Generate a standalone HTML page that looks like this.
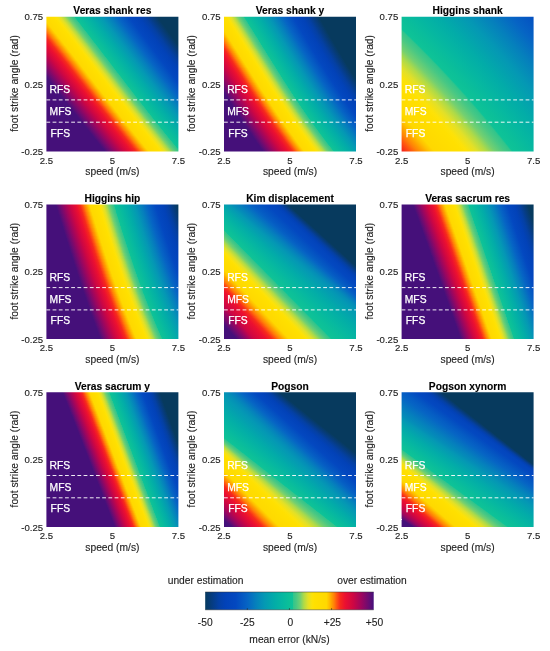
<!DOCTYPE html>
<html lang="en"><head><meta charset="utf-8"><title>Mean error heatmaps</title>
<style>html,body{margin:0;padding:0;background:#fff}body{width:550px;height:651px;overflow:hidden}svg{display:block}text{font-family:"Liberation Sans", sans-serif;fill:#222;stroke:#222;stroke-width:.12px;font-size:10.25px}.t{font-weight:bold;fill:#000;stroke:#000;text-anchor:middle}.k{font-size:9.6px}.l{text-anchor:middle}.w{font-size:10.3px;fill:#fff;stroke:#fff;stroke-width:.25px}.d{stroke:#fff;stroke-width:1;stroke-dasharray:3.8 2.4;fill:none;opacity:.92}</style></head><body>
<svg width="550" height="651" viewBox="0 0 550 651">
<rect width="550" height="651" fill="#fff"/>
<defs>
<linearGradient id="b0"><stop offset="0" stop-color="#ffa000"/><stop offset=".06" stop-color="#ffc000"/><stop offset=".12" stop-color="#ffd800"/><stop offset=".4" stop-color="#ffe000"/><stop offset=".46" stop-color="#fde208"/><stop offset=".56" stop-color="#e2e028"/><stop offset=".66" stop-color="#aeda48"/><stop offset=".74" stop-color="#74d070"/><stop offset=".84" stop-color="#48c884"/><stop offset=".908" stop-color="#32c58b"/><stop offset=".928" stop-color="#0ec397"/><stop offset="1" stop-color="#0cc098"/></linearGradient>
<linearGradient id="b1"><stop offset="0" stop-color="#0cc098"/><stop offset=".16" stop-color="#06b8a0"/><stop offset=".36" stop-color="#02aca8"/><stop offset=".6" stop-color="#0498b4"/><stop offset=".8" stop-color="#0580bc"/><stop offset="1" stop-color="#0664c4"/></linearGradient>
<linearGradient id="b2"><stop offset="0" stop-color="#0664c4"/><stop offset=".28" stop-color="#0348c0"/><stop offset=".52" stop-color="#0242b8"/><stop offset=".68" stop-color="#0440a4"/><stop offset=".84" stop-color="#063c80"/><stop offset="1" stop-color="#073a5e"/></linearGradient>
<linearGradient id="b3"><stop offset="0" stop-color="#45107a"/><stop offset=".12" stop-color="#6a0c72"/><stop offset=".28" stop-color="#9a0660"/><stop offset=".48" stop-color="#cc0644"/><stop offset=".68" stop-color="#ec1030"/><stop offset=".8" stop-color="#f62a1c"/><stop offset=".88" stop-color="#ff5610"/><stop offset=".94" stop-color="#ff8008"/><stop offset="1" stop-color="#ffa000"/></linearGradient>
<linearGradient id="b4"><stop offset="0" stop-color="#45107a"/><stop offset=".03" stop-color="#6a0c72"/><stop offset=".07" stop-color="#9a0660"/><stop offset=".12" stop-color="#cc0644"/><stop offset=".17" stop-color="#ec1030"/><stop offset=".2" stop-color="#f62a1c"/><stop offset=".22" stop-color="#ff5610"/><stop offset=".235" stop-color="#ff8008"/><stop offset=".25" stop-color="#ffa000"/><stop offset=".265" stop-color="#ffc000"/><stop offset=".28" stop-color="#ffd800"/><stop offset=".35" stop-color="#ffe000"/><stop offset=".365" stop-color="#fde208"/><stop offset=".39" stop-color="#e2e028"/><stop offset=".415" stop-color="#aeda48"/><stop offset=".435" stop-color="#74d070"/><stop offset=".46" stop-color="#48c884"/><stop offset=".477" stop-color="#32c58b"/><stop offset=".482" stop-color="#0ec397"/><stop offset=".5" stop-color="#0cc098"/><stop offset=".54" stop-color="#06b8a0"/><stop offset=".59" stop-color="#02aca8"/><stop offset=".65" stop-color="#0498b4"/><stop offset=".7" stop-color="#0580bc"/><stop offset=".75" stop-color="#0664c4"/><stop offset=".82" stop-color="#0348c0"/><stop offset=".88" stop-color="#0242b8"/><stop offset=".92" stop-color="#0440a4"/><stop offset=".96" stop-color="#063c80"/><stop offset="1" stop-color="#073a5e"/></linearGradient>
<linearGradient id="b5"><stop offset="0" stop-color="#35c58a"/><stop offset=".0103" stop-color="#32c58b"/><stop offset=".0359" stop-color="#0ec397"/><stop offset=".1282" stop-color="#0cc098"/><stop offset=".3333" stop-color="#06b8a0"/><stop offset=".5897" stop-color="#02aca8"/><stop offset=".8974" stop-color="#0498b4"/><stop offset="1" stop-color="#048eb7"/></linearGradient>
<linearGradient id="b6"><stop offset="0" stop-color="#048eb7"/><stop offset=".3" stop-color="#0580bc"/><stop offset=".8" stop-color="#0664c4"/><stop offset="1" stop-color="#055cc3"/></linearGradient>
<linearGradient id="b7"><stop offset="0" stop-color="#055cc3"/><stop offset=".7143" stop-color="#0348c0"/><stop offset="1" stop-color="#0346bd"/></linearGradient>
<linearGradient id="b8"><stop offset="0" stop-color="#0346bd"/><stop offset=".25" stop-color="#0242b8"/><stop offset=".5" stop-color="#0440a4"/><stop offset=".75" stop-color="#063c80"/><stop offset="1" stop-color="#073a5e"/></linearGradient>
<linearGradient id="b9"><stop offset="0" stop-color="#ffde00"/><stop offset=".1379" stop-color="#ffe000"/><stop offset=".2414" stop-color="#fde208"/><stop offset=".4138" stop-color="#e2e028"/><stop offset=".5862" stop-color="#aeda48"/><stop offset=".7241" stop-color="#74d070"/><stop offset=".8966" stop-color="#48c884"/><stop offset="1" stop-color="#35c58a"/></linearGradient>
<linearGradient id="b10"><stop offset="0" stop-color="#ff640d"/><stop offset=".0952" stop-color="#ff8008"/><stop offset=".2381" stop-color="#ffa000"/><stop offset=".381" stop-color="#ffc000"/><stop offset=".5238" stop-color="#ffd800"/><stop offset="1" stop-color="#ffde00"/></linearGradient>
<linearGradient id="b11"><stop offset="0" stop-color="#ec1030"/><stop offset=".5455" stop-color="#f62a1c"/><stop offset=".9091" stop-color="#ff5610"/><stop offset="1" stop-color="#ff640d"/></linearGradient>
<linearGradient id="b12"><stop offset="0" stop-color="#cc0644"/><stop offset="1" stop-color="#ec1030"/></linearGradient>
<linearGradient id="b13"><stop offset="0" stop-color="#9a0660"/><stop offset="1" stop-color="#cc0644"/></linearGradient>
<linearGradient id="b14"><stop offset="0" stop-color="#45107a"/><stop offset=".4286" stop-color="#6a0c72"/><stop offset="1" stop-color="#9a0660"/></linearGradient>
<linearGradient id="b15"><stop offset="0" stop-color="#ffd900"/><stop offset="1" stop-color="#ffde00"/></linearGradient>
<linearGradient id="b16"><stop offset="0" stop-color="#ff640d"/><stop offset=".1667" stop-color="#ff8008"/><stop offset=".4167" stop-color="#ffa000"/><stop offset=".6667" stop-color="#ffc000"/><stop offset=".9167" stop-color="#ffd800"/><stop offset="1" stop-color="#ffd900"/></linearGradient>
<linearGradient id="b17"><stop offset="0" stop-color="#9a0660"/><stop offset=".5" stop-color="#cc0644"/><stop offset="1" stop-color="#ec1030"/></linearGradient>
<linearGradient id="cb">
<stop offset="0" stop-color="#073a5e"/>
<stop offset=".04" stop-color="#063c80"/>
<stop offset=".08" stop-color="#0440a4"/>
<stop offset=".12" stop-color="#0242b8"/>
<stop offset=".18" stop-color="#0348c0"/>
<stop offset=".25" stop-color="#0664c4"/>
<stop offset=".3" stop-color="#0580bc"/>
<stop offset=".35" stop-color="#0498b4"/>
<stop offset=".41" stop-color="#02aca8"/>
<stop offset=".46" stop-color="#06b8a0"/>
<stop offset=".5" stop-color="#0cc098"/>
<stop offset=".518" stop-color="#0ec397"/>
<stop offset=".523" stop-color="#32c58b"/>
<stop offset=".54" stop-color="#48c884"/>
<stop offset=".565" stop-color="#74d070"/>
<stop offset=".585" stop-color="#aeda48"/>
<stop offset=".61" stop-color="#e2e028"/>
<stop offset=".635" stop-color="#fde208"/>
<stop offset=".65" stop-color="#ffe000"/>
<stop offset=".72" stop-color="#ffd800"/>
<stop offset=".735" stop-color="#ffc000"/>
<stop offset=".75" stop-color="#ffa000"/>
<stop offset=".765" stop-color="#ff8008"/>
<stop offset=".78" stop-color="#ff5610"/>
<stop offset=".8" stop-color="#f62a1c"/>
<stop offset=".83" stop-color="#ec1030"/>
<stop offset=".88" stop-color="#cc0644"/>
<stop offset=".93" stop-color="#9a0660"/>
<stop offset=".97" stop-color="#6a0c72"/>
<stop offset="1" stop-color="#45107a"/>
</linearGradient></defs>
<clipPath id="c0"><rect x="46.4" y="16.7" width="132" height="134.7"/></clipPath>
<g class="r" clip-path="url(#c0)" shape-rendering="crispEdges">
<g fill="url(#b0)">
<rect x="37.5" y="16" width="40" height="1"/>
<rect x="38.25" y="17" width="40" height="1"/>
<rect x="39" y="18" width="40" height="1"/>
<rect x="39.75" y="19" width="40" height="1"/>
<rect x="40.75" y="20" width="39.75" height="1"/>
<rect x="41.5" y="21" width="39.75" height="1"/>
<rect x="42.25" y="22" width="40" height="1"/>
<rect x="43" y="23" width="40" height="1"/>
<rect x="44" y="24" width="39.75" height="1"/>
<rect x="44.75" y="25" width="39.75" height="1"/>
<rect x="45.5" y="26" width="39.75" height="1"/>
<rect x="46.25" y="27" width="39.75" height="1"/>
<rect x="47.25" y="28" width="39.5" height="1"/>
<rect x="48" y="29" width="39.5" height="1"/>
<rect x="48.75" y="30" width="39.5" height="1"/>
<rect x="49.5" y="31" width="39.75" height="1"/>
<rect x="50.25" y="32" width="39.75" height="1"/>
<rect x="51" y="33" width="39.75" height="1"/>
<rect x="52" y="34" width="39.5" height="1"/>
<rect x="52.75" y="35" width="39.5" height="1"/>
<rect x="53.5" y="36" width="39.5" height="1"/>
<rect x="54.25" y="37" width="39.5" height="1"/>
<rect x="55" y="38" width="39.5" height="1"/>
<rect x="56" y="39" width="39.25" height="1"/>
<rect x="56.75" y="40" width="39.25" height="1"/>
<rect x="57.5" y="41" width="39.25" height="1"/>
<rect x="58.25" y="42" width="39.25" height="1"/>
<rect x="59" y="43" width="39.5" height="1"/>
<rect x="59.75" y="44" width="39.5" height="1"/>
<rect x="60.5" y="45" width="39.5" height="1"/>
<rect x="61.5" y="46" width="39.25" height="1"/>
<rect x="62.25" y="47" width="39.25" height="1"/>
<rect x="63" y="48" width="39.25" height="1"/>
<rect x="63.75" y="49" width="39.25" height="1"/>
<rect x="64.5" y="50" width="39.25" height="1"/>
<rect x="65.25" y="51" width="39.25" height="1"/>
<rect x="66" y="52" width="39.25" height="1"/>
<rect x="67" y="53" width="39" height="1"/>
<rect x="67.75" y="54" width="39" height="1"/>
<rect x="68.5" y="55" width="39" height="1"/>
<rect x="69.25" y="56" width="39" height="1"/>
<rect x="70" y="57" width="39.25" height="1"/>
<rect x="70.75" y="58" width="39.25" height="1"/>
<rect x="71.5" y="59" width="39.25" height="1"/>
<rect x="72.25" y="60" width="39.25" height="1"/>
<rect x="73.25" y="61" width="39" height="1"/>
<rect x="74" y="62" width="39" height="1"/>
<rect x="74.75" y="63" width="39" height="1"/>
<rect x="75.5" y="64" width="39" height="1"/>
<rect x="76.25" y="65" width="39" height="1"/>
<rect x="77" y="66" width="39" height="1"/>
<rect x="77.75" y="67" width="39" height="1"/>
<rect x="78.5" y="68" width="39" height="1"/>
<rect x="79.25" y="69" width="39" height="1"/>
<rect x="80.25" y="70" width="38.75" height="1"/>
<rect x="81" y="71" width="38.75" height="1"/>
<rect x="81.75" y="72" width="38.75" height="1"/>
<rect x="82.5" y="73" width="39" height="1"/>
<rect x="83.25" y="74" width="39" height="1"/>
<rect x="84" y="75" width="39" height="1"/>
<rect x="84.75" y="76" width="39" height="1"/>
<rect x="85.5" y="77" width="39" height="1"/>
<rect x="86.25" y="78" width="39" height="1"/>
<rect x="87.25" y="79" width="38.75" height="1"/>
<rect x="88" y="80" width="38.75" height="1"/>
<rect x="88.75" y="81" width="38.75" height="1"/>
<rect x="89.5" y="82" width="38.75" height="1"/>
<rect x="90.25" y="83" width="38.75" height="1"/>
<rect x="91" y="84" width="38.75" height="1"/>
<rect x="91.75" y="85" width="38.75" height="1"/>
<rect x="92.5" y="86" width="38.75" height="1"/>
<rect x="93.25" y="87" width="39" height="1"/>
<rect x="94" y="88" width="39" height="1"/>
<rect x="95" y="89" width="38.75" height="1"/>
<rect x="95.75" y="90" width="38.75" height="1"/>
<rect x="96.5" y="91" width="38.75" height="1"/>
<rect x="97.25" y="92" width="38.75" height="1"/>
<rect x="98" y="93" width="38.75" height="1"/>
<rect x="98.75" y="94" width="38.75" height="1"/>
<rect x="99.5" y="95" width="38.75" height="1"/>
<rect x="100.25" y="96" width="38.75" height="1"/>
<rect x="101" y="97" width="38.75" height="1"/>
<rect x="102" y="98" width="38.75" height="1"/>
<rect x="102.75" y="99" width="38.75" height="1"/>
<rect x="103.5" y="100" width="38.75" height="1"/>
<rect x="104.25" y="101" width="38.75" height="1"/>
<rect x="105" y="102" width="38.75" height="1"/>
<rect x="105.75" y="103" width="38.75" height="1"/>
<rect x="106.5" y="104" width="38.75" height="1"/>
<rect x="107.25" y="105" width="38.75" height="1"/>
<rect x="108.25" y="106" width="38.75" height="1"/>
<rect x="109" y="107" width="38.75" height="1"/>
<rect x="109.75" y="108" width="38.75" height="1"/>
<rect x="110.5" y="109" width="38.75" height="1"/>
<rect x="111.25" y="110" width="38.75" height="1"/>
<rect x="112" y="111" width="38.75" height="1"/>
<rect x="112.75" y="112" width="38.75" height="1"/>
<rect x="113.75" y="113" width="38.75" height="1"/>
<rect x="114.5" y="114" width="38.75" height="1"/>
<rect x="115.25" y="115" width="38.75" height="1"/>
<rect x="116" y="116" width="38.75" height="1"/>
<rect x="116.75" y="117" width="38.75" height="1"/>
<rect x="117.5" y="118" width="38.75" height="1"/>
<rect x="118.25" y="119" width="39" height="1"/>
<rect x="119.25" y="120" width="38.75" height="1"/>
<rect x="120" y="121" width="38.75" height="1"/>
<rect x="120.75" y="122" width="38.75" height="1"/>
<rect x="121.5" y="123" width="38.75" height="1"/>
<rect x="122.25" y="124" width="38.75" height="1"/>
<rect x="123" y="125" width="39" height="1"/>
<rect x="124" y="126" width="38.75" height="1"/>
<rect x="124.75" y="127" width="38.75" height="1"/>
<rect x="125.5" y="128" width="38.75" height="1"/>
<rect x="126.25" y="129" width="39" height="1"/>
<rect x="127" y="130" width="39" height="1"/>
<rect x="128" y="131" width="38.75" height="1"/>
<rect x="128.75" y="132" width="38.75" height="1"/>
<rect x="129.5" y="133" width="38.75" height="1"/>
<rect x="130.25" y="134" width="39" height="1"/>
<rect x="131" y="135" width="39" height="1"/>
<rect x="132" y="136" width="38.75" height="1"/>
<rect x="132.75" y="137" width="38.75" height="1"/>
<rect x="133.5" y="138" width="39" height="1"/>
<rect x="134.25" y="139" width="39" height="1"/>
<rect x="135.25" y="140" width="38.75" height="1"/>
<rect x="136" y="141" width="39" height="1"/>
<rect x="136.75" y="142" width="39" height="1"/>
<rect x="137.5" y="143" width="39" height="1"/>
<rect x="138.5" y="144" width="38.75" height="1"/>
<rect x="139.25" y="145" width="39" height="1"/>
<rect x="140" y="146" width="39" height="1"/>
<rect x="140.75" y="147" width="39" height="1"/>
<rect x="141.75" y="148" width="39" height="1"/>
<rect x="142.5" y="149" width="39" height="1"/>
<rect x="143.25" y="150" width="39" height="1"/>
<rect x="144" y="151" width="39" height="1"/>
</g>
<g fill="url(#b1)">
<rect x="77.5" y="16" width="40" height="1"/>
<rect x="78.25" y="17" width="40" height="1"/>
<rect x="79" y="18" width="40" height="1"/>
<rect x="79.75" y="19" width="40" height="1"/>
<rect x="80.5" y="20" width="40" height="1"/>
<rect x="81.25" y="21" width="40" height="1"/>
<rect x="82.25" y="22" width="39.75" height="1"/>
<rect x="83" y="23" width="39.75" height="1"/>
<rect x="83.75" y="24" width="39.75" height="1"/>
<rect x="84.5" y="25" width="39.75" height="1"/>
<rect x="85.25" y="26" width="39.75" height="1"/>
<rect x="86" y="27" width="39.75" height="1"/>
<rect x="86.75" y="28" width="39.75" height="1"/>
<rect x="87.5" y="29" width="39.75" height="1"/>
<rect x="88.25" y="30" width="39.75" height="1"/>
<rect x="89.25" y="31" width="39.5" height="1"/>
<rect x="90" y="32" width="39.5" height="1"/>
<rect x="90.75" y="33" width="39.5" height="1"/>
<rect x="91.5" y="34" width="39.5" height="1"/>
<rect x="92.25" y="35" width="39.5" height="1"/>
<rect x="93" y="36" width="39.5" height="1"/>
<rect x="93.75" y="37" width="39.5" height="1"/>
<rect x="94.5" y="38" width="39.5" height="1"/>
<rect x="95.25" y="39" width="39.5" height="1"/>
<rect x="96" y="40" width="39.5" height="1"/>
<rect x="96.75" y="41" width="39.5" height="1"/>
<rect x="97.5" y="42" width="39.5" height="1"/>
<rect x="98.5" y="43" width="39.25" height="1"/>
<rect x="99.25" y="44" width="39.25" height="1"/>
<rect x="100" y="45" width="39.25" height="1"/>
<rect x="100.75" y="46" width="39.25" height="1"/>
<rect x="101.5" y="47" width="39.25" height="1"/>
<rect x="102.25" y="48" width="39.25" height="1"/>
<rect x="103" y="49" width="39.25" height="1"/>
<rect x="103.75" y="50" width="39.25" height="1"/>
<rect x="104.5" y="51" width="39.25" height="1"/>
<rect x="105.25" y="52" width="39.25" height="1"/>
<rect x="106" y="53" width="39.25" height="1"/>
<rect x="106.75" y="54" width="39.25" height="1"/>
<rect x="107.5" y="55" width="39.25" height="1"/>
<rect x="108.25" y="56" width="39.25" height="1"/>
<rect x="109.25" y="57" width="39" height="1"/>
<rect x="110" y="58" width="39" height="1"/>
<rect x="110.75" y="59" width="39" height="1"/>
<rect x="111.5" y="60" width="39" height="1"/>
<rect x="112.25" y="61" width="39" height="1"/>
<rect x="113" y="62" width="39" height="1"/>
<rect x="113.75" y="63" width="39" height="1"/>
<rect x="114.5" y="64" width="39" height="1"/>
<rect x="115.25" y="65" width="39" height="1"/>
<rect x="116" y="66" width="39" height="1"/>
<rect x="116.75" y="67" width="39" height="1"/>
<rect x="117.5" y="68" width="39" height="1"/>
<rect x="118.25" y="69" width="39" height="1"/>
<rect x="119" y="70" width="39" height="1"/>
<rect x="119.75" y="71" width="39" height="1"/>
<rect x="120.5" y="72" width="39" height="1"/>
<rect x="121.5" y="73" width="38.75" height="1"/>
<rect x="122.25" y="74" width="38.75" height="1"/>
<rect x="123" y="75" width="38.75" height="1"/>
<rect x="123.75" y="76" width="38.75" height="1"/>
<rect x="124.5" y="77" width="38.75" height="1"/>
<rect x="125.25" y="78" width="38.75" height="1"/>
<rect x="126" y="79" width="38.75" height="1"/>
<rect x="126.75" y="80" width="38.75" height="1"/>
<rect x="127.5" y="81" width="38.75" height="1"/>
<rect x="128.25" y="82" width="38.75" height="1"/>
<rect x="129" y="83" width="39" height="1"/>
<rect x="129.75" y="84" width="39" height="1"/>
<rect x="130.5" y="85" width="39" height="1"/>
<rect x="131.25" y="86" width="39" height="1"/>
<rect x="132.25" y="87" width="38.75" height="1"/>
<rect x="133" y="88" width="38.75" height="1"/>
<rect x="133.75" y="89" width="38.75" height="1"/>
<rect x="134.5" y="90" width="38.75" height="1"/>
<rect x="135.25" y="91" width="38.75" height="1"/>
<rect x="136" y="92" width="38.75" height="1"/>
<rect x="136.75" y="93" width="38.75" height="1"/>
<rect x="137.5" y="94" width="38.75" height="1"/>
<rect x="138.25" y="95" width="38.75" height="1"/>
<rect x="139" y="96" width="38.75" height="1"/>
<rect x="139.75" y="97" width="39" height="1"/>
<rect x="140.75" y="98" width="38.75" height="1"/>
<rect x="141.5" y="99" width="38.75" height="1"/>
<rect x="142.25" y="100" width="38.75" height="1"/>
<rect x="143" y="101" width="38.75" height="1"/>
<rect x="143.75" y="102" width="38.75" height="1"/>
<rect x="144.5" y="103" width="38.75" height="1"/>
<rect x="145.25" y="104" width="38.75" height="1"/>
<rect x="146" y="105" width="38.75" height="1"/>
<rect x="147" y="106" width="38.75" height="1"/>
<rect x="147.75" y="107" width="38.75" height="1"/>
<rect x="148.5" y="108" width="38.75" height="1"/>
<rect x="149.25" y="109" width="38.75" height="1"/>
<rect x="150" y="110" width="38.75" height="1"/>
<rect x="150.75" y="111" width="38.75" height="1"/>
<rect x="151.5" y="112" width="38.75" height="1"/>
<rect x="152.5" y="113" width="38.75" height="1"/>
<rect x="153.25" y="114" width="38.75" height="1"/>
<rect x="154" y="115" width="38.75" height="1"/>
<rect x="154.75" y="116" width="38.75" height="1"/>
<rect x="155.5" y="117" width="38.75" height="1"/>
<rect x="156.25" y="118" width="38.75" height="1"/>
<rect x="157.25" y="119" width="38.75" height="1"/>
<rect x="158" y="120" width="38.75" height="1"/>
<rect x="158.75" y="121" width="38.75" height="1"/>
<rect x="159.5" y="122" width="38.75" height="1"/>
<rect x="160.25" y="123" width="38.75" height="1"/>
<rect x="161" y="124" width="39" height="1"/>
<rect x="162" y="125" width="38.75" height="1"/>
<rect x="162.75" y="126" width="38.75" height="1"/>
<rect x="163.5" y="127" width="38.75" height="1"/>
<rect x="164.25" y="128" width="39" height="1"/>
<rect x="165.25" y="129" width="38.75" height="1"/>
<rect x="166" y="130" width="38.75" height="1"/>
<rect x="166.75" y="131" width="38.75" height="1"/>
<rect x="167.5" y="132" width="39" height="1"/>
<rect x="168.25" y="133" width="39" height="1"/>
<rect x="169.25" y="134" width="38.75" height="1"/>
<rect x="170" y="135" width="38.75" height="1"/>
<rect x="170.75" y="136" width="39" height="1"/>
<rect x="171.5" y="137" width="39" height="1"/>
<rect x="172.5" y="138" width="38.75" height="1"/>
<rect x="173.25" y="139" width="39" height="1"/>
<rect x="174" y="140" width="39" height="1"/>
<rect x="175" y="141" width="38.75" height="1"/>
<rect x="175.75" y="142" width="39" height="1"/>
<rect x="176.5" y="143" width="39" height="1"/>
<rect x="177.25" y="144" width="39" height="1"/>
<rect x="178.25" y="145" width="39" height="1"/>
</g>
<g fill="url(#b2)">
<rect x="117.5" y="16" width="40" height="1"/>
<rect x="118.25" y="17" width="40" height="1"/>
<rect x="119" y="18" width="40" height="1"/>
<rect x="119.75" y="19" width="40" height="1"/>
<rect x="120.5" y="20" width="39.75" height="1"/>
<rect x="121.25" y="21" width="39.75" height="1"/>
<rect x="122" y="22" width="39.75" height="1"/>
<rect x="122.75" y="23" width="39.75" height="1"/>
<rect x="123.5" y="24" width="39.75" height="1"/>
<rect x="124.25" y="25" width="39.75" height="1"/>
<rect x="125" y="26" width="39.75" height="1"/>
<rect x="125.75" y="27" width="39.75" height="1"/>
<rect x="126.5" y="28" width="39.75" height="1"/>
<rect x="127.25" y="29" width="39.75" height="1"/>
<rect x="128" y="30" width="39.75" height="1"/>
<rect x="128.75" y="31" width="39.5" height="1"/>
<rect x="129.5" y="32" width="39.5" height="1"/>
<rect x="130.25" y="33" width="39.5" height="1"/>
<rect x="131" y="34" width="39.5" height="1"/>
<rect x="131.75" y="35" width="39.5" height="1"/>
<rect x="132.5" y="36" width="39.5" height="1"/>
<rect x="133.25" y="37" width="39.5" height="1"/>
<rect x="134" y="38" width="39.5" height="1"/>
<rect x="134.75" y="39" width="39.5" height="1"/>
<rect x="135.5" y="40" width="39.5" height="1"/>
<rect x="136.25" y="41" width="39.5" height="1"/>
<rect x="137" y="42" width="39.25" height="1"/>
<rect x="137.75" y="43" width="39.25" height="1"/>
<rect x="138.5" y="44" width="39.25" height="1"/>
<rect x="139.25" y="45" width="39.25" height="1"/>
<rect x="140" y="46" width="39.25" height="1"/>
<rect x="140.75" y="47" width="39.25" height="1"/>
<rect x="141.5" y="48" width="39.25" height="1"/>
<rect x="142.25" y="49" width="39.25" height="1"/>
<rect x="143" y="50" width="39.25" height="1"/>
<rect x="143.75" y="51" width="39.25" height="1"/>
<rect x="144.5" y="52" width="39.25" height="1"/>
<rect x="145.25" y="53" width="39.25" height="1"/>
<rect x="146" y="54" width="39.25" height="1"/>
<rect x="146.75" y="55" width="39.25" height="1"/>
<rect x="147.5" y="56" width="39" height="1"/>
<rect x="148.25" y="57" width="39" height="1"/>
<rect x="149" y="58" width="39" height="1"/>
<rect x="149.75" y="59" width="39" height="1"/>
<rect x="150.5" y="60" width="39" height="1"/>
<rect x="151.25" y="61" width="39" height="1"/>
<rect x="152" y="62" width="39" height="1"/>
<rect x="152.75" y="63" width="39" height="1"/>
<rect x="153.5" y="64" width="39" height="1"/>
<rect x="154.25" y="65" width="39" height="1"/>
<rect x="155" y="66" width="39" height="1"/>
<rect x="155.75" y="67" width="39" height="1"/>
<rect x="156.5" y="68" width="39" height="1"/>
<rect x="157.25" y="69" width="39" height="1"/>
<rect x="158" y="70" width="39" height="1"/>
<rect x="158.75" y="71" width="39" height="1"/>
<rect x="159.5" y="72" width="39" height="1"/>
<rect x="160.25" y="73" width="39" height="1"/>
<rect x="161" y="74" width="39" height="1"/>
<rect x="161.75" y="75" width="39" height="1"/>
<rect x="162.5" y="76" width="39" height="1"/>
<rect x="163.25" y="77" width="39" height="1"/>
<rect x="164" y="78" width="39" height="1"/>
<rect x="164.75" y="79" width="39" height="1"/>
<rect x="165.5" y="80" width="39" height="1"/>
<rect x="166.25" y="81" width="39" height="1"/>
<rect x="167" y="82" width="39" height="1"/>
<rect x="168" y="83" width="38.75" height="1"/>
<rect x="168.75" y="84" width="38.75" height="1"/>
<rect x="169.5" y="85" width="38.75" height="1"/>
<rect x="170.25" y="86" width="38.75" height="1"/>
<rect x="171" y="87" width="38.75" height="1"/>
<rect x="171.75" y="88" width="38.75" height="1"/>
<rect x="172.5" y="89" width="38.75" height="1"/>
<rect x="173.25" y="90" width="38.75" height="1"/>
<rect x="174" y="91" width="38.75" height="1"/>
<rect x="174.75" y="92" width="38.75" height="1"/>
<rect x="175.5" y="93" width="38.75" height="1"/>
<rect x="176.25" y="94" width="38.75" height="1"/>
<rect x="177" y="95" width="38.75" height="1"/>
<rect x="177.75" y="96" width="38.75" height="1"/>
</g>
<g fill="#073a5e">
<rect x="157.5" y="16" width="22.5" height="1"/>
<rect x="158.25" y="17" width="21.75" height="1"/>
<rect x="159" y="18" width="21" height="1"/>
<rect x="159.75" y="19" width="20.25" height="1"/>
<rect x="160.25" y="20" width="19.75" height="1"/>
<rect x="161" y="21" width="19" height="1"/>
<rect x="161.75" y="22" width="18.25" height="1"/>
<rect x="162.5" y="23" width="17.5" height="1"/>
<rect x="163.25" y="24" width="16.75" height="1"/>
<rect x="164" y="25" width="16" height="1"/>
<rect x="164.75" y="26" width="15.25" height="1"/>
<rect x="165.5" y="27" width="14.5" height="1"/>
<rect x="166.25" y="28" width="13.75" height="1"/>
<rect x="167" y="29" width="13" height="1"/>
<rect x="167.75" y="30" width="12.25" height="1"/>
<rect x="168.25" y="31" width="11.75" height="1"/>
<rect x="169" y="32" width="11" height="1"/>
<rect x="169.75" y="33" width="10.25" height="1"/>
<rect x="170.5" y="34" width="9.5" height="1"/>
<rect x="171.25" y="35" width="8.75" height="1"/>
<rect x="172" y="36" width="8" height="1"/>
<rect x="172.75" y="37" width="7.25" height="1"/>
<rect x="173.5" y="38" width="6.5" height="1"/>
<rect x="174.25" y="39" width="5.75" height="1"/>
<rect x="175" y="40" width="5" height="1"/>
<rect x="175.75" y="41" width="4.25" height="1"/>
<rect x="176.25" y="42" width="3.75" height="1"/>
<rect x="177" y="43" width="3" height="1"/>
<rect x="177.75" y="44" width="2.25" height="1"/>
</g>
<g fill="url(#b3)">
<rect x="7.5" y="28" width="39.75" height="1"/>
<rect x="8.25" y="29" width="39.75" height="1"/>
<rect x="9" y="30" width="39.75" height="1"/>
<rect x="10" y="31" width="39.5" height="1"/>
<rect x="10.75" y="32" width="39.5" height="1"/>
<rect x="11.5" y="33" width="39.5" height="1"/>
<rect x="12.25" y="34" width="39.75" height="1"/>
<rect x="13.25" y="35" width="39.5" height="1"/>
<rect x="14" y="36" width="39.5" height="1"/>
<rect x="14.75" y="37" width="39.5" height="1"/>
<rect x="15.75" y="38" width="39.25" height="1"/>
<rect x="16.5" y="39" width="39.5" height="1"/>
<rect x="17.25" y="40" width="39.5" height="1"/>
<rect x="18" y="41" width="39.5" height="1"/>
<rect x="19" y="42" width="39.25" height="1"/>
<rect x="19.75" y="43" width="39.25" height="1"/>
<rect x="20.5" y="44" width="39.25" height="1"/>
<rect x="21.25" y="45" width="39.25" height="1"/>
<rect x="22" y="46" width="39.5" height="1"/>
<rect x="23" y="47" width="39.25" height="1"/>
<rect x="23.75" y="48" width="39.25" height="1"/>
<rect x="24.5" y="49" width="39.25" height="1"/>
<rect x="25.25" y="50" width="39.25" height="1"/>
<rect x="26" y="51" width="39.25" height="1"/>
<rect x="27" y="52" width="39" height="1"/>
<rect x="27.75" y="53" width="39.25" height="1"/>
<rect x="28.5" y="54" width="39.25" height="1"/>
<rect x="29.25" y="55" width="39.25" height="1"/>
<rect x="30" y="56" width="39.25" height="1"/>
<rect x="31" y="57" width="39" height="1"/>
<rect x="31.75" y="58" width="39" height="1"/>
<rect x="32.5" y="59" width="39" height="1"/>
<rect x="33.25" y="60" width="39" height="1"/>
<rect x="34" y="61" width="39.25" height="1"/>
<rect x="35" y="62" width="39" height="1"/>
<rect x="35.75" y="63" width="39" height="1"/>
<rect x="36.5" y="64" width="39" height="1"/>
<rect x="37.25" y="65" width="39" height="1"/>
<rect x="38" y="66" width="39" height="1"/>
<rect x="38.75" y="67" width="39" height="1"/>
<rect x="39.5" y="68" width="39" height="1"/>
<rect x="40.5" y="69" width="38.75" height="1"/>
<rect x="41.25" y="70" width="39" height="1"/>
<rect x="42" y="71" width="39" height="1"/>
<rect x="42.75" y="72" width="39" height="1"/>
<rect x="43.5" y="73" width="39" height="1"/>
<rect x="44.25" y="74" width="39" height="1"/>
<rect x="45.25" y="75" width="38.75" height="1"/>
<rect x="46" y="76" width="38.75" height="1"/>
<rect x="46.75" y="77" width="38.75" height="1"/>
<rect x="47.5" y="78" width="38.75" height="1"/>
<rect x="48.25" y="79" width="39" height="1"/>
<rect x="49" y="80" width="39" height="1"/>
<rect x="49.75" y="81" width="39" height="1"/>
<rect x="50.5" y="82" width="39" height="1"/>
<rect x="51.5" y="83" width="38.75" height="1"/>
<rect x="52.25" y="84" width="38.75" height="1"/>
<rect x="53" y="85" width="38.75" height="1"/>
<rect x="53.75" y="86" width="38.75" height="1"/>
<rect x="54.5" y="87" width="38.75" height="1"/>
<rect x="55.25" y="88" width="38.75" height="1"/>
<rect x="56" y="89" width="39" height="1"/>
<rect x="57" y="90" width="38.75" height="1"/>
<rect x="57.75" y="91" width="38.75" height="1"/>
<rect x="58.5" y="92" width="38.75" height="1"/>
<rect x="59.25" y="93" width="38.75" height="1"/>
<rect x="60" y="94" width="38.75" height="1"/>
<rect x="60.75" y="95" width="38.75" height="1"/>
<rect x="61.5" y="96" width="38.75" height="1"/>
<rect x="62.25" y="97" width="38.75" height="1"/>
<rect x="63.25" y="98" width="38.75" height="1"/>
<rect x="64" y="99" width="38.75" height="1"/>
<rect x="64.75" y="100" width="38.75" height="1"/>
<rect x="65.5" y="101" width="38.75" height="1"/>
<rect x="66.25" y="102" width="38.75" height="1"/>
<rect x="67" y="103" width="38.75" height="1"/>
<rect x="67.75" y="104" width="38.75" height="1"/>
<rect x="68.5" y="105" width="38.75" height="1"/>
<rect x="69.5" y="106" width="38.75" height="1"/>
<rect x="70.25" y="107" width="38.75" height="1"/>
<rect x="71" y="108" width="38.75" height="1"/>
<rect x="71.75" y="109" width="38.75" height="1"/>
<rect x="72.5" y="110" width="38.75" height="1"/>
<rect x="73.25" y="111" width="38.75" height="1"/>
<rect x="74" y="112" width="38.75" height="1"/>
<rect x="74.75" y="113" width="39" height="1"/>
<rect x="75.75" y="114" width="38.75" height="1"/>
<rect x="76.5" y="115" width="38.75" height="1"/>
<rect x="77.25" y="116" width="38.75" height="1"/>
<rect x="78" y="117" width="38.75" height="1"/>
<rect x="78.75" y="118" width="38.75" height="1"/>
<rect x="79.5" y="119" width="38.75" height="1"/>
<rect x="80.25" y="120" width="39" height="1"/>
<rect x="81.25" y="121" width="38.75" height="1"/>
<rect x="82" y="122" width="38.75" height="1"/>
<rect x="82.75" y="123" width="38.75" height="1"/>
<rect x="83.5" y="124" width="38.75" height="1"/>
<rect x="84.25" y="125" width="38.75" height="1"/>
<rect x="85" y="126" width="39" height="1"/>
<rect x="86" y="127" width="38.75" height="1"/>
<rect x="86.75" y="128" width="38.75" height="1"/>
<rect x="87.5" y="129" width="38.75" height="1"/>
<rect x="88.25" y="130" width="38.75" height="1"/>
<rect x="89" y="131" width="39" height="1"/>
<rect x="89.75" y="132" width="39" height="1"/>
<rect x="90.75" y="133" width="38.75" height="1"/>
<rect x="91.5" y="134" width="38.75" height="1"/>
<rect x="92.25" y="135" width="38.75" height="1"/>
<rect x="93" y="136" width="39" height="1"/>
<rect x="93.75" y="137" width="39" height="1"/>
<rect x="94.5" y="138" width="39" height="1"/>
<rect x="95.5" y="139" width="38.75" height="1"/>
<rect x="96.25" y="140" width="39" height="1"/>
<rect x="97" y="141" width="39" height="1"/>
<rect x="97.75" y="142" width="39" height="1"/>
<rect x="98.5" y="143" width="39" height="1"/>
<rect x="99.5" y="144" width="39" height="1"/>
<rect x="100.25" y="145" width="39" height="1"/>
<rect x="101" y="146" width="39" height="1"/>
<rect x="101.75" y="147" width="39" height="1"/>
<rect x="102.75" y="148" width="39" height="1"/>
<rect x="103.5" y="149" width="39" height="1"/>
<rect x="104.25" y="150" width="39" height="1"/>
<rect x="105" y="151" width="39" height="1"/>
</g>
<g fill="#45107a">
<rect x="45" y="77" width="1.75" height="1"/>
<rect x="45" y="78" width="2.5" height="1"/>
<rect x="45" y="79" width="3.25" height="1"/>
<rect x="45" y="80" width="4" height="1"/>
<rect x="45" y="81" width="4.75" height="1"/>
<rect x="45" y="82" width="5.5" height="1"/>
<rect x="45" y="83" width="6.5" height="1"/>
<rect x="45" y="84" width="7.25" height="1"/>
<rect x="45" y="85" width="8" height="1"/>
<rect x="45" y="86" width="8.75" height="1"/>
<rect x="45" y="87" width="9.5" height="1"/>
<rect x="45" y="88" width="10.25" height="1"/>
<rect x="45" y="89" width="11" height="1"/>
<rect x="45" y="90" width="12" height="1"/>
<rect x="45" y="91" width="12.75" height="1"/>
<rect x="45" y="92" width="13.5" height="1"/>
<rect x="45" y="93" width="14.25" height="1"/>
<rect x="45" y="94" width="15" height="1"/>
<rect x="45" y="95" width="15.75" height="1"/>
<rect x="45" y="96" width="16.5" height="1"/>
<rect x="45" y="97" width="17.25" height="1"/>
<rect x="45" y="98" width="18.25" height="1"/>
<rect x="45" y="99" width="19" height="1"/>
<rect x="45" y="100" width="19.75" height="1"/>
<rect x="45" y="101" width="20.5" height="1"/>
<rect x="45" y="102" width="21.25" height="1"/>
<rect x="45" y="103" width="22" height="1"/>
<rect x="45" y="104" width="22.75" height="1"/>
<rect x="45" y="105" width="23.5" height="1"/>
<rect x="45" y="106" width="24.5" height="1"/>
<rect x="45" y="107" width="25.25" height="1"/>
<rect x="45" y="108" width="26" height="1"/>
<rect x="45" y="109" width="26.75" height="1"/>
<rect x="45" y="110" width="27.5" height="1"/>
<rect x="45" y="111" width="28.25" height="1"/>
<rect x="45" y="112" width="29" height="1"/>
<rect x="45" y="113" width="29.75" height="1"/>
<rect x="45" y="114" width="30.75" height="1"/>
<rect x="45" y="115" width="31.5" height="1"/>
<rect x="45" y="116" width="32.25" height="1"/>
<rect x="45" y="117" width="33" height="1"/>
<rect x="45" y="118" width="33.75" height="1"/>
<rect x="45" y="119" width="34.5" height="1"/>
<rect x="45" y="120" width="35.25" height="1"/>
<rect x="45" y="121" width="36.25" height="1"/>
<rect x="45" y="122" width="37" height="1"/>
<rect x="45" y="123" width="37.75" height="1"/>
<rect x="45" y="124" width="38.5" height="1"/>
<rect x="45" y="125" width="39.25" height="1"/>
<rect x="45" y="126" width="40" height="1"/>
<rect x="45" y="127" width="41" height="1"/>
<rect x="45" y="128" width="41.75" height="1"/>
<rect x="45" y="129" width="42.5" height="1"/>
<rect x="45" y="130" width="43.25" height="1"/>
<rect x="45" y="131" width="44" height="1"/>
<rect x="45" y="132" width="44.75" height="1"/>
<rect x="45" y="133" width="45.75" height="1"/>
<rect x="45" y="134" width="46.5" height="1"/>
<rect x="45" y="135" width="47.25" height="1"/>
<rect x="45" y="136" width="48" height="1"/>
<rect x="45" y="137" width="48.75" height="1"/>
<rect x="45" y="138" width="49.5" height="1"/>
<rect x="45" y="139" width="50.5" height="1"/>
<rect x="45" y="140" width="51.25" height="1"/>
<rect x="45" y="141" width="52" height="1"/>
<rect x="45" y="142" width="52.75" height="1"/>
<rect x="45" y="143" width="53.5" height="1"/>
<rect x="45" y="144" width="54.5" height="1"/>
<rect x="45" y="145" width="55.25" height="1"/>
<rect x="45" y="146" width="56" height="1"/>
<rect x="45" y="147" width="56.75" height="1"/>
<rect x="45" y="148" width="57.75" height="1"/>
<rect x="45" y="149" width="58.5" height="1"/>
<rect x="45" y="150" width="59.25" height="1"/>
<rect x="45" y="151" width="60" height="1"/>
</g>
</g>
<path class="d" d="M46.4 99.9H178.4 M46.4 122.2H178.4"/>
<text class="w" x="49.6" y="93.4">RFS</text>
<text class="w" x="49.6" y="115.1">MFS</text>
<text class="w" x="50.6" y="136.6">FFS</text>
<text class="t" x="112.4" y="14.4">Veras shank res</text>
<text class="k" text-anchor="end" x="43.1" y="20.4">0.75</text>
<text class="k" text-anchor="end" x="43.1" y="87.75">0.25</text>
<text class="k" text-anchor="end" x="43.1" y="155.1">-0.25</text>
<text class="k" text-anchor="middle" x="46.4" y="163.5">2.5</text>
<text class="k" text-anchor="middle" x="112.4" y="163.5">5</text>
<text class="k" text-anchor="middle" x="178.4" y="163.5">7.5</text>
<text class="l" x="112.4" y="175.2">speed (m/s)</text>
<text class="l" transform="translate(17.8 83.45) rotate(-90)">foot strike angle (rad)</text>
<clipPath id="c1"><rect x="224" y="16.7" width="132" height="134.7"/></clipPath>
<g class="r" clip-path="url(#c1)" shape-rendering="crispEdges">
<g fill="url(#b0)">
<rect x="210.75" y="16" width="36" height="1"/>
<rect x="211.25" y="17" width="36" height="1"/>
<rect x="212" y="18" width="36" height="1"/>
<rect x="212.5" y="19" width="36" height="1"/>
<rect x="213.25" y="20" width="36" height="1"/>
<rect x="213.75" y="21" width="36" height="1"/>
<rect x="214.5" y="22" width="36" height="1"/>
<rect x="215.25" y="23" width="35.75" height="1"/>
<rect x="215.75" y="24" width="36" height="1"/>
<rect x="216.5" y="25" width="35.75" height="1"/>
<rect x="217.25" y="26" width="35.75" height="1"/>
<rect x="217.75" y="27" width="35.75" height="1"/>
<rect x="218.5" y="28" width="35.75" height="1"/>
<rect x="219" y="29" width="35.75" height="1"/>
<rect x="219.75" y="30" width="35.75" height="1"/>
<rect x="220.5" y="31" width="35.5" height="1"/>
<rect x="221" y="32" width="35.75" height="1"/>
<rect x="221.75" y="33" width="35.5" height="1"/>
<rect x="222.25" y="34" width="35.75" height="1"/>
<rect x="223" y="35" width="35.5" height="1"/>
<rect x="223.5" y="36" width="35.75" height="1"/>
<rect x="224.25" y="37" width="35.5" height="1"/>
<rect x="225" y="38" width="35.5" height="1"/>
<rect x="225.5" y="39" width="35.5" height="1"/>
<rect x="226.25" y="40" width="35.5" height="1"/>
<rect x="226.75" y="41" width="35.5" height="1"/>
<rect x="227.5" y="42" width="35.5" height="1"/>
<rect x="228" y="43" width="35.5" height="1"/>
<rect x="228.75" y="44" width="35.25" height="1"/>
<rect x="229.25" y="45" width="35.5" height="1"/>
<rect x="230" y="46" width="35.25" height="1"/>
<rect x="230.5" y="47" width="35.5" height="1"/>
<rect x="231.25" y="48" width="35.25" height="1"/>
<rect x="232" y="49" width="35.25" height="1"/>
<rect x="232.5" y="50" width="35.25" height="1"/>
<rect x="233.25" y="51" width="35.25" height="1"/>
<rect x="233.75" y="52" width="35.25" height="1"/>
<rect x="234.5" y="53" width="35.25" height="1"/>
<rect x="235" y="54" width="35.25" height="1"/>
<rect x="235.75" y="55" width="35.25" height="1"/>
<rect x="236.25" y="56" width="35.25" height="1"/>
<rect x="237" y="57" width="35.25" height="1"/>
<rect x="237.5" y="58" width="35.25" height="1"/>
<rect x="238.25" y="59" width="35.25" height="1"/>
<rect x="238.75" y="60" width="35.25" height="1"/>
<rect x="239.5" y="61" width="35.25" height="1"/>
<rect x="240" y="62" width="35.25" height="1"/>
<rect x="240.75" y="63" width="35.25" height="1"/>
<rect x="241.25" y="64" width="35.25" height="1"/>
<rect x="242" y="65" width="35.25" height="1"/>
<rect x="242.5" y="66" width="35.25" height="1"/>
<rect x="243.25" y="67" width="35.25" height="1"/>
<rect x="244" y="68" width="35" height="1"/>
<rect x="244.5" y="69" width="35.25" height="1"/>
<rect x="245.25" y="70" width="35" height="1"/>
<rect x="245.75" y="71" width="35.25" height="1"/>
<rect x="246.5" y="72" width="35" height="1"/>
<rect x="247" y="73" width="35.25" height="1"/>
<rect x="247.75" y="74" width="35" height="1"/>
<rect x="248.25" y="75" width="35.25" height="1"/>
<rect x="249" y="76" width="35" height="1"/>
<rect x="249.5" y="77" width="35.25" height="1"/>
<rect x="250.25" y="78" width="35" height="1"/>
<rect x="250.75" y="79" width="35.25" height="1"/>
<rect x="251.5" y="80" width="35" height="1"/>
<rect x="252" y="81" width="35.25" height="1"/>
<rect x="252.75" y="82" width="35.25" height="1"/>
<rect x="253.5" y="83" width="35" height="1"/>
<rect x="254" y="84" width="35.25" height="1"/>
<rect x="254.75" y="85" width="35" height="1"/>
<rect x="255.25" y="86" width="35.25" height="1"/>
<rect x="256" y="87" width="35" height="1"/>
<rect x="256.5" y="88" width="35.25" height="1"/>
<rect x="257.25" y="89" width="35.25" height="1"/>
<rect x="257.75" y="90" width="35.25" height="1"/>
<rect x="258.5" y="91" width="35.25" height="1"/>
<rect x="259.25" y="92" width="35" height="1"/>
<rect x="259.75" y="93" width="35.25" height="1"/>
<rect x="260.5" y="94" width="35.25" height="1"/>
<rect x="261" y="95" width="35.25" height="1"/>
<rect x="261.75" y="96" width="35.25" height="1"/>
<rect x="262.5" y="97" width="35.25" height="1"/>
<rect x="263" y="98" width="35.25" height="1"/>
<rect x="263.75" y="99" width="35.25" height="1"/>
<rect x="264.25" y="100" width="35.5" height="1"/>
<rect x="265" y="101" width="35.25" height="1"/>
<rect x="265.75" y="102" width="35.25" height="1"/>
<rect x="266.25" y="103" width="35.5" height="1"/>
<rect x="267" y="104" width="35.25" height="1"/>
<rect x="267.5" y="105" width="35.5" height="1"/>
<rect x="268.25" y="106" width="35.5" height="1"/>
<rect x="269" y="107" width="35.25" height="1"/>
<rect x="269.5" y="108" width="35.5" height="1"/>
<rect x="270.25" y="109" width="35.5" height="1"/>
<rect x="271" y="110" width="35.5" height="1"/>
<rect x="271.5" y="111" width="35.5" height="1"/>
<rect x="272.25" y="112" width="35.5" height="1"/>
<rect x="273" y="113" width="35.5" height="1"/>
<rect x="273.5" y="114" width="35.75" height="1"/>
<rect x="274.25" y="115" width="35.75" height="1"/>
<rect x="275" y="116" width="35.5" height="1"/>
<rect x="275.75" y="117" width="35.5" height="1"/>
<rect x="276.25" y="118" width="35.75" height="1"/>
<rect x="277" y="119" width="35.75" height="1"/>
<rect x="277.75" y="120" width="35.75" height="1"/>
<rect x="278.25" y="121" width="35.75" height="1"/>
<rect x="279" y="122" width="35.75" height="1"/>
<rect x="279.75" y="123" width="35.75" height="1"/>
<rect x="280.5" y="124" width="35.75" height="1"/>
<rect x="281.25" y="125" width="35.75" height="1"/>
<rect x="281.75" y="126" width="36" height="1"/>
<rect x="282.5" y="127" width="36" height="1"/>
<rect x="283.25" y="128" width="36" height="1"/>
<rect x="284" y="129" width="36" height="1"/>
<rect x="284.75" y="130" width="36" height="1"/>
<rect x="285.25" y="131" width="36.25" height="1"/>
<rect x="286" y="132" width="36.25" height="1"/>
<rect x="286.75" y="133" width="36.25" height="1"/>
<rect x="287.5" y="134" width="36.25" height="1"/>
<rect x="288.25" y="135" width="36.25" height="1"/>
<rect x="289" y="136" width="36.25" height="1"/>
<rect x="289.75" y="137" width="36.25" height="1"/>
<rect x="290.25" y="138" width="36.5" height="1"/>
<rect x="291" y="139" width="36.5" height="1"/>
<rect x="291.75" y="140" width="36.5" height="1"/>
<rect x="292.5" y="141" width="36.5" height="1"/>
<rect x="293.25" y="142" width="36.5" height="1"/>
<rect x="294" y="143" width="36.5" height="1"/>
<rect x="294.75" y="144" width="36.5" height="1"/>
<rect x="295.5" y="145" width="36.5" height="1"/>
<rect x="296.25" y="146" width="36.75" height="1"/>
<rect x="297" y="147" width="36.75" height="1"/>
<rect x="297.75" y="148" width="36.75" height="1"/>
<rect x="298.5" y="149" width="36.75" height="1"/>
<rect x="299.25" y="150" width="36.75" height="1"/>
<rect x="300" y="151" width="36.75" height="1"/>
</g>
<g fill="url(#b1)">
<rect x="246.75" y="16" width="36.25" height="1"/>
<rect x="247.25" y="17" width="36.25" height="1"/>
<rect x="248" y="18" width="36" height="1"/>
<rect x="248.5" y="19" width="36.25" height="1"/>
<rect x="249.25" y="20" width="36" height="1"/>
<rect x="249.75" y="21" width="36" height="1"/>
<rect x="250.5" y="22" width="36" height="1"/>
<rect x="251" y="23" width="36" height="1"/>
<rect x="251.75" y="24" width="35.75" height="1"/>
<rect x="252.25" y="25" width="36" height="1"/>
<rect x="253" y="26" width="35.75" height="1"/>
<rect x="253.5" y="27" width="36" height="1"/>
<rect x="254.25" y="28" width="35.75" height="1"/>
<rect x="254.75" y="29" width="35.75" height="1"/>
<rect x="255.5" y="30" width="35.75" height="1"/>
<rect x="256" y="31" width="35.75" height="1"/>
<rect x="256.75" y="32" width="35.5" height="1"/>
<rect x="257.25" y="33" width="35.75" height="1"/>
<rect x="258" y="34" width="35.5" height="1"/>
<rect x="258.5" y="35" width="35.75" height="1"/>
<rect x="259.25" y="36" width="35.5" height="1"/>
<rect x="259.75" y="37" width="35.5" height="1"/>
<rect x="260.5" y="38" width="35.5" height="1"/>
<rect x="261" y="39" width="35.5" height="1"/>
<rect x="261.75" y="40" width="35.25" height="1"/>
<rect x="262.25" y="41" width="35.5" height="1"/>
<rect x="263" y="42" width="35.25" height="1"/>
<rect x="263.5" y="43" width="35.5" height="1"/>
<rect x="264" y="44" width="35.5" height="1"/>
<rect x="264.75" y="45" width="35.25" height="1"/>
<rect x="265.25" y="46" width="35.5" height="1"/>
<rect x="266" y="47" width="35.25" height="1"/>
<rect x="266.5" y="48" width="35.5" height="1"/>
<rect x="267.25" y="49" width="35.25" height="1"/>
<rect x="267.75" y="50" width="35.25" height="1"/>
<rect x="268.5" y="51" width="35.25" height="1"/>
<rect x="269" y="52" width="35.25" height="1"/>
<rect x="269.75" y="53" width="35.25" height="1"/>
<rect x="270.25" y="54" width="35.25" height="1"/>
<rect x="271" y="55" width="35.25" height="1"/>
<rect x="271.5" y="56" width="35.25" height="1"/>
<rect x="272.25" y="57" width="35" height="1"/>
<rect x="272.75" y="58" width="35.25" height="1"/>
<rect x="273.5" y="59" width="35" height="1"/>
<rect x="274" y="60" width="35.25" height="1"/>
<rect x="274.75" y="61" width="35" height="1"/>
<rect x="275.25" y="62" width="35.25" height="1"/>
<rect x="276" y="63" width="35" height="1"/>
<rect x="276.5" y="64" width="35.25" height="1"/>
<rect x="277.25" y="65" width="35" height="1"/>
<rect x="277.75" y="66" width="35.25" height="1"/>
<rect x="278.5" y="67" width="35" height="1"/>
<rect x="279" y="68" width="35.25" height="1"/>
<rect x="279.75" y="69" width="35" height="1"/>
<rect x="280.25" y="70" width="35.25" height="1"/>
<rect x="281" y="71" width="35" height="1"/>
<rect x="281.5" y="72" width="35.25" height="1"/>
<rect x="282.25" y="73" width="35" height="1"/>
<rect x="282.75" y="74" width="35.25" height="1"/>
<rect x="283.5" y="75" width="35" height="1"/>
<rect x="284" y="76" width="35.25" height="1"/>
<rect x="284.75" y="77" width="35" height="1"/>
<rect x="285.25" y="78" width="35.25" height="1"/>
<rect x="286" y="79" width="35" height="1"/>
<rect x="286.5" y="80" width="35.25" height="1"/>
<rect x="287.25" y="81" width="35" height="1"/>
<rect x="288" y="82" width="35" height="1"/>
<rect x="288.5" y="83" width="35.25" height="1"/>
<rect x="289.25" y="84" width="35" height="1"/>
<rect x="289.75" y="85" width="35.25" height="1"/>
<rect x="290.5" y="86" width="35" height="1"/>
<rect x="291" y="87" width="35.25" height="1"/>
<rect x="291.75" y="88" width="35.25" height="1"/>
<rect x="292.5" y="89" width="35" height="1"/>
<rect x="293" y="90" width="35.25" height="1"/>
<rect x="293.75" y="91" width="35.25" height="1"/>
<rect x="294.25" y="92" width="35.25" height="1"/>
<rect x="295" y="93" width="35.25" height="1"/>
<rect x="295.75" y="94" width="35.25" height="1"/>
<rect x="296.25" y="95" width="35.25" height="1"/>
<rect x="297" y="96" width="35.25" height="1"/>
<rect x="297.75" y="97" width="35.25" height="1"/>
<rect x="298.25" y="98" width="35.25" height="1"/>
<rect x="299" y="99" width="35.25" height="1"/>
<rect x="299.75" y="100" width="35.25" height="1"/>
<rect x="300.25" y="101" width="35.5" height="1"/>
<rect x="301" y="102" width="35.25" height="1"/>
<rect x="301.75" y="103" width="35.25" height="1"/>
<rect x="302.25" y="104" width="35.5" height="1"/>
<rect x="303" y="105" width="35.5" height="1"/>
<rect x="303.75" y="106" width="35.25" height="1"/>
<rect x="304.25" y="107" width="35.5" height="1"/>
<rect x="305" y="108" width="35.5" height="1"/>
<rect x="305.75" y="109" width="35.5" height="1"/>
<rect x="306.5" y="110" width="35.5" height="1"/>
<rect x="307" y="111" width="35.5" height="1"/>
<rect x="307.75" y="112" width="35.5" height="1"/>
<rect x="308.5" y="113" width="35.5" height="1"/>
<rect x="309.25" y="114" width="35.5" height="1"/>
<rect x="310" y="115" width="35.5" height="1"/>
<rect x="310.5" y="116" width="35.75" height="1"/>
<rect x="311.25" y="117" width="35.75" height="1"/>
<rect x="312" y="118" width="35.75" height="1"/>
<rect x="312.75" y="119" width="35.75" height="1"/>
<rect x="313.5" y="120" width="35.5" height="1"/>
<rect x="314" y="121" width="35.75" height="1"/>
<rect x="314.75" y="122" width="35.75" height="1"/>
<rect x="315.5" y="123" width="35.75" height="1"/>
<rect x="316.25" y="124" width="35.75" height="1"/>
<rect x="317" y="125" width="35.75" height="1"/>
<rect x="317.75" y="126" width="35.75" height="1"/>
<rect x="318.5" y="127" width="35.75" height="1"/>
<rect x="319.25" y="128" width="36" height="1"/>
<rect x="320" y="129" width="36" height="1"/>
<rect x="320.75" y="130" width="36" height="1"/>
<rect x="321.5" y="131" width="36" height="1"/>
<rect x="322.25" y="132" width="36" height="1"/>
<rect x="323" y="133" width="36" height="1"/>
<rect x="323.75" y="134" width="36" height="1"/>
<rect x="324.5" y="135" width="36" height="1"/>
<rect x="325.25" y="136" width="36.25" height="1"/>
<rect x="326" y="137" width="36.25" height="1"/>
<rect x="326.75" y="138" width="36.25" height="1"/>
<rect x="327.5" y="139" width="36.25" height="1"/>
<rect x="328.25" y="140" width="36.25" height="1"/>
<rect x="329" y="141" width="36.5" height="1"/>
<rect x="329.75" y="142" width="36.5" height="1"/>
<rect x="330.5" y="143" width="36.5" height="1"/>
<rect x="331.25" y="144" width="36.5" height="1"/>
<rect x="332" y="145" width="36.75" height="1"/>
<rect x="333" y="146" width="36.5" height="1"/>
<rect x="333.75" y="147" width="36.75" height="1"/>
<rect x="334.5" y="148" width="36.75" height="1"/>
<rect x="335.25" y="149" width="36.75" height="1"/>
<rect x="336" y="150" width="37" height="1"/>
<rect x="336.75" y="151" width="37" height="1"/>
</g>
<g fill="url(#b2)">
<rect x="283" y="16" width="36.25" height="1"/>
<rect x="283.5" y="17" width="36" height="1"/>
<rect x="284" y="18" width="36.25" height="1"/>
<rect x="284.75" y="19" width="36" height="1"/>
<rect x="285.25" y="20" width="36" height="1"/>
<rect x="285.75" y="21" width="36" height="1"/>
<rect x="286.5" y="22" width="35.75" height="1"/>
<rect x="287" y="23" width="36" height="1"/>
<rect x="287.5" y="24" width="36" height="1"/>
<rect x="288.25" y="25" width="35.75" height="1"/>
<rect x="288.75" y="26" width="35.75" height="1"/>
<rect x="289.5" y="27" width="35.75" height="1"/>
<rect x="290" y="28" width="35.75" height="1"/>
<rect x="290.5" y="29" width="35.75" height="1"/>
<rect x="291.25" y="30" width="35.75" height="1"/>
<rect x="291.75" y="31" width="35.75" height="1"/>
<rect x="292.25" y="32" width="35.75" height="1"/>
<rect x="293" y="33" width="35.5" height="1"/>
<rect x="293.5" y="34" width="35.75" height="1"/>
<rect x="294.25" y="35" width="35.5" height="1"/>
<rect x="294.75" y="36" width="35.5" height="1"/>
<rect x="295.25" y="37" width="35.5" height="1"/>
<rect x="296" y="38" width="35.5" height="1"/>
<rect x="296.5" y="39" width="35.5" height="1"/>
<rect x="297" y="40" width="35.5" height="1"/>
<rect x="297.75" y="41" width="35.5" height="1"/>
<rect x="298.25" y="42" width="35.5" height="1"/>
<rect x="299" y="43" width="35.25" height="1"/>
<rect x="299.5" y="44" width="35.5" height="1"/>
<rect x="300" y="45" width="35.5" height="1"/>
<rect x="300.75" y="46" width="35.25" height="1"/>
<rect x="301.25" y="47" width="35.5" height="1"/>
<rect x="302" y="48" width="35.25" height="1"/>
<rect x="302.5" y="49" width="35.25" height="1"/>
<rect x="303" y="50" width="35.5" height="1"/>
<rect x="303.75" y="51" width="35.25" height="1"/>
<rect x="304.25" y="52" width="35.25" height="1"/>
<rect x="305" y="53" width="35.25" height="1"/>
<rect x="305.5" y="54" width="35.25" height="1"/>
<rect x="306.25" y="55" width="35.25" height="1"/>
<rect x="306.75" y="56" width="35.25" height="1"/>
<rect x="307.25" y="57" width="35.25" height="1"/>
<rect x="308" y="58" width="35.25" height="1"/>
<rect x="308.5" y="59" width="35.25" height="1"/>
<rect x="309.25" y="60" width="35.25" height="1"/>
<rect x="309.75" y="61" width="35.25" height="1"/>
<rect x="310.5" y="62" width="35" height="1"/>
<rect x="311" y="63" width="35.25" height="1"/>
<rect x="311.75" y="64" width="35" height="1"/>
<rect x="312.25" y="65" width="35.25" height="1"/>
<rect x="313" y="66" width="35" height="1"/>
<rect x="313.5" y="67" width="35.25" height="1"/>
<rect x="314.25" y="68" width="35" height="1"/>
<rect x="314.75" y="69" width="35.25" height="1"/>
<rect x="315.5" y="70" width="35" height="1"/>
<rect x="316" y="71" width="35.25" height="1"/>
<rect x="316.75" y="72" width="35" height="1"/>
<rect x="317.25" y="73" width="35.25" height="1"/>
<rect x="318" y="74" width="35" height="1"/>
<rect x="318.5" y="75" width="35.25" height="1"/>
<rect x="319.25" y="76" width="35" height="1"/>
<rect x="319.75" y="77" width="35.25" height="1"/>
<rect x="320.5" y="78" width="35" height="1"/>
<rect x="321" y="79" width="35.25" height="1"/>
<rect x="321.75" y="80" width="35" height="1"/>
<rect x="322.25" y="81" width="35.25" height="1"/>
<rect x="323" y="82" width="35.25" height="1"/>
<rect x="323.75" y="83" width="35" height="1"/>
<rect x="324.25" y="84" width="35.25" height="1"/>
<rect x="325" y="85" width="35" height="1"/>
<rect x="325.5" y="86" width="35.25" height="1"/>
<rect x="326.25" y="87" width="35.25" height="1"/>
<rect x="327" y="88" width="35" height="1"/>
<rect x="327.5" y="89" width="35.25" height="1"/>
<rect x="328.25" y="90" width="35.25" height="1"/>
<rect x="329" y="91" width="35" height="1"/>
<rect x="329.5" y="92" width="35.25" height="1"/>
<rect x="330.25" y="93" width="35.25" height="1"/>
<rect x="331" y="94" width="35" height="1"/>
<rect x="331.5" y="95" width="35.25" height="1"/>
<rect x="332.25" y="96" width="35.25" height="1"/>
<rect x="333" y="97" width="35.25" height="1"/>
<rect x="333.5" y="98" width="35.25" height="1"/>
<rect x="334.25" y="99" width="35.25" height="1"/>
<rect x="335" y="100" width="35.25" height="1"/>
<rect x="335.75" y="101" width="35.25" height="1"/>
<rect x="336.25" y="102" width="35.5" height="1"/>
<rect x="337" y="103" width="35.25" height="1"/>
<rect x="337.75" y="104" width="35.25" height="1"/>
<rect x="338.5" y="105" width="35.25" height="1"/>
<rect x="339" y="106" width="35.5" height="1"/>
<rect x="339.75" y="107" width="35.5" height="1"/>
<rect x="340.5" y="108" width="35.5" height="1"/>
<rect x="341.25" y="109" width="35.5" height="1"/>
<rect x="342" y="110" width="35.5" height="1"/>
<rect x="342.5" y="111" width="35.5" height="1"/>
<rect x="343.25" y="112" width="35.5" height="1"/>
<rect x="344" y="113" width="35.5" height="1"/>
<rect x="344.75" y="114" width="35.5" height="1"/>
<rect x="345.5" y="115" width="35.5" height="1"/>
<rect x="346.25" y="116" width="35.5" height="1"/>
<rect x="347" y="117" width="35.5" height="1"/>
<rect x="347.75" y="118" width="35.5" height="1"/>
<rect x="348.5" y="119" width="35.5" height="1"/>
<rect x="349" y="120" width="35.75" height="1"/>
<rect x="349.75" y="121" width="35.75" height="1"/>
<rect x="350.5" y="122" width="36" height="1"/>
<rect x="351.25" y="123" width="36" height="1"/>
<rect x="352" y="124" width="36" height="1"/>
<rect x="352.75" y="125" width="36" height="1"/>
<rect x="353.5" y="126" width="36" height="1"/>
<rect x="354.25" y="127" width="36" height="1"/>
<rect x="355.25" y="128" width="35.75" height="1"/>
<rect x="356" y="129" width="36" height="1"/>
</g>
<g fill="#073a5e">
<rect x="319.25" y="16" width="37.75" height="1"/>
<rect x="319.5" y="17" width="37.5" height="1"/>
<rect x="320.25" y="18" width="36.75" height="1"/>
<rect x="320.75" y="19" width="36.25" height="1"/>
<rect x="321.25" y="20" width="35.75" height="1"/>
<rect x="321.75" y="21" width="35.25" height="1"/>
<rect x="322.25" y="22" width="34.75" height="1"/>
<rect x="323" y="23" width="34" height="1"/>
<rect x="323.5" y="24" width="33.5" height="1"/>
<rect x="324" y="25" width="33" height="1"/>
<rect x="324.5" y="26" width="32.5" height="1"/>
<rect x="325.25" y="27" width="31.75" height="1"/>
<rect x="325.75" y="28" width="31.25" height="1"/>
<rect x="326.25" y="29" width="30.75" height="1"/>
<rect x="327" y="30" width="30" height="1"/>
<rect x="327.5" y="31" width="29.5" height="1"/>
<rect x="328" y="32" width="29" height="1"/>
<rect x="328.5" y="33" width="28.5" height="1"/>
<rect x="329.25" y="34" width="27.75" height="1"/>
<rect x="329.75" y="35" width="27.25" height="1"/>
<rect x="330.25" y="36" width="26.75" height="1"/>
<rect x="330.75" y="37" width="26.25" height="1"/>
<rect x="331.5" y="38" width="25.5" height="1"/>
<rect x="332" y="39" width="25" height="1"/>
<rect x="332.5" y="40" width="24.5" height="1"/>
<rect x="333.25" y="41" width="23.75" height="1"/>
<rect x="333.75" y="42" width="23.25" height="1"/>
<rect x="334.25" y="43" width="22.75" height="1"/>
<rect x="335" y="44" width="22" height="1"/>
<rect x="335.5" y="45" width="21.5" height="1"/>
<rect x="336" y="46" width="21" height="1"/>
<rect x="336.75" y="47" width="20.25" height="1"/>
<rect x="337.25" y="48" width="19.75" height="1"/>
<rect x="337.75" y="49" width="19.25" height="1"/>
<rect x="338.5" y="50" width="18.5" height="1"/>
<rect x="339" y="51" width="18" height="1"/>
<rect x="339.5" y="52" width="17.5" height="1"/>
<rect x="340.25" y="53" width="16.75" height="1"/>
<rect x="340.75" y="54" width="16.25" height="1"/>
<rect x="341.5" y="55" width="15.5" height="1"/>
<rect x="342" y="56" width="15" height="1"/>
<rect x="342.5" y="57" width="14.5" height="1"/>
<rect x="343.25" y="58" width="13.75" height="1"/>
<rect x="343.75" y="59" width="13.25" height="1"/>
<rect x="344.5" y="60" width="12.5" height="1"/>
<rect x="345" y="61" width="12" height="1"/>
<rect x="345.5" y="62" width="11.5" height="1"/>
<rect x="346.25" y="63" width="10.75" height="1"/>
<rect x="346.75" y="64" width="10.25" height="1"/>
<rect x="347.5" y="65" width="9.5" height="1"/>
<rect x="348" y="66" width="9" height="1"/>
<rect x="348.75" y="67" width="8.25" height="1"/>
<rect x="349.25" y="68" width="7.75" height="1"/>
<rect x="350" y="69" width="7" height="1"/>
<rect x="350.5" y="70" width="6.5" height="1"/>
<rect x="351.25" y="71" width="5.75" height="1"/>
<rect x="351.75" y="72" width="5.25" height="1"/>
<rect x="352.5" y="73" width="4.5" height="1"/>
<rect x="353" y="74" width="4" height="1"/>
<rect x="353.75" y="75" width="3.25" height="1"/>
<rect x="354.25" y="76" width="2.75" height="1"/>
<rect x="355" y="77" width="2" height="1"/>
<rect x="355.5" y="78" width="1.5" height="1"/>
</g>
<g fill="url(#b3)">
<rect x="188.75" y="37" width="35.5" height="1"/>
<rect x="189.25" y="38" width="35.75" height="1"/>
<rect x="190" y="39" width="35.5" height="1"/>
<rect x="190.75" y="40" width="35.5" height="1"/>
<rect x="191.25" y="41" width="35.5" height="1"/>
<rect x="192" y="42" width="35.5" height="1"/>
<rect x="192.75" y="43" width="35.25" height="1"/>
<rect x="193.25" y="44" width="35.5" height="1"/>
<rect x="194" y="45" width="35.25" height="1"/>
<rect x="194.5" y="46" width="35.5" height="1"/>
<rect x="195.25" y="47" width="35.25" height="1"/>
<rect x="196" y="48" width="35.25" height="1"/>
<rect x="196.5" y="49" width="35.5" height="1"/>
<rect x="197.25" y="50" width="35.25" height="1"/>
<rect x="197.75" y="51" width="35.5" height="1"/>
<rect x="198.5" y="52" width="35.25" height="1"/>
<rect x="199.25" y="53" width="35.25" height="1"/>
<rect x="199.75" y="54" width="35.25" height="1"/>
<rect x="200.5" y="55" width="35.25" height="1"/>
<rect x="201" y="56" width="35.25" height="1"/>
<rect x="201.75" y="57" width="35.25" height="1"/>
<rect x="202.25" y="58" width="35.25" height="1"/>
<rect x="203" y="59" width="35.25" height="1"/>
<rect x="203.75" y="60" width="35" height="1"/>
<rect x="204.25" y="61" width="35.25" height="1"/>
<rect x="205" y="62" width="35" height="1"/>
<rect x="205.5" y="63" width="35.25" height="1"/>
<rect x="206.25" y="64" width="35" height="1"/>
<rect x="206.75" y="65" width="35.25" height="1"/>
<rect x="207.5" y="66" width="35" height="1"/>
<rect x="208" y="67" width="35.25" height="1"/>
<rect x="208.75" y="68" width="35.25" height="1"/>
<rect x="209.5" y="69" width="35" height="1"/>
<rect x="210" y="70" width="35.25" height="1"/>
<rect x="210.75" y="71" width="35" height="1"/>
<rect x="211.25" y="72" width="35.25" height="1"/>
<rect x="212" y="73" width="35" height="1"/>
<rect x="212.5" y="74" width="35.25" height="1"/>
<rect x="213.25" y="75" width="35" height="1"/>
<rect x="213.75" y="76" width="35.25" height="1"/>
<rect x="214.5" y="77" width="35" height="1"/>
<rect x="215" y="78" width="35.25" height="1"/>
<rect x="215.75" y="79" width="35" height="1"/>
<rect x="216.25" y="80" width="35.25" height="1"/>
<rect x="217" y="81" width="35" height="1"/>
<rect x="217.5" y="82" width="35.25" height="1"/>
<rect x="218.25" y="83" width="35.25" height="1"/>
<rect x="218.75" y="84" width="35.25" height="1"/>
<rect x="219.5" y="85" width="35.25" height="1"/>
<rect x="220.25" y="86" width="35" height="1"/>
<rect x="220.75" y="87" width="35.25" height="1"/>
<rect x="221.5" y="88" width="35" height="1"/>
<rect x="222" y="89" width="35.25" height="1"/>
<rect x="222.75" y="90" width="35" height="1"/>
<rect x="223.25" y="91" width="35.25" height="1"/>
<rect x="224" y="92" width="35.25" height="1"/>
<rect x="224.5" y="93" width="35.25" height="1"/>
<rect x="225.25" y="94" width="35.25" height="1"/>
<rect x="225.75" y="95" width="35.25" height="1"/>
<rect x="226.5" y="96" width="35.25" height="1"/>
<rect x="227" y="97" width="35.5" height="1"/>
<rect x="227.75" y="98" width="35.25" height="1"/>
<rect x="228.5" y="99" width="35.25" height="1"/>
<rect x="229" y="100" width="35.25" height="1"/>
<rect x="229.75" y="101" width="35.25" height="1"/>
<rect x="230.25" y="102" width="35.5" height="1"/>
<rect x="231" y="103" width="35.25" height="1"/>
<rect x="231.5" y="104" width="35.5" height="1"/>
<rect x="232.25" y="105" width="35.25" height="1"/>
<rect x="232.75" y="106" width="35.5" height="1"/>
<rect x="233.5" y="107" width="35.5" height="1"/>
<rect x="234.25" y="108" width="35.25" height="1"/>
<rect x="234.75" y="109" width="35.5" height="1"/>
<rect x="235.5" y="110" width="35.5" height="1"/>
<rect x="236" y="111" width="35.5" height="1"/>
<rect x="236.75" y="112" width="35.5" height="1"/>
<rect x="237.5" y="113" width="35.5" height="1"/>
<rect x="238" y="114" width="35.5" height="1"/>
<rect x="238.75" y="115" width="35.5" height="1"/>
<rect x="239.25" y="116" width="35.75" height="1"/>
<rect x="240" y="117" width="35.75" height="1"/>
<rect x="240.75" y="118" width="35.5" height="1"/>
<rect x="241.25" y="119" width="35.75" height="1"/>
<rect x="242" y="120" width="35.75" height="1"/>
<rect x="242.75" y="121" width="35.5" height="1"/>
<rect x="243.25" y="122" width="35.75" height="1"/>
<rect x="244" y="123" width="35.75" height="1"/>
<rect x="244.5" y="124" width="36" height="1"/>
<rect x="245.25" y="125" width="36" height="1"/>
<rect x="246" y="126" width="35.75" height="1"/>
<rect x="246.5" y="127" width="36" height="1"/>
<rect x="247.25" y="128" width="36" height="1"/>
<rect x="248" y="129" width="36" height="1"/>
<rect x="248.5" y="130" width="36.25" height="1"/>
<rect x="249.25" y="131" width="36" height="1"/>
<rect x="250" y="132" width="36" height="1"/>
<rect x="250.75" y="133" width="36" height="1"/>
<rect x="251.25" y="134" width="36.25" height="1"/>
<rect x="252" y="135" width="36.25" height="1"/>
<rect x="252.75" y="136" width="36.25" height="1"/>
<rect x="253.25" y="137" width="36.5" height="1"/>
<rect x="254" y="138" width="36.25" height="1"/>
<rect x="254.75" y="139" width="36.25" height="1"/>
<rect x="255.5" y="140" width="36.25" height="1"/>
<rect x="256" y="141" width="36.5" height="1"/>
<rect x="256.75" y="142" width="36.5" height="1"/>
<rect x="257.5" y="143" width="36.5" height="1"/>
<rect x="258.25" y="144" width="36.5" height="1"/>
<rect x="259" y="145" width="36.5" height="1"/>
<rect x="259.5" y="146" width="36.75" height="1"/>
<rect x="260.25" y="147" width="36.75" height="1"/>
<rect x="261" y="148" width="36.75" height="1"/>
<rect x="261.75" y="149" width="36.75" height="1"/>
<rect x="262.5" y="150" width="36.75" height="1"/>
<rect x="263" y="151" width="37" height="1"/>
</g>
<g fill="#45107a">
<rect x="223" y="93" width="1.5" height="1"/>
<rect x="223" y="94" width="2.25" height="1"/>
<rect x="223" y="95" width="2.75" height="1"/>
<rect x="223" y="96" width="3.5" height="1"/>
<rect x="223" y="97" width="4" height="1"/>
<rect x="223" y="98" width="4.75" height="1"/>
<rect x="223" y="99" width="5.5" height="1"/>
<rect x="223" y="100" width="6" height="1"/>
<rect x="223" y="101" width="6.75" height="1"/>
<rect x="223" y="102" width="7.25" height="1"/>
<rect x="223" y="103" width="8" height="1"/>
<rect x="223" y="104" width="8.5" height="1"/>
<rect x="223" y="105" width="9.25" height="1"/>
<rect x="223" y="106" width="9.75" height="1"/>
<rect x="223" y="107" width="10.5" height="1"/>
<rect x="223" y="108" width="11.25" height="1"/>
<rect x="223" y="109" width="11.75" height="1"/>
<rect x="223" y="110" width="12.5" height="1"/>
<rect x="223" y="111" width="13" height="1"/>
<rect x="223" y="112" width="13.75" height="1"/>
<rect x="223" y="113" width="14.5" height="1"/>
<rect x="223" y="114" width="15" height="1"/>
<rect x="223" y="115" width="15.75" height="1"/>
<rect x="223" y="116" width="16.25" height="1"/>
<rect x="223" y="117" width="17" height="1"/>
<rect x="223" y="118" width="17.75" height="1"/>
<rect x="223" y="119" width="18.25" height="1"/>
<rect x="223" y="120" width="19" height="1"/>
<rect x="223" y="121" width="19.75" height="1"/>
<rect x="223" y="122" width="20.25" height="1"/>
<rect x="223" y="123" width="21" height="1"/>
<rect x="223" y="124" width="21.5" height="1"/>
<rect x="223" y="125" width="22.25" height="1"/>
<rect x="223" y="126" width="23" height="1"/>
<rect x="223" y="127" width="23.5" height="1"/>
<rect x="223" y="128" width="24.25" height="1"/>
<rect x="223" y="129" width="25" height="1"/>
<rect x="223" y="130" width="25.5" height="1"/>
<rect x="223" y="131" width="26.25" height="1"/>
<rect x="223" y="132" width="27" height="1"/>
<rect x="223" y="133" width="27.75" height="1"/>
<rect x="223" y="134" width="28.25" height="1"/>
<rect x="223" y="135" width="29" height="1"/>
<rect x="223" y="136" width="29.75" height="1"/>
<rect x="223" y="137" width="30.25" height="1"/>
<rect x="223" y="138" width="31" height="1"/>
<rect x="223" y="139" width="31.75" height="1"/>
<rect x="223" y="140" width="32.5" height="1"/>
<rect x="223" y="141" width="33" height="1"/>
<rect x="223" y="142" width="33.75" height="1"/>
<rect x="223" y="143" width="34.5" height="1"/>
<rect x="223" y="144" width="35.25" height="1"/>
<rect x="223" y="145" width="36" height="1"/>
<rect x="223" y="146" width="36.5" height="1"/>
<rect x="223" y="147" width="37.25" height="1"/>
<rect x="223" y="148" width="38" height="1"/>
<rect x="223" y="149" width="38.75" height="1"/>
<rect x="223" y="150" width="39.5" height="1"/>
<rect x="223" y="151" width="40" height="1"/>
</g>
</g>
<path class="d" d="M224 99.9H356 M224 122.2H356"/>
<text class="w" x="227.2" y="93.4">RFS</text>
<text class="w" x="227.2" y="115.1">MFS</text>
<text class="w" x="228.2" y="136.6">FFS</text>
<text class="t" x="290" y="14.4">Veras shank y</text>
<text class="k" text-anchor="end" x="220.7" y="20.4">0.75</text>
<text class="k" text-anchor="end" x="220.7" y="87.75">0.25</text>
<text class="k" text-anchor="end" x="220.7" y="155.1">-0.25</text>
<text class="k" text-anchor="middle" x="224" y="163.5">2.5</text>
<text class="k" text-anchor="middle" x="290" y="163.5">5</text>
<text class="k" text-anchor="middle" x="356" y="163.5">7.5</text>
<text class="l" x="290" y="175.2">speed (m/s)</text>
<text class="l" transform="translate(195.4 83.45) rotate(-90)">foot strike angle (rad)</text>
<clipPath id="c2"><rect x="401.6" y="16.7" width="132" height="134.7"/></clipPath>
<g class="r" clip-path="url(#c2)" shape-rendering="crispEdges">
<g fill="url(#b4)">
<rect x="169.5" y="16" width="455.25" height="1"/>
<rect x="170.5" y="17" width="454.75" height="1"/>
<rect x="172" y="18" width="454" height="1"/>
<rect x="173.25" y="19" width="453.5" height="1"/>
<rect x="174.75" y="20" width="452.75" height="1"/>
<rect x="176" y="21" width="452.25" height="1"/>
<rect x="177.25" y="22" width="451.75" height="1"/>
<rect x="178.75" y="23" width="451" height="1"/>
<rect x="180" y="24" width="450.5" height="1"/>
<rect x="181.25" y="25" width="450" height="1"/>
<rect x="182.75" y="26" width="449.25" height="1"/>
<rect x="184" y="27" width="448.75" height="1"/>
<rect x="185.25" y="28" width="448.25" height="1"/>
<rect x="186.75" y="29" width="447.5" height="1"/>
<rect x="188" y="30" width="447" height="1"/>
<rect x="189.25" y="31" width="446.5" height="1"/>
<rect x="190.75" y="32" width="445.75" height="1"/>
<rect x="192" y="33" width="445.25" height="1"/>
<rect x="193.25" y="34" width="444.75" height="1"/>
<rect x="194.5" y="35" width="444.25" height="1"/>
<rect x="195.75" y="36" width="443.75" height="1"/>
<rect x="197.25" y="37" width="443" height="1"/>
<rect x="198.5" y="38" width="442.5" height="1"/>
<rect x="199.75" y="39" width="442" height="1"/>
<rect x="201" y="40" width="441.5" height="1"/>
<rect x="202.25" y="41" width="441" height="1"/>
<rect x="203.5" y="42" width="440.5" height="1"/>
<rect x="204.75" y="43" width="440" height="1"/>
<rect x="206.25" y="44" width="439.25" height="1"/>
<rect x="207.5" y="45" width="438.5" height="1"/>
<rect x="208.75" y="46" width="438" height="1"/>
<rect x="210" y="47" width="437.5" height="1"/>
<rect x="211.25" y="48" width="437" height="1"/>
<rect x="212.5" y="49" width="436.5" height="1"/>
<rect x="213.75" y="50" width="436" height="1"/>
<rect x="215" y="51" width="435.25" height="1"/>
<rect x="216.25" y="52" width="434.75" height="1"/>
<rect x="217.5" y="53" width="434.25" height="1"/>
<rect x="218.75" y="54" width="433.75" height="1"/>
<rect x="220" y="55" width="433.25" height="1"/>
<rect x="221.25" y="56" width="432.75" height="1"/>
<rect x="222.5" y="57" width="432" height="1"/>
<rect x="223.75" y="58" width="431.5" height="1"/>
<rect x="225" y="59" width="431" height="1"/>
<rect x="226" y="60" width="430.75" height="1"/>
<rect x="227.25" y="61" width="430" height="1"/>
<rect x="228.5" y="62" width="429.5" height="1"/>
<rect x="229.75" y="63" width="429" height="1"/>
<rect x="231" y="64" width="428.5" height="1"/>
<rect x="232.25" y="65" width="427.75" height="1"/>
<rect x="233.5" y="66" width="427.25" height="1"/>
<rect x="234.5" y="67" width="427" height="1"/>
<rect x="235.75" y="68" width="426.5" height="1"/>
<rect x="237" y="69" width="425.75" height="1"/>
<rect x="238.25" y="70" width="425.25" height="1"/>
<rect x="239.5" y="71" width="424.75" height="1"/>
<rect x="240.5" y="72" width="424.25" height="1"/>
<rect x="241.75" y="73" width="423.75" height="1"/>
<rect x="243" y="74" width="423.25" height="1"/>
<rect x="244.25" y="75" width="422.5" height="1"/>
<rect x="245.25" y="76" width="422.25" height="1"/>
<rect x="246.5" y="77" width="421.75" height="1"/>
<rect x="247.75" y="78" width="421" height="1"/>
<rect x="248.75" y="79" width="420.75" height="1"/>
<rect x="250" y="80" width="420.25" height="1"/>
<rect x="251.25" y="81" width="419.5" height="1"/>
<rect x="252.25" y="82" width="419.25" height="1"/>
<rect x="253.5" y="83" width="418.75" height="1"/>
<rect x="254.75" y="84" width="418" height="1"/>
<rect x="255.75" y="85" width="417.75" height="1"/>
<rect x="257" y="86" width="417" height="1"/>
<rect x="258" y="87" width="416.75" height="1"/>
<rect x="259.25" y="88" width="416.25" height="1"/>
<rect x="260.5" y="89" width="415.5" height="1"/>
<rect x="261.5" y="90" width="415.25" height="1"/>
<rect x="262.75" y="91" width="414.5" height="1"/>
<rect x="263.75" y="92" width="414.25" height="1"/>
<rect x="265" y="93" width="413.5" height="1"/>
<rect x="266" y="94" width="413.25" height="1"/>
<rect x="267.25" y="95" width="412.75" height="1"/>
<rect x="268.25" y="96" width="412.25" height="1"/>
<rect x="269.5" y="97" width="411.75" height="1"/>
<rect x="270.5" y="98" width="411.25" height="1"/>
<rect x="271.75" y="99" width="410.75" height="1"/>
<rect x="272.75" y="100" width="410.25" height="1"/>
<rect x="273.75" y="101" width="410" height="1"/>
<rect x="275" y="102" width="409.25" height="1"/>
<rect x="276" y="103" width="409" height="1"/>
<rect x="277.25" y="104" width="408.25" height="1"/>
<rect x="278.25" y="105" width="408" height="1"/>
<rect x="279.5" y="106" width="407.25" height="1"/>
<rect x="280.5" y="107" width="407" height="1"/>
<rect x="281.5" y="108" width="406.5" height="1"/>
<rect x="282.75" y="109" width="406" height="1"/>
<rect x="283.75" y="110" width="405.5" height="1"/>
<rect x="284.75" y="111" width="405" height="1"/>
<rect x="286" y="112" width="404.5" height="1"/>
<rect x="287" y="113" width="404" height="1"/>
<rect x="288" y="114" width="403.75" height="1"/>
<rect x="289.25" y="115" width="403" height="1"/>
<rect x="290.25" y="116" width="402.75" height="1"/>
<rect x="291.25" y="117" width="402.25" height="1"/>
<rect x="292.25" y="118" width="401.75" height="1"/>
<rect x="293.5" y="119" width="401.25" height="1"/>
<rect x="294.5" y="120" width="400.75" height="1"/>
<rect x="295.5" y="121" width="400.5" height="1"/>
<rect x="296.5" y="122" width="400" height="1"/>
<rect x="297.75" y="123" width="399.25" height="1"/>
<rect x="298.75" y="124" width="399" height="1"/>
<rect x="299.75" y="125" width="398.5" height="1"/>
<rect x="300.75" y="126" width="398.25" height="1"/>
<rect x="301.75" y="127" width="397.75" height="1"/>
<rect x="303" y="128" width="397" height="1"/>
<rect x="304" y="129" width="396.75" height="1"/>
<rect x="305" y="130" width="396.25" height="1"/>
<rect x="306" y="131" width="395.75" height="1"/>
<rect x="307" y="132" width="395.5" height="1"/>
<rect x="308" y="133" width="395" height="1"/>
<rect x="309" y="134" width="394.5" height="1"/>
<rect x="310" y="135" width="394.25" height="1"/>
<rect x="311.25" y="136" width="393.5" height="1"/>
<rect x="312.25" y="137" width="393" height="1"/>
<rect x="313.25" y="138" width="392.75" height="1"/>
<rect x="314.25" y="139" width="392.25" height="1"/>
<rect x="315.25" y="140" width="391.75" height="1"/>
<rect x="316.25" y="141" width="391.25" height="1"/>
<rect x="317.25" y="142" width="391" height="1"/>
<rect x="318.25" y="143" width="390.5" height="1"/>
<rect x="319.25" y="144" width="390" height="1"/>
<rect x="320.25" y="145" width="389.75" height="1"/>
<rect x="321.25" y="146" width="389.25" height="1"/>
<rect x="322.25" y="147" width="388.75" height="1"/>
<rect x="323.25" y="148" width="388.25" height="1"/>
<rect x="324.25" y="149" width="388" height="1"/>
<rect x="325.25" y="150" width="387.5" height="1"/>
<rect x="326" y="151" width="387.25" height="1"/>
</g>
</g>
<path class="d" d="M401.6 99.9H533.6 M401.6 122.2H533.6"/>
<text class="w" x="404.8" y="93.4">RFS</text>
<text class="w" x="404.8" y="115.1">MFS</text>
<text class="w" x="405.8" y="136.6">FFS</text>
<text class="t" x="467.6" y="14.4">Higgins shank</text>
<text class="k" text-anchor="end" x="398.3" y="20.4">0.75</text>
<text class="k" text-anchor="end" x="398.3" y="87.75">0.25</text>
<text class="k" text-anchor="end" x="398.3" y="155.1">-0.25</text>
<text class="k" text-anchor="middle" x="401.6" y="163.5">2.5</text>
<text class="k" text-anchor="middle" x="467.6" y="163.5">5</text>
<text class="k" text-anchor="middle" x="533.6" y="163.5">7.5</text>
<text class="l" x="467.6" y="175.2">speed (m/s)</text>
<text class="l" transform="translate(373 83.45) rotate(-90)">foot strike angle (rad)</text>
<clipPath id="c3"><rect x="46.4" y="204.4" width="132" height="134.7"/></clipPath>
<g class="r" clip-path="url(#c3)" shape-rendering="crispEdges">
<g fill="#45107a">
<rect x="45" y="204" width="10.5" height="1"/>
<rect x="45" y="205" width="10.75" height="1"/>
<rect x="45" y="206" width="11.25" height="1"/>
<rect x="45" y="207" width="11.5" height="1"/>
<rect x="45" y="208" width="11.75" height="1"/>
<rect x="45" y="209" width="12" height="1"/>
<rect x="45" y="210" width="12.5" height="1"/>
<rect x="45" y="211" width="12.75" height="1"/>
<rect x="45" y="212" width="13" height="1"/>
<rect x="45" y="213" width="13.25" height="1"/>
<rect x="45" y="214" width="13.75" height="1"/>
<rect x="45" y="215" width="14" height="1"/>
<rect x="45" y="216" width="14.25" height="1"/>
<rect x="45" y="217" width="14.5" height="1"/>
<rect x="45" y="218" width="15" height="1"/>
<rect x="45" y="219" width="15.25" height="1"/>
<rect x="45" y="220" width="15.5" height="1"/>
<rect x="45" y="221" width="15.75" height="1"/>
<rect x="45" y="222" width="16.25" height="1"/>
<rect x="45" y="223" width="16.5" height="1"/>
<rect x="45" y="224" width="16.75" height="1"/>
<rect x="45" y="225" width="17" height="1"/>
<rect x="45" y="226" width="17.5" height="1"/>
<rect x="45" y="227" width="17.75" height="1"/>
<rect x="45" y="228" width="18" height="1"/>
<rect x="45" y="229" width="18.25" height="1"/>
<rect x="45" y="230" width="18.75" height="1"/>
<rect x="45" y="231" width="19" height="1"/>
<rect x="45" y="232" width="19.25" height="1"/>
<rect x="45" y="233" width="19.5" height="1"/>
<rect x="45" y="234" width="20" height="1"/>
<rect x="45" y="235" width="20.25" height="1"/>
<rect x="45" y="236" width="20.5" height="1"/>
<rect x="45" y="237" width="20.75" height="1"/>
<rect x="45" y="238" width="21.25" height="1"/>
<rect x="45" y="239" width="21.5" height="1"/>
<rect x="45" y="240" width="21.75" height="1"/>
<rect x="45" y="241" width="22" height="1"/>
<rect x="45" y="242" width="22.5" height="1"/>
<rect x="45" y="243" width="22.75" height="1"/>
<rect x="45" y="244" width="23" height="1"/>
<rect x="45" y="245" width="23.25" height="1"/>
<rect x="45" y="246" width="23.75" height="1"/>
<rect x="45" y="247" width="24" height="1"/>
<rect x="45" y="248" width="24.25" height="1"/>
<rect x="45" y="249" width="24.75" height="1"/>
<rect x="45" y="250" width="25" height="1"/>
<rect x="45" y="251" width="25.25" height="1"/>
<rect x="45" y="252" width="25.5" height="1"/>
<rect x="45" y="253" width="26" height="1"/>
<rect x="45" y="254" width="26.25" height="1"/>
<rect x="45" y="255" width="26.5" height="1"/>
<rect x="45" y="256" width="26.75" height="1"/>
<rect x="45" y="257" width="27.25" height="1"/>
<rect x="45" y="258" width="27.5" height="1"/>
<rect x="45" y="259" width="27.75" height="1"/>
<rect x="45" y="260" width="28.25" height="1"/>
<rect x="45" y="261" width="28.5" height="1"/>
<rect x="45" y="262" width="28.75" height="1"/>
<rect x="45" y="263" width="29" height="1"/>
<rect x="45" y="264" width="29.5" height="1"/>
<rect x="45" y="265" width="29.75" height="1"/>
<rect x="45" y="266" width="30" height="1"/>
<rect x="45" y="267" width="30.5" height="1"/>
<rect x="45" y="268" width="30.75" height="1"/>
<rect x="45" y="269" width="31" height="1"/>
<rect x="45" y="270" width="31.5" height="1"/>
<rect x="45" y="271" width="31.75" height="1"/>
<rect x="45" y="272" width="32" height="1"/>
<rect x="45" y="273" width="32.25" height="1"/>
<rect x="45" y="274" width="32.75" height="1"/>
<rect x="45" y="275" width="33" height="1"/>
<rect x="45" y="276" width="33.25" height="1"/>
<rect x="45" y="277" width="33.75" height="1"/>
<rect x="45" y="278" width="34" height="1"/>
<rect x="45" y="279" width="34.25" height="1"/>
<rect x="45" y="280" width="34.75" height="1"/>
<rect x="45" y="281" width="35" height="1"/>
<rect x="45" y="282" width="35.25" height="1"/>
<rect x="45" y="283" width="35.75" height="1"/>
<rect x="45" y="284" width="36" height="1"/>
<rect x="45" y="285" width="36.25" height="1"/>
<rect x="45" y="286" width="36.75" height="1"/>
<rect x="45" y="287" width="37" height="1"/>
<rect x="45" y="288" width="37.25" height="1"/>
<rect x="45" y="289" width="37.75" height="1"/>
<rect x="45" y="290" width="38" height="1"/>
<rect x="45" y="291" width="38.25" height="1"/>
<rect x="45" y="292" width="38.75" height="1"/>
<rect x="45" y="293" width="39" height="1"/>
<rect x="45" y="294" width="39.5" height="1"/>
<rect x="45" y="295" width="39.75" height="1"/>
<rect x="45" y="296" width="40" height="1"/>
<rect x="45" y="297" width="40.5" height="1"/>
<rect x="45" y="298" width="40.75" height="1"/>
<rect x="45" y="299" width="41" height="1"/>
<rect x="45" y="300" width="41.5" height="1"/>
<rect x="45" y="301" width="41.75" height="1"/>
<rect x="45" y="302" width="42.25" height="1"/>
<rect x="45" y="303" width="42.5" height="1"/>
<rect x="45" y="304" width="42.75" height="1"/>
<rect x="45" y="305" width="43.25" height="1"/>
<rect x="45" y="306" width="43.5" height="1"/>
<rect x="45" y="307" width="44" height="1"/>
<rect x="45" y="308" width="44.25" height="1"/>
<rect x="45" y="309" width="44.5" height="1"/>
<rect x="45" y="310" width="45" height="1"/>
<rect x="45" y="311" width="45.25" height="1"/>
<rect x="45" y="312" width="45.75" height="1"/>
<rect x="45" y="313" width="46" height="1"/>
<rect x="45" y="314" width="46.25" height="1"/>
<rect x="45" y="315" width="46.75" height="1"/>
<rect x="45" y="316" width="47" height="1"/>
<rect x="45" y="317" width="47.5" height="1"/>
<rect x="45" y="318" width="47.75" height="1"/>
<rect x="45" y="319" width="48.25" height="1"/>
<rect x="45" y="320" width="48.5" height="1"/>
<rect x="45" y="321" width="49" height="1"/>
<rect x="45" y="322" width="49.25" height="1"/>
<rect x="45" y="323" width="49.75" height="1"/>
<rect x="45" y="324" width="50" height="1"/>
<rect x="45" y="325" width="50.25" height="1"/>
<rect x="45" y="326" width="50.75" height="1"/>
<rect x="45" y="327" width="51" height="1"/>
<rect x="45" y="328" width="51.5" height="1"/>
<rect x="45" y="329" width="51.75" height="1"/>
<rect x="45" y="330" width="52.25" height="1"/>
<rect x="45" y="331" width="52.5" height="1"/>
<rect x="45" y="332" width="53" height="1"/>
<rect x="45" y="333" width="53.25" height="1"/>
<rect x="45" y="334" width="53.75" height="1"/>
<rect x="45" y="335" width="54" height="1"/>
<rect x="45" y="336" width="54.5" height="1"/>
<rect x="45" y="337" width="54.75" height="1"/>
<rect x="45" y="338" width="55.25" height="1"/>
<rect x="45" y="339" width="55.5" height="1"/>
</g>
<g fill="url(#b3)">
<rect x="55.5" y="204" width="30.5" height="1"/>
<rect x="55.75" y="205" width="30.5" height="1"/>
<rect x="56.25" y="206" width="30.25" height="1"/>
<rect x="56.5" y="207" width="30.5" height="1"/>
<rect x="56.75" y="208" width="30.5" height="1"/>
<rect x="57" y="209" width="30.5" height="1"/>
<rect x="57.5" y="210" width="30.25" height="1"/>
<rect x="57.75" y="211" width="30.25" height="1"/>
<rect x="58" y="212" width="30.5" height="1"/>
<rect x="58.25" y="213" width="30.5" height="1"/>
<rect x="58.75" y="214" width="30.25" height="1"/>
<rect x="59" y="215" width="30.25" height="1"/>
<rect x="59.25" y="216" width="30.5" height="1"/>
<rect x="59.5" y="217" width="30.5" height="1"/>
<rect x="60" y="218" width="30.25" height="1"/>
<rect x="60.25" y="219" width="30.25" height="1"/>
<rect x="60.5" y="220" width="30.5" height="1"/>
<rect x="60.75" y="221" width="30.5" height="1"/>
<rect x="61.25" y="222" width="30.25" height="1"/>
<rect x="61.5" y="223" width="30.25" height="1"/>
<rect x="61.75" y="224" width="30.5" height="1"/>
<rect x="62" y="225" width="30.5" height="1"/>
<rect x="62.5" y="226" width="30.25" height="1"/>
<rect x="62.75" y="227" width="30.25" height="1"/>
<rect x="63" y="228" width="30.5" height="1"/>
<rect x="63.25" y="229" width="30.5" height="1"/>
<rect x="63.75" y="230" width="30.25" height="1"/>
<rect x="64" y="231" width="30.25" height="1"/>
<rect x="64.25" y="232" width="30.5" height="1"/>
<rect x="64.5" y="233" width="30.5" height="1"/>
<rect x="65" y="234" width="30.25" height="1"/>
<rect x="65.25" y="235" width="30.25" height="1"/>
<rect x="65.5" y="236" width="30.5" height="1"/>
<rect x="65.75" y="237" width="30.5" height="1"/>
<rect x="66.25" y="238" width="30.25" height="1"/>
<rect x="66.5" y="239" width="30.5" height="1"/>
<rect x="66.75" y="240" width="30.5" height="1"/>
<rect x="67" y="241" width="30.5" height="1"/>
<rect x="67.5" y="242" width="30.25" height="1"/>
<rect x="67.75" y="243" width="30.5" height="1"/>
<rect x="68" y="244" width="30.5" height="1"/>
<rect x="68.25" y="245" width="30.5" height="1"/>
<rect x="68.75" y="246" width="30.5" height="1"/>
<rect x="69" y="247" width="30.5" height="1"/>
<rect x="69.25" y="248" width="30.5" height="1"/>
<rect x="69.75" y="249" width="30.25" height="1"/>
<rect x="70" y="250" width="30.5" height="1"/>
<rect x="70.25" y="251" width="30.5" height="1"/>
<rect x="70.5" y="252" width="30.5" height="1"/>
<rect x="71" y="253" width="30.5" height="1"/>
<rect x="71.25" y="254" width="30.5" height="1"/>
<rect x="71.5" y="255" width="30.5" height="1"/>
<rect x="71.75" y="256" width="30.75" height="1"/>
<rect x="72.25" y="257" width="30.5" height="1"/>
<rect x="72.5" y="258" width="30.5" height="1"/>
<rect x="72.75" y="259" width="30.75" height="1"/>
<rect x="73.25" y="260" width="30.5" height="1"/>
<rect x="73.5" y="261" width="30.5" height="1"/>
<rect x="73.75" y="262" width="30.75" height="1"/>
<rect x="74" y="263" width="30.75" height="1"/>
<rect x="74.5" y="264" width="30.5" height="1"/>
<rect x="74.75" y="265" width="30.75" height="1"/>
<rect x="75" y="266" width="30.75" height="1"/>
<rect x="75.5" y="267" width="30.5" height="1"/>
<rect x="75.75" y="268" width="30.75" height="1"/>
<rect x="76" y="269" width="30.75" height="1"/>
<rect x="76.5" y="270" width="30.5" height="1"/>
<rect x="76.75" y="271" width="30.75" height="1"/>
<rect x="77" y="272" width="30.75" height="1"/>
<rect x="77.25" y="273" width="30.75" height="1"/>
<rect x="77.75" y="274" width="30.75" height="1"/>
<rect x="78" y="275" width="30.75" height="1"/>
<rect x="78.25" y="276" width="30.75" height="1"/>
<rect x="78.75" y="277" width="30.75" height="1"/>
<rect x="79" y="278" width="30.75" height="1"/>
<rect x="79.25" y="279" width="31" height="1"/>
<rect x="79.75" y="280" width="30.75" height="1"/>
<rect x="80" y="281" width="30.75" height="1"/>
<rect x="80.25" y="282" width="31" height="1"/>
<rect x="80.75" y="283" width="30.75" height="1"/>
<rect x="81" y="284" width="31" height="1"/>
<rect x="81.25" y="285" width="31" height="1"/>
<rect x="81.75" y="286" width="30.75" height="1"/>
<rect x="82" y="287" width="31" height="1"/>
<rect x="82.25" y="288" width="31" height="1"/>
<rect x="82.75" y="289" width="31" height="1"/>
<rect x="83" y="290" width="31" height="1"/>
<rect x="83.25" y="291" width="31" height="1"/>
<rect x="83.75" y="292" width="31" height="1"/>
<rect x="84" y="293" width="31" height="1"/>
<rect x="84.5" y="294" width="31" height="1"/>
<rect x="84.75" y="295" width="31" height="1"/>
<rect x="85" y="296" width="31.25" height="1"/>
<rect x="85.5" y="297" width="31" height="1"/>
<rect x="85.75" y="298" width="31.25" height="1"/>
<rect x="86" y="299" width="31.25" height="1"/>
<rect x="86.5" y="300" width="31" height="1"/>
<rect x="86.75" y="301" width="31.25" height="1"/>
<rect x="87.25" y="302" width="31" height="1"/>
<rect x="87.5" y="303" width="31.25" height="1"/>
<rect x="87.75" y="304" width="31.25" height="1"/>
<rect x="88.25" y="305" width="31.25" height="1"/>
<rect x="88.5" y="306" width="31.25" height="1"/>
<rect x="89" y="307" width="31.25" height="1"/>
<rect x="89.25" y="308" width="31.25" height="1"/>
<rect x="89.5" y="309" width="31.5" height="1"/>
<rect x="90" y="310" width="31.25" height="1"/>
<rect x="90.25" y="311" width="31.5" height="1"/>
<rect x="90.75" y="312" width="31.25" height="1"/>
<rect x="91" y="313" width="31.5" height="1"/>
<rect x="91.25" y="314" width="31.5" height="1"/>
<rect x="91.75" y="315" width="31.5" height="1"/>
<rect x="92" y="316" width="31.75" height="1"/>
<rect x="92.5" y="317" width="31.5" height="1"/>
<rect x="92.75" y="318" width="31.75" height="1"/>
<rect x="93.25" y="319" width="31.5" height="1"/>
<rect x="93.5" y="320" width="31.75" height="1"/>
<rect x="94" y="321" width="31.5" height="1"/>
<rect x="94.25" y="322" width="31.75" height="1"/>
<rect x="94.75" y="323" width="31.5" height="1"/>
<rect x="95" y="324" width="31.75" height="1"/>
<rect x="95.25" y="325" width="32" height="1"/>
<rect x="95.75" y="326" width="31.75" height="1"/>
<rect x="96" y="327" width="32" height="1"/>
<rect x="96.5" y="328" width="31.75" height="1"/>
<rect x="96.75" y="329" width="32" height="1"/>
<rect x="97.25" y="330" width="32" height="1"/>
<rect x="97.5" y="331" width="32" height="1"/>
<rect x="98" y="332" width="32" height="1"/>
<rect x="98.25" y="333" width="32" height="1"/>
<rect x="98.75" y="334" width="32" height="1"/>
<rect x="99" y="335" width="32.25" height="1"/>
<rect x="99.5" y="336" width="32" height="1"/>
<rect x="99.75" y="337" width="32.25" height="1"/>
<rect x="100.25" y="338" width="32.25" height="1"/>
<rect x="100.5" y="339" width="32.25" height="1"/>
</g>
<g fill="url(#b0)">
<rect x="86" y="204" width="30.5" height="1"/>
<rect x="86.25" y="205" width="30.5" height="1"/>
<rect x="86.5" y="206" width="30.5" height="1"/>
<rect x="87" y="207" width="30.25" height="1"/>
<rect x="87.25" y="208" width="30.25" height="1"/>
<rect x="87.5" y="209" width="30.5" height="1"/>
<rect x="87.75" y="210" width="30.5" height="1"/>
<rect x="88" y="211" width="30.5" height="1"/>
<rect x="88.5" y="212" width="30.25" height="1"/>
<rect x="88.75" y="213" width="30.25" height="1"/>
<rect x="89" y="214" width="30.5" height="1"/>
<rect x="89.25" y="215" width="30.5" height="1"/>
<rect x="89.75" y="216" width="30.25" height="1"/>
<rect x="90" y="217" width="30.25" height="1"/>
<rect x="90.25" y="218" width="30.5" height="1"/>
<rect x="90.5" y="219" width="30.5" height="1"/>
<rect x="91" y="220" width="30.25" height="1"/>
<rect x="91.25" y="221" width="30.25" height="1"/>
<rect x="91.5" y="222" width="30.5" height="1"/>
<rect x="91.75" y="223" width="30.5" height="1"/>
<rect x="92.25" y="224" width="30.25" height="1"/>
<rect x="92.5" y="225" width="30.25" height="1"/>
<rect x="92.75" y="226" width="30.5" height="1"/>
<rect x="93" y="227" width="30.5" height="1"/>
<rect x="93.5" y="228" width="30.25" height="1"/>
<rect x="93.75" y="229" width="30.25" height="1"/>
<rect x="94" y="230" width="30.5" height="1"/>
<rect x="94.25" y="231" width="30.5" height="1"/>
<rect x="94.75" y="232" width="30.25" height="1"/>
<rect x="95" y="233" width="30.5" height="1"/>
<rect x="95.25" y="234" width="30.5" height="1"/>
<rect x="95.5" y="235" width="30.5" height="1"/>
<rect x="96" y="236" width="30.25" height="1"/>
<rect x="96.25" y="237" width="30.5" height="1"/>
<rect x="96.5" y="238" width="30.5" height="1"/>
<rect x="97" y="239" width="30.25" height="1"/>
<rect x="97.25" y="240" width="30.5" height="1"/>
<rect x="97.5" y="241" width="30.5" height="1"/>
<rect x="97.75" y="242" width="30.5" height="1"/>
<rect x="98.25" y="243" width="30.25" height="1"/>
<rect x="98.5" y="244" width="30.5" height="1"/>
<rect x="98.75" y="245" width="30.5" height="1"/>
<rect x="99.25" y="246" width="30.25" height="1"/>
<rect x="99.5" y="247" width="30.5" height="1"/>
<rect x="99.75" y="248" width="30.5" height="1"/>
<rect x="100" y="249" width="30.5" height="1"/>
<rect x="100.5" y="250" width="30.5" height="1"/>
<rect x="100.75" y="251" width="30.5" height="1"/>
<rect x="101" y="252" width="30.5" height="1"/>
<rect x="101.5" y="253" width="30.5" height="1"/>
<rect x="101.75" y="254" width="30.5" height="1"/>
<rect x="102" y="255" width="30.5" height="1"/>
<rect x="102.5" y="256" width="30.5" height="1"/>
<rect x="102.75" y="257" width="30.5" height="1"/>
<rect x="103" y="258" width="30.5" height="1"/>
<rect x="103.5" y="259" width="30.5" height="1"/>
<rect x="103.75" y="260" width="30.5" height="1"/>
<rect x="104" y="261" width="30.75" height="1"/>
<rect x="104.5" y="262" width="30.5" height="1"/>
<rect x="104.75" y="263" width="30.5" height="1"/>
<rect x="105" y="264" width="30.75" height="1"/>
<rect x="105.5" y="265" width="30.5" height="1"/>
<rect x="105.75" y="266" width="30.5" height="1"/>
<rect x="106" y="267" width="30.75" height="1"/>
<rect x="106.5" y="268" width="30.5" height="1"/>
<rect x="106.75" y="269" width="30.75" height="1"/>
<rect x="107" y="270" width="30.75" height="1"/>
<rect x="107.5" y="271" width="30.5" height="1"/>
<rect x="107.75" y="272" width="30.75" height="1"/>
<rect x="108" y="273" width="30.75" height="1"/>
<rect x="108.5" y="274" width="30.75" height="1"/>
<rect x="108.75" y="275" width="30.75" height="1"/>
<rect x="109" y="276" width="30.75" height="1"/>
<rect x="109.5" y="277" width="30.75" height="1"/>
<rect x="109.75" y="278" width="30.75" height="1"/>
<rect x="110.25" y="279" width="30.75" height="1"/>
<rect x="110.5" y="280" width="30.75" height="1"/>
<rect x="110.75" y="281" width="31" height="1"/>
<rect x="111.25" y="282" width="30.75" height="1"/>
<rect x="111.5" y="283" width="31" height="1"/>
<rect x="112" y="284" width="30.75" height="1"/>
<rect x="112.25" y="285" width="31" height="1"/>
<rect x="112.5" y="286" width="31" height="1"/>
<rect x="113" y="287" width="30.75" height="1"/>
<rect x="113.25" y="288" width="31" height="1"/>
<rect x="113.75" y="289" width="30.75" height="1"/>
<rect x="114" y="290" width="31" height="1"/>
<rect x="114.25" y="291" width="31" height="1"/>
<rect x="114.75" y="292" width="31" height="1"/>
<rect x="115" y="293" width="31" height="1"/>
<rect x="115.5" y="294" width="31" height="1"/>
<rect x="115.75" y="295" width="31.25" height="1"/>
<rect x="116.25" y="296" width="31" height="1"/>
<rect x="116.5" y="297" width="31.25" height="1"/>
<rect x="117" y="298" width="31" height="1"/>
<rect x="117.25" y="299" width="31.25" height="1"/>
<rect x="117.5" y="300" width="31.25" height="1"/>
<rect x="118" y="301" width="31.25" height="1"/>
<rect x="118.25" y="302" width="31.25" height="1"/>
<rect x="118.75" y="303" width="31.25" height="1"/>
<rect x="119" y="304" width="31.25" height="1"/>
<rect x="119.5" y="305" width="31.25" height="1"/>
<rect x="119.75" y="306" width="31.5" height="1"/>
<rect x="120.25" y="307" width="31.25" height="1"/>
<rect x="120.5" y="308" width="31.5" height="1"/>
<rect x="121" y="309" width="31.25" height="1"/>
<rect x="121.25" y="310" width="31.5" height="1"/>
<rect x="121.75" y="311" width="31.5" height="1"/>
<rect x="122" y="312" width="31.5" height="1"/>
<rect x="122.5" y="313" width="31.5" height="1"/>
<rect x="122.75" y="314" width="31.5" height="1"/>
<rect x="123.25" y="315" width="31.5" height="1"/>
<rect x="123.75" y="316" width="31.5" height="1"/>
<rect x="124" y="317" width="31.5" height="1"/>
<rect x="124.5" y="318" width="31.5" height="1"/>
<rect x="124.75" y="319" width="31.75" height="1"/>
<rect x="125.25" y="320" width="31.5" height="1"/>
<rect x="125.5" y="321" width="31.75" height="1"/>
<rect x="126" y="322" width="31.75" height="1"/>
<rect x="126.25" y="323" width="31.75" height="1"/>
<rect x="126.75" y="324" width="31.75" height="1"/>
<rect x="127.25" y="325" width="31.75" height="1"/>
<rect x="127.5" y="326" width="31.75" height="1"/>
<rect x="128" y="327" width="31.75" height="1"/>
<rect x="128.25" y="328" width="32" height="1"/>
<rect x="128.75" y="329" width="32" height="1"/>
<rect x="129.25" y="330" width="31.75" height="1"/>
<rect x="129.5" y="331" width="32" height="1"/>
<rect x="130" y="332" width="32" height="1"/>
<rect x="130.25" y="333" width="32.25" height="1"/>
<rect x="130.75" y="334" width="32" height="1"/>
<rect x="131.25" y="335" width="32" height="1"/>
<rect x="131.5" y="336" width="32.25" height="1"/>
<rect x="132" y="337" width="32.25" height="1"/>
<rect x="132.5" y="338" width="32" height="1"/>
<rect x="132.75" y="339" width="32.25" height="1"/>
</g>
<g fill="url(#b1)">
<rect x="116.5" y="204" width="30.25" height="1"/>
<rect x="116.75" y="205" width="30.25" height="1"/>
<rect x="117" y="206" width="30.5" height="1"/>
<rect x="117.25" y="207" width="30.5" height="1"/>
<rect x="117.5" y="208" width="30.5" height="1"/>
<rect x="118" y="209" width="30.25" height="1"/>
<rect x="118.25" y="210" width="30.25" height="1"/>
<rect x="118.5" y="211" width="30.5" height="1"/>
<rect x="118.75" y="212" width="30.5" height="1"/>
<rect x="119" y="213" width="30.5" height="1"/>
<rect x="119.5" y="214" width="30.25" height="1"/>
<rect x="119.75" y="215" width="30.25" height="1"/>
<rect x="120" y="216" width="30.5" height="1"/>
<rect x="120.25" y="217" width="30.5" height="1"/>
<rect x="120.75" y="218" width="30.25" height="1"/>
<rect x="121" y="219" width="30.25" height="1"/>
<rect x="121.25" y="220" width="30.5" height="1"/>
<rect x="121.5" y="221" width="30.5" height="1"/>
<rect x="122" y="222" width="30.25" height="1"/>
<rect x="122.25" y="223" width="30.25" height="1"/>
<rect x="122.5" y="224" width="30.5" height="1"/>
<rect x="122.75" y="225" width="30.5" height="1"/>
<rect x="123.25" y="226" width="30.25" height="1"/>
<rect x="123.5" y="227" width="30.25" height="1"/>
<rect x="123.75" y="228" width="30.5" height="1"/>
<rect x="124" y="229" width="30.5" height="1"/>
<rect x="124.5" y="230" width="30.25" height="1"/>
<rect x="124.75" y="231" width="30.5" height="1"/>
<rect x="125" y="232" width="30.5" height="1"/>
<rect x="125.5" y="233" width="30.25" height="1"/>
<rect x="125.75" y="234" width="30.25" height="1"/>
<rect x="126" y="235" width="30.5" height="1"/>
<rect x="126.25" y="236" width="30.5" height="1"/>
<rect x="126.75" y="237" width="30.25" height="1"/>
<rect x="127" y="238" width="30.5" height="1"/>
<rect x="127.25" y="239" width="30.5" height="1"/>
<rect x="127.75" y="240" width="30.25" height="1"/>
<rect x="128" y="241" width="30.5" height="1"/>
<rect x="128.25" y="242" width="30.5" height="1"/>
<rect x="128.5" y="243" width="30.5" height="1"/>
<rect x="129" y="244" width="30.5" height="1"/>
<rect x="129.25" y="245" width="30.5" height="1"/>
<rect x="129.5" y="246" width="30.5" height="1"/>
<rect x="130" y="247" width="30.5" height="1"/>
<rect x="130.25" y="248" width="30.5" height="1"/>
<rect x="130.5" y="249" width="30.5" height="1"/>
<rect x="131" y="250" width="30.5" height="1"/>
<rect x="131.25" y="251" width="30.5" height="1"/>
<rect x="131.5" y="252" width="30.5" height="1"/>
<rect x="132" y="253" width="30.5" height="1"/>
<rect x="132.25" y="254" width="30.5" height="1"/>
<rect x="132.5" y="255" width="30.5" height="1"/>
<rect x="133" y="256" width="30.5" height="1"/>
<rect x="133.25" y="257" width="30.5" height="1"/>
<rect x="133.5" y="258" width="30.75" height="1"/>
<rect x="134" y="259" width="30.5" height="1"/>
<rect x="134.25" y="260" width="30.5" height="1"/>
<rect x="134.75" y="261" width="30.5" height="1"/>
<rect x="135" y="262" width="30.5" height="1"/>
<rect x="135.25" y="263" width="30.75" height="1"/>
<rect x="135.75" y="264" width="30.5" height="1"/>
<rect x="136" y="265" width="30.75" height="1"/>
<rect x="136.25" y="266" width="30.75" height="1"/>
<rect x="136.75" y="267" width="30.5" height="1"/>
<rect x="137" y="268" width="30.75" height="1"/>
<rect x="137.5" y="269" width="30.5" height="1"/>
<rect x="137.75" y="270" width="30.75" height="1"/>
<rect x="138" y="271" width="30.75" height="1"/>
<rect x="138.5" y="272" width="30.75" height="1"/>
<rect x="138.75" y="273" width="30.75" height="1"/>
<rect x="139.25" y="274" width="30.75" height="1"/>
<rect x="139.5" y="275" width="30.75" height="1"/>
<rect x="139.75" y="276" width="31" height="1"/>
<rect x="140.25" y="277" width="30.75" height="1"/>
<rect x="140.5" y="278" width="31" height="1"/>
<rect x="141" y="279" width="30.75" height="1"/>
<rect x="141.25" y="280" width="31" height="1"/>
<rect x="141.75" y="281" width="30.75" height="1"/>
<rect x="142" y="282" width="31" height="1"/>
<rect x="142.5" y="283" width="30.75" height="1"/>
<rect x="142.75" y="284" width="31" height="1"/>
<rect x="143.25" y="285" width="30.75" height="1"/>
<rect x="143.5" y="286" width="31" height="1"/>
<rect x="143.75" y="287" width="31" height="1"/>
<rect x="144.25" y="288" width="31" height="1"/>
<rect x="144.5" y="289" width="31" height="1"/>
<rect x="145" y="290" width="31" height="1"/>
<rect x="145.25" y="291" width="31" height="1"/>
<rect x="145.75" y="292" width="31" height="1"/>
<rect x="146" y="293" width="31.25" height="1"/>
<rect x="146.5" y="294" width="31" height="1"/>
<rect x="147" y="295" width="31" height="1"/>
<rect x="147.25" y="296" width="31" height="1"/>
<rect x="147.75" y="297" width="31" height="1"/>
<rect x="148" y="298" width="31.25" height="1"/>
<rect x="148.5" y="299" width="31" height="1"/>
<rect x="148.75" y="300" width="31.25" height="1"/>
<rect x="149.25" y="301" width="31.25" height="1"/>
<rect x="149.5" y="302" width="31.25" height="1"/>
<rect x="150" y="303" width="31.25" height="1"/>
<rect x="150.25" y="304" width="31.25" height="1"/>
<rect x="150.75" y="305" width="31.25" height="1"/>
<rect x="151.25" y="306" width="31.25" height="1"/>
<rect x="151.5" y="307" width="31.25" height="1"/>
<rect x="152" y="308" width="31.25" height="1"/>
<rect x="152.25" y="309" width="31.5" height="1"/>
<rect x="152.75" y="310" width="31.5" height="1"/>
<rect x="153.25" y="311" width="31.25" height="1"/>
<rect x="153.5" y="312" width="31.5" height="1"/>
<rect x="154" y="313" width="31.5" height="1"/>
<rect x="154.25" y="314" width="31.5" height="1"/>
<rect x="154.75" y="315" width="31.5" height="1"/>
<rect x="155.25" y="316" width="31.5" height="1"/>
<rect x="155.5" y="317" width="31.75" height="1"/>
<rect x="156" y="318" width="31.5" height="1"/>
<rect x="156.5" y="319" width="31.5" height="1"/>
<rect x="156.75" y="320" width="31.75" height="1"/>
<rect x="157.25" y="321" width="31.75" height="1"/>
<rect x="157.75" y="322" width="31.5" height="1"/>
<rect x="158" y="323" width="31.75" height="1"/>
<rect x="158.5" y="324" width="31.75" height="1"/>
<rect x="159" y="325" width="31.75" height="1"/>
<rect x="159.25" y="326" width="32" height="1"/>
<rect x="159.75" y="327" width="31.75" height="1"/>
<rect x="160.25" y="328" width="31.75" height="1"/>
<rect x="160.75" y="329" width="31.75" height="1"/>
<rect x="161" y="330" width="32" height="1"/>
<rect x="161.5" y="331" width="32" height="1"/>
<rect x="162" y="332" width="32" height="1"/>
<rect x="162.5" y="333" width="32" height="1"/>
<rect x="162.75" y="334" width="32.25" height="1"/>
<rect x="163.25" y="335" width="32" height="1"/>
<rect x="163.75" y="336" width="32" height="1"/>
<rect x="164.25" y="337" width="32" height="1"/>
<rect x="164.5" y="338" width="32.25" height="1"/>
<rect x="165" y="339" width="32" height="1"/>
</g>
<g fill="url(#b2)">
<rect x="146.75" y="204" width="30.5" height="1"/>
<rect x="147" y="205" width="30.5" height="1"/>
<rect x="147.5" y="206" width="30.25" height="1"/>
<rect x="147.75" y="207" width="30.25" height="1"/>
<rect x="148" y="208" width="30.5" height="1"/>
<rect x="148.25" y="209" width="30.5" height="1"/>
<rect x="148.5" y="210" width="30.5" height="1"/>
<rect x="149" y="211" width="30.25" height="1"/>
<rect x="149.25" y="212" width="30.25" height="1"/>
<rect x="149.5" y="213" width="30.5" height="1"/>
<rect x="149.75" y="214" width="30.5" height="1"/>
<rect x="150" y="215" width="30.5" height="1"/>
<rect x="150.5" y="216" width="30.25" height="1"/>
<rect x="150.75" y="217" width="30.25" height="1"/>
<rect x="151" y="218" width="30.5" height="1"/>
<rect x="151.25" y="219" width="30.5" height="1"/>
<rect x="151.75" y="220" width="30.25" height="1"/>
<rect x="152" y="221" width="30.25" height="1"/>
<rect x="152.25" y="222" width="30.5" height="1"/>
<rect x="152.5" y="223" width="30.5" height="1"/>
<rect x="153" y="224" width="30.25" height="1"/>
<rect x="153.25" y="225" width="30.25" height="1"/>
<rect x="153.5" y="226" width="30.5" height="1"/>
<rect x="153.75" y="227" width="30.5" height="1"/>
<rect x="154.25" y="228" width="30.25" height="1"/>
<rect x="154.5" y="229" width="30.5" height="1"/>
<rect x="154.75" y="230" width="30.5" height="1"/>
<rect x="155.25" y="231" width="30.25" height="1"/>
<rect x="155.5" y="232" width="30.25" height="1"/>
<rect x="155.75" y="233" width="30.5" height="1"/>
<rect x="156" y="234" width="30.5" height="1"/>
<rect x="156.5" y="235" width="30.25" height="1"/>
<rect x="156.75" y="236" width="30.5" height="1"/>
<rect x="157" y="237" width="30.5" height="1"/>
<rect x="157.5" y="238" width="30.25" height="1"/>
<rect x="157.75" y="239" width="30.5" height="1"/>
<rect x="158" y="240" width="30.5" height="1"/>
<rect x="158.5" y="241" width="30.25" height="1"/>
<rect x="158.75" y="242" width="30.5" height="1"/>
<rect x="159" y="243" width="30.5" height="1"/>
<rect x="159.5" y="244" width="30.25" height="1"/>
<rect x="159.75" y="245" width="30.5" height="1"/>
<rect x="160" y="246" width="30.5" height="1"/>
<rect x="160.5" y="247" width="30.25" height="1"/>
<rect x="160.75" y="248" width="30.5" height="1"/>
<rect x="161" y="249" width="30.5" height="1"/>
<rect x="161.5" y="250" width="30.5" height="1"/>
<rect x="161.75" y="251" width="30.5" height="1"/>
<rect x="162" y="252" width="30.5" height="1"/>
<rect x="162.5" y="253" width="30.5" height="1"/>
<rect x="162.75" y="254" width="30.5" height="1"/>
<rect x="163" y="255" width="30.75" height="1"/>
<rect x="163.5" y="256" width="30.5" height="1"/>
<rect x="163.75" y="257" width="30.5" height="1"/>
<rect x="164.25" y="258" width="30.5" height="1"/>
<rect x="164.5" y="259" width="30.5" height="1"/>
<rect x="164.75" y="260" width="30.75" height="1"/>
<rect x="165.25" y="261" width="30.5" height="1"/>
<rect x="165.5" y="262" width="30.75" height="1"/>
<rect x="166" y="263" width="30.5" height="1"/>
<rect x="166.25" y="264" width="30.75" height="1"/>
<rect x="166.75" y="265" width="30.5" height="1"/>
<rect x="167" y="266" width="30.5" height="1"/>
<rect x="167.25" y="267" width="30.75" height="1"/>
<rect x="167.75" y="268" width="30.5" height="1"/>
<rect x="168" y="269" width="30.75" height="1"/>
<rect x="168.5" y="270" width="30.5" height="1"/>
<rect x="168.75" y="271" width="30.75" height="1"/>
<rect x="169.25" y="272" width="30.5" height="1"/>
<rect x="169.5" y="273" width="30.75" height="1"/>
<rect x="170" y="274" width="30.75" height="1"/>
<rect x="170.25" y="275" width="30.75" height="1"/>
<rect x="170.75" y="276" width="30.75" height="1"/>
<rect x="171" y="277" width="30.75" height="1"/>
<rect x="171.5" y="278" width="30.75" height="1"/>
<rect x="171.75" y="279" width="30.75" height="1"/>
<rect x="172.25" y="280" width="30.75" height="1"/>
<rect x="172.5" y="281" width="30.75" height="1"/>
<rect x="173" y="282" width="30.75" height="1"/>
<rect x="173.25" y="283" width="31" height="1"/>
<rect x="173.75" y="284" width="30.75" height="1"/>
<rect x="174" y="285" width="31" height="1"/>
<rect x="174.5" y="286" width="30.75" height="1"/>
<rect x="174.75" y="287" width="31" height="1"/>
<rect x="175.25" y="288" width="31" height="1"/>
<rect x="175.5" y="289" width="31" height="1"/>
<rect x="176" y="290" width="31" height="1"/>
<rect x="176.25" y="291" width="31" height="1"/>
<rect x="176.75" y="292" width="31" height="1"/>
<rect x="177.25" y="293" width="31" height="1"/>
<rect x="177.5" y="294" width="31" height="1"/>
<rect x="178" y="295" width="31" height="1"/>
<rect x="178.25" y="296" width="31.25" height="1"/>
</g>
<g fill="#073a5e">
<rect x="177.25" y="204" width="2.75" height="1"/>
<rect x="177.5" y="205" width="2.5" height="1"/>
<rect x="177.75" y="206" width="2.25" height="1"/>
<rect x="178" y="207" width="2" height="1"/>
</g>
</g>
<path class="d" d="M46.4 287.6H178.4 M46.4 309.9H178.4"/>
<text class="w" x="49.6" y="281.1">RFS</text>
<text class="w" x="49.6" y="302.8">MFS</text>
<text class="w" x="50.6" y="324.3">FFS</text>
<text class="t" x="112.4" y="202.1">Higgins hip</text>
<text class="k" text-anchor="end" x="43.1" y="208.1">0.75</text>
<text class="k" text-anchor="end" x="43.1" y="275.45">0.25</text>
<text class="k" text-anchor="end" x="43.1" y="342.8">-0.25</text>
<text class="k" text-anchor="middle" x="46.4" y="351.2">2.5</text>
<text class="k" text-anchor="middle" x="112.4" y="351.2">5</text>
<text class="k" text-anchor="middle" x="178.4" y="351.2">7.5</text>
<text class="l" x="112.4" y="362.9">speed (m/s)</text>
<text class="l" transform="translate(17.8 271.15) rotate(-90)">foot strike angle (rad)</text>
<clipPath id="c4"><rect x="224" y="204.4" width="132" height="134.7"/></clipPath>
<g class="r" clip-path="url(#c4)" shape-rendering="crispEdges">
<g fill="url(#b5)">
<rect x="197.75" y="204" width="34.25" height="1"/>
<rect x="198.75" y="205" width="34.5" height="1"/>
<rect x="199.75" y="206" width="34.75" height="1"/>
<rect x="200.75" y="207" width="35" height="1"/>
<rect x="201.5" y="208" width="35.5" height="1"/>
<rect x="202.5" y="209" width="35.5" height="1"/>
<rect x="203.5" y="210" width="35.75" height="1"/>
<rect x="204.5" y="211" width="36" height="1"/>
<rect x="205.5" y="212" width="36.25" height="1"/>
<rect x="206.5" y="213" width="36.5" height="1"/>
<rect x="207.5" y="214" width="36.75" height="1"/>
<rect x="208.5" y="215" width="37" height="1"/>
<rect x="209.5" y="216" width="37" height="1"/>
<rect x="210.5" y="217" width="37.25" height="1"/>
<rect x="211.5" y="218" width="37.5" height="1"/>
<rect x="212.5" y="219" width="37.75" height="1"/>
<rect x="213.5" y="220" width="38" height="1"/>
<rect x="214.25" y="221" width="38.5" height="1"/>
<rect x="215.25" y="222" width="38.75" height="1"/>
<rect x="216.25" y="223" width="39" height="1"/>
<rect x="217.25" y="224" width="39" height="1"/>
<rect x="218.25" y="225" width="39.25" height="1"/>
<rect x="219.25" y="226" width="39.5" height="1"/>
<rect x="220.25" y="227" width="39.75" height="1"/>
<rect x="221.25" y="228" width="40" height="1"/>
<rect x="222.25" y="229" width="40.25" height="1"/>
<rect x="223.25" y="230" width="40.5" height="1"/>
<rect x="224.25" y="231" width="40.5" height="1"/>
<rect x="225.25" y="232" width="40.75" height="1"/>
<rect x="226" y="233" width="41.25" height="1"/>
<rect x="227" y="234" width="41.5" height="1"/>
<rect x="228" y="235" width="41.75" height="1"/>
<rect x="229" y="236" width="42" height="1"/>
<rect x="230" y="237" width="42.25" height="1"/>
<rect x="231" y="238" width="42.25" height="1"/>
<rect x="232" y="239" width="42.5" height="1"/>
<rect x="233" y="240" width="42.75" height="1"/>
<rect x="234" y="241" width="43" height="1"/>
<rect x="235" y="242" width="43.25" height="1"/>
<rect x="236" y="243" width="43.5" height="1"/>
<rect x="237" y="244" width="43.75" height="1"/>
<rect x="238" y="245" width="43.75" height="1"/>
<rect x="238.75" y="246" width="44.25" height="1"/>
<rect x="239.75" y="247" width="44.5" height="1"/>
<rect x="240.75" y="248" width="44.75" height="1"/>
<rect x="241.75" y="249" width="45" height="1"/>
<rect x="242.75" y="250" width="45.25" height="1"/>
<rect x="243.75" y="251" width="45.5" height="1"/>
<rect x="244.75" y="252" width="45.5" height="1"/>
<rect x="245.75" y="253" width="45.75" height="1"/>
<rect x="246.75" y="254" width="46" height="1"/>
<rect x="247.75" y="255" width="46.25" height="1"/>
<rect x="248.75" y="256" width="46.5" height="1"/>
<rect x="249.75" y="257" width="46.75" height="1"/>
<rect x="250.5" y="258" width="47.25" height="1"/>
<rect x="251.5" y="259" width="47.25" height="1"/>
<rect x="252.5" y="260" width="47.5" height="1"/>
<rect x="253.5" y="261" width="47.75" height="1"/>
<rect x="254.5" y="262" width="48" height="1"/>
<rect x="255.5" y="263" width="48.25" height="1"/>
<rect x="256.5" y="264" width="48.5" height="1"/>
<rect x="257.5" y="265" width="48.75" height="1"/>
<rect x="258.5" y="266" width="49" height="1"/>
<rect x="259.5" y="267" width="49" height="1"/>
<rect x="260.5" y="268" width="49.25" height="1"/>
<rect x="261.5" y="269" width="49.5" height="1"/>
<rect x="262.5" y="270" width="49.75" height="1"/>
<rect x="263.25" y="271" width="50.25" height="1"/>
<rect x="264.25" y="272" width="50.5" height="1"/>
<rect x="265.25" y="273" width="50.75" height="1"/>
<rect x="266.25" y="274" width="50.75" height="1"/>
<rect x="267.25" y="275" width="51" height="1"/>
<rect x="268.25" y="276" width="51.25" height="1"/>
<rect x="269.25" y="277" width="51.5" height="1"/>
<rect x="270.25" y="278" width="51.75" height="1"/>
<rect x="271.25" y="279" width="52" height="1"/>
<rect x="272.25" y="280" width="52.25" height="1"/>
<rect x="273.25" y="281" width="52.25" height="1"/>
<rect x="274.25" y="282" width="52.5" height="1"/>
<rect x="275" y="283" width="53" height="1"/>
<rect x="276" y="284" width="53.25" height="1"/>
<rect x="277" y="285" width="53.5" height="1"/>
<rect x="278" y="286" width="53.75" height="1"/>
<rect x="279" y="287" width="54" height="1"/>
<rect x="280" y="288" width="54" height="1"/>
<rect x="281" y="289" width="54.25" height="1"/>
<rect x="282" y="290" width="54.5" height="1"/>
<rect x="283" y="291" width="54.75" height="1"/>
<rect x="284" y="292" width="55" height="1"/>
<rect x="285" y="293" width="55.25" height="1"/>
<rect x="286" y="294" width="55.5" height="1"/>
<rect x="286.75" y="295" width="55.75" height="1"/>
<rect x="287.75" y="296" width="56" height="1"/>
<rect x="288.75" y="297" width="56.25" height="1"/>
<rect x="289.75" y="298" width="56.5" height="1"/>
<rect x="290.75" y="299" width="56.75" height="1"/>
<rect x="291.75" y="300" width="57" height="1"/>
<rect x="292.75" y="301" width="57.25" height="1"/>
<rect x="293.75" y="302" width="57.5" height="1"/>
<rect x="294.75" y="303" width="57.5" height="1"/>
<rect x="295.75" y="304" width="57.75" height="1"/>
<rect x="296.75" y="305" width="58" height="1"/>
<rect x="297.75" y="306" width="58.25" height="1"/>
<rect x="298.75" y="307" width="58.5" height="1"/>
<rect x="299.5" y="308" width="59" height="1"/>
<rect x="300.5" y="309" width="59.25" height="1"/>
<rect x="301.5" y="310" width="59.25" height="1"/>
<rect x="302.5" y="311" width="59.5" height="1"/>
<rect x="303.5" y="312" width="59.75" height="1"/>
<rect x="304.5" y="313" width="60" height="1"/>
<rect x="305.5" y="314" width="60.25" height="1"/>
<rect x="306.5" y="315" width="60.5" height="1"/>
<rect x="307.5" y="316" width="60.75" height="1"/>
<rect x="308.5" y="317" width="60.75" height="1"/>
<rect x="309.5" y="318" width="61" height="1"/>
<rect x="310.5" y="319" width="61.25" height="1"/>
<rect x="311.25" y="320" width="61.75" height="1"/>
<rect x="312.25" y="321" width="62" height="1"/>
<rect x="313.25" y="322" width="62.25" height="1"/>
<rect x="314.25" y="323" width="62.5" height="1"/>
<rect x="315.25" y="324" width="62.5" height="1"/>
<rect x="316.25" y="325" width="62.75" height="1"/>
<rect x="317.25" y="326" width="63" height="1"/>
<rect x="318.25" y="327" width="63.25" height="1"/>
<rect x="319.25" y="328" width="63.5" height="1"/>
<rect x="320.25" y="329" width="63.75" height="1"/>
<rect x="321.25" y="330" width="64" height="1"/>
<rect x="322.25" y="331" width="64" height="1"/>
<rect x="323.25" y="332" width="64.25" height="1"/>
<rect x="324" y="333" width="64.75" height="1"/>
<rect x="325" y="334" width="65" height="1"/>
<rect x="326" y="335" width="65.25" height="1"/>
<rect x="327" y="336" width="65.5" height="1"/>
<rect x="328" y="337" width="65.75" height="1"/>
<rect x="329" y="338" width="65.75" height="1"/>
<rect x="329.5" y="339" width="66" height="1"/>
</g>
<g fill="url(#b6)">
<rect x="232" y="204" width="21.25" height="1"/>
<rect x="233.25" y="205" width="21" height="1"/>
<rect x="234.5" y="206" width="21" height="1"/>
<rect x="235.75" y="207" width="20.75" height="1"/>
<rect x="237" y="208" width="20.75" height="1"/>
<rect x="238" y="209" width="20.75" height="1"/>
<rect x="239.25" y="210" width="20.75" height="1"/>
<rect x="240.5" y="211" width="20.5" height="1"/>
<rect x="241.75" y="212" width="20.5" height="1"/>
<rect x="243" y="213" width="20.5" height="1"/>
<rect x="244.25" y="214" width="20.25" height="1"/>
<rect x="245.5" y="215" width="20.25" height="1"/>
<rect x="246.5" y="216" width="20.25" height="1"/>
<rect x="247.75" y="217" width="20.25" height="1"/>
<rect x="249" y="218" width="20" height="1"/>
<rect x="250.25" y="219" width="20" height="1"/>
<rect x="251.5" y="220" width="19.75" height="1"/>
<rect x="252.75" y="221" width="19.75" height="1"/>
<rect x="254" y="222" width="19.5" height="1"/>
<rect x="255.25" y="223" width="19.5" height="1"/>
<rect x="256.25" y="224" width="19.75" height="1"/>
<rect x="257.5" y="225" width="19.5" height="1"/>
<rect x="258.75" y="226" width="19.5" height="1"/>
<rect x="260" y="227" width="19.25" height="1"/>
<rect x="261.25" y="228" width="19.25" height="1"/>
<rect x="262.5" y="229" width="19" height="1"/>
<rect x="263.75" y="230" width="19" height="1"/>
<rect x="264.75" y="231" width="19" height="1"/>
<rect x="266" y="232" width="19" height="1"/>
<rect x="267.25" y="233" width="18.75" height="1"/>
<rect x="268.5" y="234" width="18.75" height="1"/>
<rect x="269.75" y="235" width="18.75" height="1"/>
<rect x="271" y="236" width="18.5" height="1"/>
<rect x="272.25" y="237" width="18.5" height="1"/>
<rect x="273.25" y="238" width="18.5" height="1"/>
<rect x="274.5" y="239" width="18.5" height="1"/>
<rect x="275.75" y="240" width="18.25" height="1"/>
<rect x="277" y="241" width="18.25" height="1"/>
<rect x="278.25" y="242" width="18" height="1"/>
<rect x="279.5" y="243" width="18" height="1"/>
<rect x="280.75" y="244" width="17.75" height="1"/>
<rect x="281.75" y="245" width="18" height="1"/>
<rect x="283" y="246" width="18" height="1"/>
<rect x="284.25" y="247" width="17.75" height="1"/>
<rect x="285.5" y="248" width="17.75" height="1"/>
<rect x="286.75" y="249" width="17.5" height="1"/>
<rect x="288" y="250" width="17.5" height="1"/>
<rect x="289.25" y="251" width="17.25" height="1"/>
<rect x="290.25" y="252" width="17.5" height="1"/>
<rect x="291.5" y="253" width="17.25" height="1"/>
<rect x="292.75" y="254" width="17.25" height="1"/>
<rect x="294" y="255" width="17.25" height="1"/>
<rect x="295.25" y="256" width="17" height="1"/>
<rect x="296.5" y="257" width="17" height="1"/>
<rect x="297.75" y="258" width="16.75" height="1"/>
<rect x="298.75" y="259" width="17" height="1"/>
<rect x="300" y="260" width="16.75" height="1"/>
<rect x="301.25" y="261" width="16.75" height="1"/>
<rect x="302.5" y="262" width="16.5" height="1"/>
<rect x="303.75" y="263" width="16.5" height="1"/>
<rect x="305" y="264" width="16.25" height="1"/>
<rect x="306.25" y="265" width="16.25" height="1"/>
<rect x="307.5" y="266" width="16.25" height="1"/>
<rect x="308.5" y="267" width="16.25" height="1"/>
<rect x="309.75" y="268" width="16.25" height="1"/>
<rect x="311" y="269" width="16" height="1"/>
<rect x="312.25" y="270" width="16" height="1"/>
<rect x="313.5" y="271" width="15.75" height="1"/>
<rect x="314.75" y="272" width="15.75" height="1"/>
<rect x="316" y="273" width="15.5" height="1"/>
<rect x="317" y="274" width="15.75" height="1"/>
<rect x="318.25" y="275" width="15.5" height="1"/>
<rect x="319.5" y="276" width="15.5" height="1"/>
<rect x="320.75" y="277" width="15.5" height="1"/>
<rect x="322" y="278" width="15.25" height="1"/>
<rect x="323.25" y="279" width="15.25" height="1"/>
<rect x="324.5" y="280" width="15" height="1"/>
<rect x="325.5" y="281" width="15.25" height="1"/>
<rect x="326.75" y="282" width="15" height="1"/>
<rect x="328" y="283" width="15" height="1"/>
<rect x="329.25" y="284" width="14.75" height="1"/>
<rect x="330.5" y="285" width="14.75" height="1"/>
<rect x="331.75" y="286" width="14.5" height="1"/>
<rect x="333" y="287" width="14.5" height="1"/>
<rect x="334" y="288" width="14.75" height="1"/>
<rect x="335.25" y="289" width="14.5" height="1"/>
<rect x="336.5" y="290" width="14.5" height="1"/>
<rect x="337.75" y="291" width="14.25" height="1"/>
<rect x="339" y="292" width="14.25" height="1"/>
<rect x="340.25" y="293" width="14" height="1"/>
<rect x="341.5" y="294" width="14" height="1"/>
<rect x="342.5" y="295" width="14" height="1"/>
<rect x="343.75" y="296" width="14" height="1"/>
<rect x="345" y="297" width="13.75" height="1"/>
<rect x="346.25" y="298" width="13.75" height="1"/>
<rect x="347.5" y="299" width="13.75" height="1"/>
<rect x="348.75" y="300" width="13.5" height="1"/>
<rect x="350" y="301" width="13.5" height="1"/>
<rect x="351.25" y="302" width="13.25" height="1"/>
<rect x="352.25" y="303" width="13.5" height="1"/>
<rect x="353.5" y="304" width="13.25" height="1"/>
<rect x="354.75" y="305" width="13.25" height="1"/>
<rect x="356" y="306" width="13" height="1"/>
</g>
<g fill="url(#b7)">
<rect x="253.25" y="204" width="19.75" height="1"/>
<rect x="254.25" y="205" width="19.75" height="1"/>
<rect x="255.5" y="206" width="19.5" height="1"/>
<rect x="256.5" y="207" width="19.75" height="1"/>
<rect x="257.75" y="208" width="19.5" height="1"/>
<rect x="258.75" y="209" width="19.5" height="1"/>
<rect x="260" y="210" width="19.25" height="1"/>
<rect x="261" y="211" width="19.5" height="1"/>
<rect x="262.25" y="212" width="19.25" height="1"/>
<rect x="263.5" y="213" width="19" height="1"/>
<rect x="264.5" y="214" width="19.25" height="1"/>
<rect x="265.75" y="215" width="19" height="1"/>
<rect x="266.75" y="216" width="19" height="1"/>
<rect x="268" y="217" width="18.75" height="1"/>
<rect x="269" y="218" width="19" height="1"/>
<rect x="270.25" y="219" width="18.75" height="1"/>
<rect x="271.25" y="220" width="18.75" height="1"/>
<rect x="272.5" y="221" width="18.5" height="1"/>
<rect x="273.5" y="222" width="18.75" height="1"/>
<rect x="274.75" y="223" width="18.5" height="1"/>
<rect x="276" y="224" width="18.25" height="1"/>
<rect x="277" y="225" width="18.5" height="1"/>
<rect x="278.25" y="226" width="18.25" height="1"/>
<rect x="279.25" y="227" width="18.25" height="1"/>
<rect x="280.5" y="228" width="18" height="1"/>
<rect x="281.5" y="229" width="18.25" height="1"/>
<rect x="282.75" y="230" width="18" height="1"/>
<rect x="283.75" y="231" width="18" height="1"/>
<rect x="285" y="232" width="17.75" height="1"/>
<rect x="286" y="233" width="18" height="1"/>
<rect x="287.25" y="234" width="17.75" height="1"/>
<rect x="288.5" y="235" width="17.5" height="1"/>
<rect x="289.5" y="236" width="17.75" height="1"/>
<rect x="290.75" y="237" width="17.5" height="1"/>
<rect x="291.75" y="238" width="17.5" height="1"/>
<rect x="293" y="239" width="17.25" height="1"/>
<rect x="294" y="240" width="17.5" height="1"/>
<rect x="295.25" y="241" width="17.25" height="1"/>
<rect x="296.25" y="242" width="17.25" height="1"/>
<rect x="297.5" y="243" width="17" height="1"/>
<rect x="298.5" y="244" width="17.25" height="1"/>
<rect x="299.75" y="245" width="17" height="1"/>
<rect x="301" y="246" width="16.75" height="1"/>
<rect x="302" y="247" width="17" height="1"/>
<rect x="303.25" y="248" width="16.75" height="1"/>
<rect x="304.25" y="249" width="16.75" height="1"/>
<rect x="305.5" y="250" width="16.5" height="1"/>
<rect x="306.5" y="251" width="16.75" height="1"/>
<rect x="307.75" y="252" width="16.5" height="1"/>
<rect x="308.75" y="253" width="16.5" height="1"/>
<rect x="310" y="254" width="16.25" height="1"/>
<rect x="311.25" y="255" width="16.25" height="1"/>
<rect x="312.25" y="256" width="16.25" height="1"/>
<rect x="313.5" y="257" width="16" height="1"/>
<rect x="314.5" y="258" width="16.25" height="1"/>
<rect x="315.75" y="259" width="16" height="1"/>
<rect x="316.75" y="260" width="16" height="1"/>
<rect x="318" y="261" width="15.75" height="1"/>
<rect x="319" y="262" width="16" height="1"/>
<rect x="320.25" y="263" width="15.75" height="1"/>
<rect x="321.25" y="264" width="15.75" height="1"/>
<rect x="322.5" y="265" width="15.5" height="1"/>
<rect x="323.75" y="266" width="15.5" height="1"/>
<rect x="324.75" y="267" width="15.5" height="1"/>
<rect x="326" y="268" width="15.25" height="1"/>
<rect x="327" y="269" width="15.5" height="1"/>
<rect x="328.25" y="270" width="15.25" height="1"/>
<rect x="329.25" y="271" width="15.25" height="1"/>
<rect x="330.5" y="272" width="15" height="1"/>
<rect x="331.5" y="273" width="15.25" height="1"/>
<rect x="332.75" y="274" width="15" height="1"/>
<rect x="333.75" y="275" width="15" height="1"/>
<rect x="335" y="276" width="14.75" height="1"/>
<rect x="336.25" y="277" width="14.75" height="1"/>
<rect x="337.25" y="278" width="14.75" height="1"/>
<rect x="338.5" y="279" width="14.5" height="1"/>
<rect x="339.5" y="280" width="14.75" height="1"/>
<rect x="340.75" y="281" width="14.5" height="1"/>
<rect x="341.75" y="282" width="14.5" height="1"/>
<rect x="343" y="283" width="14.25" height="1"/>
<rect x="344" y="284" width="14.5" height="1"/>
<rect x="345.25" y="285" width="14.25" height="1"/>
<rect x="346.25" y="286" width="14.25" height="1"/>
<rect x="347.5" y="287" width="14" height="1"/>
<rect x="348.75" y="288" width="14" height="1"/>
<rect x="349.75" y="289" width="14" height="1"/>
<rect x="351" y="290" width="13.75" height="1"/>
<rect x="352" y="291" width="14" height="1"/>
<rect x="353.25" y="292" width="13.75" height="1"/>
<rect x="354.25" y="293" width="13.75" height="1"/>
<rect x="355.5" y="294" width="13.5" height="1"/>
</g>
<g fill="url(#b8)">
<rect x="273" y="204" width="14.75" height="1"/>
<rect x="274" y="205" width="15" height="1"/>
<rect x="275" y="206" width="15" height="1"/>
<rect x="276.25" y="207" width="15" height="1"/>
<rect x="277.25" y="208" width="15" height="1"/>
<rect x="278.25" y="209" width="15.25" height="1"/>
<rect x="279.25" y="210" width="15.25" height="1"/>
<rect x="280.5" y="211" width="15" height="1"/>
<rect x="281.5" y="212" width="15.25" height="1"/>
<rect x="282.5" y="213" width="15.25" height="1"/>
<rect x="283.75" y="214" width="15.25" height="1"/>
<rect x="284.75" y="215" width="15.25" height="1"/>
<rect x="285.75" y="216" width="15.25" height="1"/>
<rect x="286.75" y="217" width="15.5" height="1"/>
<rect x="288" y="218" width="15.25" height="1"/>
<rect x="289" y="219" width="15.5" height="1"/>
<rect x="290" y="220" width="15.5" height="1"/>
<rect x="291" y="221" width="15.75" height="1"/>
<rect x="292.25" y="222" width="15.5" height="1"/>
<rect x="293.25" y="223" width="15.5" height="1"/>
<rect x="294.25" y="224" width="15.75" height="1"/>
<rect x="295.5" y="225" width="15.5" height="1"/>
<rect x="296.5" y="226" width="15.75" height="1"/>
<rect x="297.5" y="227" width="15.75" height="1"/>
<rect x="298.5" y="228" width="15.75" height="1"/>
<rect x="299.75" y="229" width="15.75" height="1"/>
<rect x="300.75" y="230" width="15.75" height="1"/>
<rect x="301.75" y="231" width="16" height="1"/>
<rect x="302.75" y="232" width="16" height="1"/>
<rect x="304" y="233" width="16" height="1"/>
<rect x="305" y="234" width="16" height="1"/>
<rect x="306" y="235" width="16" height="1"/>
<rect x="307.25" y="236" width="16" height="1"/>
<rect x="308.25" y="237" width="16" height="1"/>
<rect x="309.25" y="238" width="16.25" height="1"/>
<rect x="310.25" y="239" width="16.25" height="1"/>
<rect x="311.5" y="240" width="16.25" height="1"/>
<rect x="312.5" y="241" width="16.25" height="1"/>
<rect x="313.5" y="242" width="16.25" height="1"/>
<rect x="314.5" y="243" width="16.5" height="1"/>
<rect x="315.75" y="244" width="16.25" height="1"/>
<rect x="316.75" y="245" width="16.5" height="1"/>
<rect x="317.75" y="246" width="16.5" height="1"/>
<rect x="319" y="247" width="16.25" height="1"/>
<rect x="320" y="248" width="16.5" height="1"/>
<rect x="321" y="249" width="16.5" height="1"/>
<rect x="322" y="250" width="16.75" height="1"/>
<rect x="323.25" y="251" width="16.5" height="1"/>
<rect x="324.25" y="252" width="16.75" height="1"/>
<rect x="325.25" y="253" width="16.75" height="1"/>
<rect x="326.25" y="254" width="16.75" height="1"/>
<rect x="327.5" y="255" width="16.75" height="1"/>
<rect x="328.5" y="256" width="16.75" height="1"/>
<rect x="329.5" y="257" width="17" height="1"/>
<rect x="330.75" y="258" width="16.75" height="1"/>
<rect x="331.75" y="259" width="16.75" height="1"/>
<rect x="332.75" y="260" width="17" height="1"/>
<rect x="333.75" y="261" width="17" height="1"/>
<rect x="335" y="262" width="17" height="1"/>
<rect x="336" y="263" width="17" height="1"/>
<rect x="337" y="264" width="17.25" height="1"/>
<rect x="338" y="265" width="17.25" height="1"/>
<rect x="339.25" y="266" width="17" height="1"/>
<rect x="340.25" y="267" width="17.25" height="1"/>
<rect x="341.25" y="268" width="17.25" height="1"/>
<rect x="342.5" y="269" width="17.25" height="1"/>
<rect x="343.5" y="270" width="17.25" height="1"/>
<rect x="344.5" y="271" width="17.25" height="1"/>
<rect x="345.5" y="272" width="17.5" height="1"/>
<rect x="346.75" y="273" width="17.25" height="1"/>
<rect x="347.75" y="274" width="17.5" height="1"/>
<rect x="348.75" y="275" width="17.5" height="1"/>
<rect x="349.75" y="276" width="17.75" height="1"/>
<rect x="351" y="277" width="17.5" height="1"/>
<rect x="352" y="278" width="17.5" height="1"/>
<rect x="353" y="279" width="17.75" height="1"/>
<rect x="354.25" y="280" width="17.5" height="1"/>
<rect x="355.25" y="281" width="17.75" height="1"/>
<rect x="356.25" y="282" width="17.75" height="1"/>
</g>
<g fill="#073a5e">
<rect x="287.75" y="204" width="69.25" height="1"/>
<rect x="289" y="205" width="68" height="1"/>
<rect x="290" y="206" width="67" height="1"/>
<rect x="291.25" y="207" width="65.75" height="1"/>
<rect x="292.25" y="208" width="64.75" height="1"/>
<rect x="293.5" y="209" width="63.5" height="1"/>
<rect x="294.5" y="210" width="62.5" height="1"/>
<rect x="295.5" y="211" width="61.5" height="1"/>
<rect x="296.75" y="212" width="60.25" height="1"/>
<rect x="297.75" y="213" width="59.25" height="1"/>
<rect x="299" y="214" width="58" height="1"/>
<rect x="300" y="215" width="57" height="1"/>
<rect x="301" y="216" width="56" height="1"/>
<rect x="302.25" y="217" width="54.75" height="1"/>
<rect x="303.25" y="218" width="53.75" height="1"/>
<rect x="304.5" y="219" width="52.5" height="1"/>
<rect x="305.5" y="220" width="51.5" height="1"/>
<rect x="306.75" y="221" width="50.25" height="1"/>
<rect x="307.75" y="222" width="49.25" height="1"/>
<rect x="308.75" y="223" width="48.25" height="1"/>
<rect x="310" y="224" width="47" height="1"/>
<rect x="311" y="225" width="46" height="1"/>
<rect x="312.25" y="226" width="44.75" height="1"/>
<rect x="313.25" y="227" width="43.75" height="1"/>
<rect x="314.25" y="228" width="42.75" height="1"/>
<rect x="315.5" y="229" width="41.5" height="1"/>
<rect x="316.5" y="230" width="40.5" height="1"/>
<rect x="317.75" y="231" width="39.25" height="1"/>
<rect x="318.75" y="232" width="38.25" height="1"/>
<rect x="320" y="233" width="37" height="1"/>
<rect x="321" y="234" width="36" height="1"/>
<rect x="322" y="235" width="35" height="1"/>
<rect x="323.25" y="236" width="33.75" height="1"/>
<rect x="324.25" y="237" width="32.75" height="1"/>
<rect x="325.5" y="238" width="31.5" height="1"/>
<rect x="326.5" y="239" width="30.5" height="1"/>
<rect x="327.75" y="240" width="29.25" height="1"/>
<rect x="328.75" y="241" width="28.25" height="1"/>
<rect x="329.75" y="242" width="27.25" height="1"/>
<rect x="331" y="243" width="26" height="1"/>
<rect x="332" y="244" width="25" height="1"/>
<rect x="333.25" y="245" width="23.75" height="1"/>
<rect x="334.25" y="246" width="22.75" height="1"/>
<rect x="335.25" y="247" width="21.75" height="1"/>
<rect x="336.5" y="248" width="20.5" height="1"/>
<rect x="337.5" y="249" width="19.5" height="1"/>
<rect x="338.75" y="250" width="18.25" height="1"/>
<rect x="339.75" y="251" width="17.25" height="1"/>
<rect x="341" y="252" width="16" height="1"/>
<rect x="342" y="253" width="15" height="1"/>
<rect x="343" y="254" width="14" height="1"/>
<rect x="344.25" y="255" width="12.75" height="1"/>
<rect x="345.25" y="256" width="11.75" height="1"/>
<rect x="346.5" y="257" width="10.5" height="1"/>
<rect x="347.5" y="258" width="9.5" height="1"/>
<rect x="348.5" y="259" width="8.5" height="1"/>
<rect x="349.75" y="260" width="7.25" height="1"/>
<rect x="350.75" y="261" width="6.25" height="1"/>
<rect x="352" y="262" width="5" height="1"/>
<rect x="353" y="263" width="4" height="1"/>
<rect x="354.25" y="264" width="2.75" height="1"/>
<rect x="355.25" y="265" width="1.75" height="1"/>
</g>
<g fill="url(#b9)">
<rect x="198" y="231" width="26.25" height="1"/>
<rect x="199" y="232" width="26.25" height="1"/>
<rect x="200" y="233" width="26" height="1"/>
<rect x="201" y="234" width="26" height="1"/>
<rect x="202" y="235" width="26" height="1"/>
<rect x="202.75" y="236" width="26.25" height="1"/>
<rect x="203.75" y="237" width="26.25" height="1"/>
<rect x="204.75" y="238" width="26.25" height="1"/>
<rect x="205.75" y="239" width="26.25" height="1"/>
<rect x="206.75" y="240" width="26.25" height="1"/>
<rect x="207.5" y="241" width="26.5" height="1"/>
<rect x="208.5" y="242" width="26.5" height="1"/>
<rect x="209.5" y="243" width="26.5" height="1"/>
<rect x="210.5" y="244" width="26.5" height="1"/>
<rect x="211.5" y="245" width="26.5" height="1"/>
<rect x="212.25" y="246" width="26.5" height="1"/>
<rect x="213.25" y="247" width="26.5" height="1"/>
<rect x="214.25" y="248" width="26.5" height="1"/>
<rect x="215.25" y="249" width="26.5" height="1"/>
<rect x="216" y="250" width="26.75" height="1"/>
<rect x="217" y="251" width="26.75" height="1"/>
<rect x="218" y="252" width="26.75" height="1"/>
<rect x="219" y="253" width="26.75" height="1"/>
<rect x="220" y="254" width="26.75" height="1"/>
<rect x="220.75" y="255" width="27" height="1"/>
<rect x="221.75" y="256" width="27" height="1"/>
<rect x="222.75" y="257" width="27" height="1"/>
<rect x="223.75" y="258" width="26.75" height="1"/>
<rect x="224.75" y="259" width="26.75" height="1"/>
<rect x="225.5" y="260" width="27" height="1"/>
<rect x="226.5" y="261" width="27" height="1"/>
<rect x="227.5" y="262" width="27" height="1"/>
<rect x="228.5" y="263" width="27" height="1"/>
<rect x="229.5" y="264" width="27" height="1"/>
<rect x="230.25" y="265" width="27.25" height="1"/>
<rect x="231.25" y="266" width="27.25" height="1"/>
<rect x="232.25" y="267" width="27.25" height="1"/>
<rect x="233.25" y="268" width="27.25" height="1"/>
<rect x="234.25" y="269" width="27.25" height="1"/>
<rect x="235" y="270" width="27.5" height="1"/>
<rect x="236" y="271" width="27.25" height="1"/>
<rect x="237" y="272" width="27.25" height="1"/>
<rect x="238" y="273" width="27.25" height="1"/>
<rect x="239" y="274" width="27.25" height="1"/>
<rect x="239.75" y="275" width="27.5" height="1"/>
<rect x="240.75" y="276" width="27.5" height="1"/>
<rect x="241.75" y="277" width="27.5" height="1"/>
<rect x="242.75" y="278" width="27.5" height="1"/>
<rect x="243.75" y="279" width="27.5" height="1"/>
<rect x="244.5" y="280" width="27.75" height="1"/>
<rect x="245.5" y="281" width="27.75" height="1"/>
<rect x="246.5" y="282" width="27.75" height="1"/>
<rect x="247.5" y="283" width="27.5" height="1"/>
<rect x="248.25" y="284" width="27.75" height="1"/>
<rect x="249.25" y="285" width="27.75" height="1"/>
<rect x="250.25" y="286" width="27.75" height="1"/>
<rect x="251.25" y="287" width="27.75" height="1"/>
<rect x="252.25" y="288" width="27.75" height="1"/>
<rect x="253" y="289" width="28" height="1"/>
<rect x="254" y="290" width="28" height="1"/>
<rect x="255" y="291" width="28" height="1"/>
<rect x="256" y="292" width="28" height="1"/>
<rect x="257" y="293" width="28" height="1"/>
<rect x="257.75" y="294" width="28.25" height="1"/>
<rect x="258.75" y="295" width="28" height="1"/>
<rect x="259.75" y="296" width="28" height="1"/>
<rect x="260.75" y="297" width="28" height="1"/>
<rect x="261.75" y="298" width="28" height="1"/>
<rect x="262.5" y="299" width="28.25" height="1"/>
<rect x="263.5" y="300" width="28.25" height="1"/>
<rect x="264.5" y="301" width="28.25" height="1"/>
<rect x="265.5" y="302" width="28.25" height="1"/>
<rect x="266.5" y="303" width="28.25" height="1"/>
<rect x="267.25" y="304" width="28.5" height="1"/>
<rect x="268.25" y="305" width="28.5" height="1"/>
<rect x="269.25" y="306" width="28.5" height="1"/>
<rect x="270.25" y="307" width="28.5" height="1"/>
<rect x="271.25" y="308" width="28.25" height="1"/>
<rect x="272" y="309" width="28.5" height="1"/>
<rect x="273" y="310" width="28.5" height="1"/>
<rect x="274" y="311" width="28.5" height="1"/>
<rect x="275" y="312" width="28.5" height="1"/>
<rect x="276" y="313" width="28.5" height="1"/>
<rect x="276.75" y="314" width="28.75" height="1"/>
<rect x="277.75" y="315" width="28.75" height="1"/>
<rect x="278.75" y="316" width="28.75" height="1"/>
<rect x="279.75" y="317" width="28.75" height="1"/>
<rect x="280.5" y="318" width="29" height="1"/>
<rect x="281.5" y="319" width="29" height="1"/>
<rect x="282.5" y="320" width="28.75" height="1"/>
<rect x="283.5" y="321" width="28.75" height="1"/>
<rect x="284.5" y="322" width="28.75" height="1"/>
<rect x="285.25" y="323" width="29" height="1"/>
<rect x="286.25" y="324" width="29" height="1"/>
<rect x="287.25" y="325" width="29" height="1"/>
<rect x="288.25" y="326" width="29" height="1"/>
<rect x="289.25" y="327" width="29" height="1"/>
<rect x="290" y="328" width="29.25" height="1"/>
<rect x="291" y="329" width="29.25" height="1"/>
<rect x="292" y="330" width="29.25" height="1"/>
<rect x="293" y="331" width="29.25" height="1"/>
<rect x="294" y="332" width="29.25" height="1"/>
<rect x="294.75" y="333" width="29.25" height="1"/>
<rect x="295.75" y="334" width="29.25" height="1"/>
<rect x="296.75" y="335" width="29.25" height="1"/>
<rect x="297.75" y="336" width="29.25" height="1"/>
<rect x="298.75" y="337" width="29.25" height="1"/>
<rect x="299.5" y="338" width="29.5" height="1"/>
<rect x="300.25" y="339" width="29.25" height="1"/>
</g>
<g fill="url(#b10)">
<rect x="201.75" y="258" width="22" height="1"/>
<rect x="202.5" y="259" width="22.25" height="1"/>
<rect x="203.5" y="260" width="22" height="1"/>
<rect x="204.5" y="261" width="22" height="1"/>
<rect x="205.5" y="262" width="22" height="1"/>
<rect x="206.25" y="263" width="22.25" height="1"/>
<rect x="207.25" y="264" width="22.25" height="1"/>
<rect x="208.25" y="265" width="22" height="1"/>
<rect x="209" y="266" width="22.25" height="1"/>
<rect x="210" y="267" width="22.25" height="1"/>
<rect x="211" y="268" width="22.25" height="1"/>
<rect x="212" y="269" width="22.25" height="1"/>
<rect x="212.75" y="270" width="22.25" height="1"/>
<rect x="213.75" y="271" width="22.25" height="1"/>
<rect x="214.75" y="272" width="22.25" height="1"/>
<rect x="215.75" y="273" width="22.25" height="1"/>
<rect x="216.5" y="274" width="22.5" height="1"/>
<rect x="217.5" y="275" width="22.25" height="1"/>
<rect x="218.5" y="276" width="22.25" height="1"/>
<rect x="219.5" y="277" width="22.25" height="1"/>
<rect x="220.25" y="278" width="22.5" height="1"/>
<rect x="221.25" y="279" width="22.5" height="1"/>
<rect x="222.25" y="280" width="22.25" height="1"/>
<rect x="223.25" y="281" width="22.25" height="1"/>
<rect x="224" y="282" width="22.5" height="1"/>
<rect x="225" y="283" width="22.5" height="1"/>
<rect x="226" y="284" width="22.25" height="1"/>
<rect x="227" y="285" width="22.25" height="1"/>
<rect x="227.75" y="286" width="22.5" height="1"/>
<rect x="228.75" y="287" width="22.5" height="1"/>
<rect x="229.75" y="288" width="22.5" height="1"/>
<rect x="230.75" y="289" width="22.25" height="1"/>
<rect x="231.5" y="290" width="22.5" height="1"/>
<rect x="232.5" y="291" width="22.5" height="1"/>
<rect x="233.5" y="292" width="22.5" height="1"/>
<rect x="234.5" y="293" width="22.5" height="1"/>
<rect x="235.25" y="294" width="22.5" height="1"/>
<rect x="236.25" y="295" width="22.5" height="1"/>
<rect x="237.25" y="296" width="22.5" height="1"/>
<rect x="238.25" y="297" width="22.5" height="1"/>
<rect x="239" y="298" width="22.75" height="1"/>
<rect x="240" y="299" width="22.5" height="1"/>
<rect x="241" y="300" width="22.5" height="1"/>
<rect x="242" y="301" width="22.5" height="1"/>
<rect x="242.75" y="302" width="22.75" height="1"/>
<rect x="243.75" y="303" width="22.75" height="1"/>
<rect x="244.75" y="304" width="22.5" height="1"/>
<rect x="245.5" y="305" width="22.75" height="1"/>
<rect x="246.5" y="306" width="22.75" height="1"/>
<rect x="247.5" y="307" width="22.75" height="1"/>
<rect x="248.5" y="308" width="22.75" height="1"/>
<rect x="249.25" y="309" width="22.75" height="1"/>
<rect x="250.25" y="310" width="22.75" height="1"/>
<rect x="251.25" y="311" width="22.75" height="1"/>
<rect x="252.25" y="312" width="22.75" height="1"/>
<rect x="253" y="313" width="23" height="1"/>
<rect x="254" y="314" width="22.75" height="1"/>
<rect x="255" y="315" width="22.75" height="1"/>
<rect x="256" y="316" width="22.75" height="1"/>
<rect x="256.75" y="317" width="23" height="1"/>
<rect x="257.75" y="318" width="22.75" height="1"/>
<rect x="258.75" y="319" width="22.75" height="1"/>
<rect x="259.75" y="320" width="22.75" height="1"/>
<rect x="260.5" y="321" width="23" height="1"/>
<rect x="261.5" y="322" width="23" height="1"/>
<rect x="262.5" y="323" width="22.75" height="1"/>
<rect x="263.5" y="324" width="22.75" height="1"/>
<rect x="264.25" y="325" width="23" height="1"/>
<rect x="265.25" y="326" width="23" height="1"/>
<rect x="266.25" y="327" width="23" height="1"/>
<rect x="267.25" y="328" width="22.75" height="1"/>
<rect x="268" y="329" width="23" height="1"/>
<rect x="269" y="330" width="23" height="1"/>
<rect x="270" y="331" width="23" height="1"/>
<rect x="271" y="332" width="23" height="1"/>
<rect x="271.75" y="333" width="23" height="1"/>
<rect x="272.75" y="334" width="23" height="1"/>
<rect x="273.75" y="335" width="23" height="1"/>
<rect x="274.75" y="336" width="23" height="1"/>
<rect x="275.5" y="337" width="23.25" height="1"/>
<rect x="276.5" y="338" width="23" height="1"/>
<rect x="277" y="339" width="23.25" height="1"/>
</g>
<g fill="url(#b11)">
<rect x="215.75" y="282" width="8.25" height="1"/>
<rect x="216.5" y="283" width="8.5" height="1"/>
<rect x="217.5" y="284" width="8.5" height="1"/>
<rect x="218.25" y="285" width="8.75" height="1"/>
<rect x="219.25" y="286" width="8.5" height="1"/>
<rect x="220.25" y="287" width="8.5" height="1"/>
<rect x="221" y="288" width="8.75" height="1"/>
<rect x="222" y="289" width="8.75" height="1"/>
<rect x="222.75" y="290" width="8.75" height="1"/>
<rect x="223.75" y="291" width="8.75" height="1"/>
<rect x="224.5" y="292" width="9" height="1"/>
<rect x="225.5" y="293" width="9" height="1"/>
<rect x="226.5" y="294" width="8.75" height="1"/>
<rect x="227.25" y="295" width="9" height="1"/>
<rect x="228.25" y="296" width="9" height="1"/>
<rect x="229" y="297" width="9.25" height="1"/>
<rect x="230" y="298" width="9" height="1"/>
<rect x="230.75" y="299" width="9.25" height="1"/>
<rect x="231.75" y="300" width="9.25" height="1"/>
<rect x="232.5" y="301" width="9.5" height="1"/>
<rect x="233.5" y="302" width="9.25" height="1"/>
<rect x="234.5" y="303" width="9.25" height="1"/>
<rect x="235.25" y="304" width="9.5" height="1"/>
<rect x="236.25" y="305" width="9.25" height="1"/>
<rect x="237" y="306" width="9.5" height="1"/>
<rect x="238" y="307" width="9.5" height="1"/>
<rect x="238.75" y="308" width="9.75" height="1"/>
<rect x="239.75" y="309" width="9.5" height="1"/>
<rect x="240.75" y="310" width="9.5" height="1"/>
<rect x="241.5" y="311" width="9.75" height="1"/>
<rect x="242.5" y="312" width="9.75" height="1"/>
<rect x="243.25" y="313" width="9.75" height="1"/>
<rect x="244.25" y="314" width="9.75" height="1"/>
<rect x="245" y="315" width="10" height="1"/>
<rect x="246" y="316" width="10" height="1"/>
<rect x="246.75" y="317" width="10" height="1"/>
<rect x="247.75" y="318" width="10" height="1"/>
<rect x="248.75" y="319" width="10" height="1"/>
<rect x="249.5" y="320" width="10.25" height="1"/>
<rect x="250.5" y="321" width="10" height="1"/>
<rect x="251.25" y="322" width="10.25" height="1"/>
<rect x="252.25" y="323" width="10.25" height="1"/>
<rect x="253" y="324" width="10.5" height="1"/>
<rect x="254" y="325" width="10.25" height="1"/>
<rect x="255" y="326" width="10.25" height="1"/>
<rect x="255.75" y="327" width="10.5" height="1"/>
<rect x="256.75" y="328" width="10.5" height="1"/>
<rect x="257.5" y="329" width="10.5" height="1"/>
<rect x="258.5" y="330" width="10.5" height="1"/>
<rect x="259.25" y="331" width="10.75" height="1"/>
<rect x="260.25" y="332" width="10.75" height="1"/>
<rect x="261" y="333" width="10.75" height="1"/>
<rect x="262" y="334" width="10.75" height="1"/>
<rect x="263" y="335" width="10.75" height="1"/>
<rect x="263.75" y="336" width="11" height="1"/>
<rect x="264.75" y="337" width="10.75" height="1"/>
<rect x="265.5" y="338" width="11" height="1"/>
<rect x="266" y="339" width="11" height="1"/>
</g>
<g fill="url(#b12)">
<rect x="212.75" y="291" width="11" height="1"/>
<rect x="213.5" y="292" width="11" height="1"/>
<rect x="214.5" y="293" width="11" height="1"/>
<rect x="215.25" y="294" width="11.25" height="1"/>
<rect x="216.25" y="295" width="11" height="1"/>
<rect x="217" y="296" width="11.25" height="1"/>
<rect x="218" y="297" width="11" height="1"/>
<rect x="218.75" y="298" width="11.25" height="1"/>
<rect x="219.5" y="299" width="11.25" height="1"/>
<rect x="220.5" y="300" width="11.25" height="1"/>
<rect x="221.25" y="301" width="11.25" height="1"/>
<rect x="222.25" y="302" width="11.25" height="1"/>
<rect x="223" y="303" width="11.5" height="1"/>
<rect x="224" y="304" width="11.25" height="1"/>
<rect x="224.75" y="305" width="11.5" height="1"/>
<rect x="225.75" y="306" width="11.25" height="1"/>
<rect x="226.5" y="307" width="11.5" height="1"/>
<rect x="227.5" y="308" width="11.25" height="1"/>
<rect x="228.25" y="309" width="11.5" height="1"/>
<rect x="229" y="310" width="11.75" height="1"/>
<rect x="230" y="311" width="11.5" height="1"/>
<rect x="230.75" y="312" width="11.75" height="1"/>
<rect x="231.75" y="313" width="11.5" height="1"/>
<rect x="232.5" y="314" width="11.75" height="1"/>
<rect x="233.5" y="315" width="11.5" height="1"/>
<rect x="234.25" y="316" width="11.75" height="1"/>
<rect x="235.25" y="317" width="11.5" height="1"/>
<rect x="236" y="318" width="11.75" height="1"/>
<rect x="237" y="319" width="11.75" height="1"/>
<rect x="237.75" y="320" width="11.75" height="1"/>
<rect x="238.5" y="321" width="12" height="1"/>
<rect x="239.5" y="322" width="11.75" height="1"/>
<rect x="240.25" y="323" width="12" height="1"/>
<rect x="241.25" y="324" width="11.75" height="1"/>
<rect x="242" y="325" width="12" height="1"/>
<rect x="243" y="326" width="12" height="1"/>
<rect x="243.75" y="327" width="12" height="1"/>
<rect x="244.75" y="328" width="12" height="1"/>
<rect x="245.5" y="329" width="12" height="1"/>
<rect x="246.5" y="330" width="12" height="1"/>
<rect x="247.25" y="331" width="12" height="1"/>
<rect x="248.25" y="332" width="12" height="1"/>
<rect x="249" y="333" width="12" height="1"/>
<rect x="249.75" y="334" width="12.25" height="1"/>
<rect x="250.75" y="335" width="12.25" height="1"/>
<rect x="251.5" y="336" width="12.25" height="1"/>
<rect x="252.5" y="337" width="12.25" height="1"/>
<rect x="253.25" y="338" width="12.25" height="1"/>
<rect x="253.75" y="339" width="12.25" height="1"/>
</g>
<g fill="url(#b13)">
<rect x="217.25" y="304" width="6.75" height="1"/>
<rect x="218.25" y="305" width="6.5" height="1"/>
<rect x="219" y="306" width="6.75" height="1"/>
<rect x="220" y="307" width="6.5" height="1"/>
<rect x="220.75" y="308" width="6.75" height="1"/>
<rect x="221.75" y="309" width="6.5" height="1"/>
<rect x="222.5" y="310" width="6.5" height="1"/>
<rect x="223.5" y="311" width="6.5" height="1"/>
<rect x="224.5" y="312" width="6.25" height="1"/>
<rect x="225.25" y="313" width="6.5" height="1"/>
<rect x="226.25" y="314" width="6.25" height="1"/>
<rect x="227" y="315" width="6.5" height="1"/>
<rect x="228" y="316" width="6.25" height="1"/>
<rect x="228.75" y="317" width="6.5" height="1"/>
<rect x="229.75" y="318" width="6.25" height="1"/>
<rect x="230.5" y="319" width="6.5" height="1"/>
<rect x="231.5" y="320" width="6.25" height="1"/>
<rect x="232.25" y="321" width="6.25" height="1"/>
<rect x="233.25" y="322" width="6.25" height="1"/>
<rect x="234" y="323" width="6.25" height="1"/>
<rect x="235" y="324" width="6.25" height="1"/>
<rect x="235.75" y="325" width="6.25" height="1"/>
<rect x="236.75" y="326" width="6.25" height="1"/>
<rect x="237.5" y="327" width="6.25" height="1"/>
<rect x="238.5" y="328" width="6.25" height="1"/>
<rect x="239.25" y="329" width="6.25" height="1"/>
<rect x="240.25" y="330" width="6.25" height="1"/>
<rect x="241" y="331" width="6.25" height="1"/>
<rect x="242" y="332" width="6.25" height="1"/>
<rect x="242.75" y="333" width="6.25" height="1"/>
<rect x="243.75" y="334" width="6" height="1"/>
<rect x="244.5" y="335" width="6.25" height="1"/>
<rect x="245.5" y="336" width="6" height="1"/>
<rect x="246.25" y="337" width="6.25" height="1"/>
<rect x="247.25" y="338" width="6" height="1"/>
<rect x="247.75" y="339" width="6" height="1"/>
</g>
<g fill="url(#b14)">
<rect x="212" y="312" width="12.5" height="1"/>
<rect x="213" y="313" width="12.25" height="1"/>
<rect x="214" y="314" width="12.25" height="1"/>
<rect x="214.75" y="315" width="12.25" height="1"/>
<rect x="215.75" y="316" width="12.25" height="1"/>
<rect x="216.75" y="317" width="12" height="1"/>
<rect x="217.75" y="318" width="12" height="1"/>
<rect x="218.5" y="319" width="12" height="1"/>
<rect x="219.5" y="320" width="12" height="1"/>
<rect x="220.5" y="321" width="11.75" height="1"/>
<rect x="221.25" y="322" width="12" height="1"/>
<rect x="222.25" y="323" width="11.75" height="1"/>
<rect x="223.25" y="324" width="11.75" height="1"/>
<rect x="224.25" y="325" width="11.5" height="1"/>
<rect x="225" y="326" width="11.75" height="1"/>
<rect x="226" y="327" width="11.5" height="1"/>
<rect x="227" y="328" width="11.5" height="1"/>
<rect x="227.75" y="329" width="11.5" height="1"/>
<rect x="228.75" y="330" width="11.5" height="1"/>
<rect x="229.75" y="331" width="11.25" height="1"/>
<rect x="230.75" y="332" width="11.25" height="1"/>
<rect x="231.5" y="333" width="11.25" height="1"/>
<rect x="232.5" y="334" width="11.25" height="1"/>
<rect x="233.5" y="335" width="11" height="1"/>
<rect x="234.5" y="336" width="11" height="1"/>
<rect x="235.25" y="337" width="11" height="1"/>
<rect x="236.25" y="338" width="11" height="1"/>
<rect x="236.75" y="339" width="11" height="1"/>
</g>
<g fill="#45107a">
<rect x="223" y="325" width="1.25" height="1"/>
<rect x="223" y="326" width="2" height="1"/>
<rect x="223" y="327" width="3" height="1"/>
<rect x="223" y="328" width="4" height="1"/>
<rect x="223" y="329" width="4.75" height="1"/>
<rect x="223" y="330" width="5.75" height="1"/>
<rect x="223" y="331" width="6.75" height="1"/>
<rect x="223" y="332" width="7.75" height="1"/>
<rect x="223" y="333" width="8.5" height="1"/>
<rect x="223" y="334" width="9.5" height="1"/>
<rect x="223" y="335" width="10.5" height="1"/>
<rect x="223" y="336" width="11.5" height="1"/>
<rect x="223" y="337" width="12.25" height="1"/>
<rect x="223" y="338" width="13.25" height="1"/>
<rect x="223" y="339" width="13.75" height="1"/>
</g>
</g>
<path class="d" d="M224 287.6H356 M224 309.9H356"/>
<text class="w" x="227.2" y="281.1">RFS</text>
<text class="w" x="227.2" y="302.8">MFS</text>
<text class="w" x="228.2" y="324.3">FFS</text>
<text class="t" x="290" y="202.1">Kim displacement</text>
<text class="k" text-anchor="end" x="220.7" y="208.1">0.75</text>
<text class="k" text-anchor="end" x="220.7" y="275.45">0.25</text>
<text class="k" text-anchor="end" x="220.7" y="342.8">-0.25</text>
<text class="k" text-anchor="middle" x="224" y="351.2">2.5</text>
<text class="k" text-anchor="middle" x="290" y="351.2">5</text>
<text class="k" text-anchor="middle" x="356" y="351.2">7.5</text>
<text class="l" x="290" y="362.9">speed (m/s)</text>
<text class="l" transform="translate(195.4 271.15) rotate(-90)">foot strike angle (rad)</text>
<clipPath id="c5"><rect x="401.6" y="204.4" width="132" height="134.7"/></clipPath>
<g class="r" clip-path="url(#c5)" shape-rendering="crispEdges">
<g fill="#45107a">
<rect x="400" y="204" width="12.75" height="1"/>
<rect x="400" y="205" width="13.25" height="1"/>
<rect x="400" y="206" width="13.5" height="1"/>
<rect x="400" y="207" width="14" height="1"/>
<rect x="400" y="208" width="14.25" height="1"/>
<rect x="400" y="209" width="14.75" height="1"/>
<rect x="400" y="210" width="15" height="1"/>
<rect x="400" y="211" width="15.25" height="1"/>
<rect x="400" y="212" width="15.75" height="1"/>
<rect x="400" y="213" width="16" height="1"/>
<rect x="400" y="214" width="16.5" height="1"/>
<rect x="400" y="215" width="16.75" height="1"/>
<rect x="400" y="216" width="17.25" height="1"/>
<rect x="400" y="217" width="17.5" height="1"/>
<rect x="400" y="218" width="18" height="1"/>
<rect x="400" y="219" width="18.25" height="1"/>
<rect x="400" y="220" width="18.5" height="1"/>
<rect x="400" y="221" width="19" height="1"/>
<rect x="400" y="222" width="19.25" height="1"/>
<rect x="400" y="223" width="19.75" height="1"/>
<rect x="400" y="224" width="20" height="1"/>
<rect x="400" y="225" width="20.5" height="1"/>
<rect x="400" y="226" width="20.75" height="1"/>
<rect x="400" y="227" width="21.25" height="1"/>
<rect x="400" y="228" width="21.5" height="1"/>
<rect x="400" y="229" width="21.75" height="1"/>
<rect x="400" y="230" width="22.25" height="1"/>
<rect x="400" y="231" width="22.5" height="1"/>
<rect x="400" y="232" width="23" height="1"/>
<rect x="400" y="233" width="23.25" height="1"/>
<rect x="400" y="234" width="23.75" height="1"/>
<rect x="400" y="235" width="24" height="1"/>
<rect x="400" y="236" width="24.5" height="1"/>
<rect x="400" y="237" width="24.75" height="1"/>
<rect x="400" y="238" width="25" height="1"/>
<rect x="400" y="239" width="25.5" height="1"/>
<rect x="400" y="240" width="25.75" height="1"/>
<rect x="400" y="241" width="26.25" height="1"/>
<rect x="400" y="242" width="26.5" height="1"/>
<rect x="400" y="243" width="27" height="1"/>
<rect x="400" y="244" width="27.25" height="1"/>
<rect x="400" y="245" width="27.5" height="1"/>
<rect x="400" y="246" width="28" height="1"/>
<rect x="400" y="247" width="28.25" height="1"/>
<rect x="400" y="248" width="28.75" height="1"/>
<rect x="400" y="249" width="29" height="1"/>
<rect x="400" y="250" width="29.5" height="1"/>
<rect x="400" y="251" width="29.75" height="1"/>
<rect x="400" y="252" width="30" height="1"/>
<rect x="400" y="253" width="30.5" height="1"/>
<rect x="400" y="254" width="30.75" height="1"/>
<rect x="400" y="255" width="31.25" height="1"/>
<rect x="400" y="256" width="31.5" height="1"/>
<rect x="400" y="257" width="32" height="1"/>
<rect x="400" y="258" width="32.25" height="1"/>
<rect x="400" y="259" width="32.5" height="1"/>
<rect x="400" y="260" width="33" height="1"/>
<rect x="400" y="261" width="33.25" height="1"/>
<rect x="400" y="262" width="33.75" height="1"/>
<rect x="400" y="263" width="34" height="1"/>
<rect x="400" y="264" width="34.25" height="1"/>
<rect x="400" y="265" width="34.75" height="1"/>
<rect x="400" y="266" width="35" height="1"/>
<rect x="400" y="267" width="35.5" height="1"/>
<rect x="400" y="268" width="35.75" height="1"/>
<rect x="400" y="269" width="36.25" height="1"/>
<rect x="400" y="270" width="36.5" height="1"/>
<rect x="400" y="271" width="36.75" height="1"/>
<rect x="400" y="272" width="37.25" height="1"/>
<rect x="400" y="273" width="37.5" height="1"/>
<rect x="400" y="274" width="38" height="1"/>
<rect x="400" y="275" width="38.25" height="1"/>
<rect x="400" y="276" width="38.5" height="1"/>
<rect x="400" y="277" width="39" height="1"/>
<rect x="400" y="278" width="39.25" height="1"/>
<rect x="400" y="279" width="39.75" height="1"/>
<rect x="400" y="280" width="40" height="1"/>
<rect x="400" y="281" width="40.5" height="1"/>
<rect x="400" y="282" width="40.75" height="1"/>
<rect x="400" y="283" width="41" height="1"/>
<rect x="400" y="284" width="41.5" height="1"/>
<rect x="400" y="285" width="41.75" height="1"/>
<rect x="400" y="286" width="42.25" height="1"/>
<rect x="400" y="287" width="42.5" height="1"/>
<rect x="400" y="288" width="42.75" height="1"/>
<rect x="400" y="289" width="43.25" height="1"/>
<rect x="400" y="290" width="43.5" height="1"/>
<rect x="400" y="291" width="44" height="1"/>
<rect x="400" y="292" width="44.25" height="1"/>
<rect x="400" y="293" width="44.5" height="1"/>
<rect x="400" y="294" width="45" height="1"/>
<rect x="400" y="295" width="45.25" height="1"/>
<rect x="400" y="296" width="45.75" height="1"/>
<rect x="400" y="297" width="46" height="1"/>
<rect x="400" y="298" width="46.25" height="1"/>
<rect x="400" y="299" width="46.75" height="1"/>
<rect x="400" y="300" width="47" height="1"/>
<rect x="400" y="301" width="47.5" height="1"/>
<rect x="400" y="302" width="47.75" height="1"/>
<rect x="400" y="303" width="48.25" height="1"/>
<rect x="400" y="304" width="48.5" height="1"/>
<rect x="400" y="305" width="48.75" height="1"/>
<rect x="400" y="306" width="49.25" height="1"/>
<rect x="400" y="307" width="49.5" height="1"/>
<rect x="400" y="308" width="50" height="1"/>
<rect x="400" y="309" width="50.25" height="1"/>
<rect x="400" y="310" width="50.5" height="1"/>
<rect x="400" y="311" width="51" height="1"/>
<rect x="400" y="312" width="51.25" height="1"/>
<rect x="400" y="313" width="51.75" height="1"/>
<rect x="400" y="314" width="52" height="1"/>
<rect x="400" y="315" width="52.25" height="1"/>
<rect x="400" y="316" width="52.75" height="1"/>
<rect x="400" y="317" width="53" height="1"/>
<rect x="400" y="318" width="53.5" height="1"/>
<rect x="400" y="319" width="53.75" height="1"/>
<rect x="400" y="320" width="54" height="1"/>
<rect x="400" y="321" width="54.5" height="1"/>
<rect x="400" y="322" width="54.75" height="1"/>
<rect x="400" y="323" width="55.25" height="1"/>
<rect x="400" y="324" width="55.5" height="1"/>
<rect x="400" y="325" width="55.75" height="1"/>
<rect x="400" y="326" width="56.25" height="1"/>
<rect x="400" y="327" width="56.5" height="1"/>
<rect x="400" y="328" width="57" height="1"/>
<rect x="400" y="329" width="57.25" height="1"/>
<rect x="400" y="330" width="57.5" height="1"/>
<rect x="400" y="331" width="58" height="1"/>
<rect x="400" y="332" width="58.25" height="1"/>
<rect x="400" y="333" width="58.75" height="1"/>
<rect x="400" y="334" width="59" height="1"/>
<rect x="400" y="335" width="59.25" height="1"/>
<rect x="400" y="336" width="59.75" height="1"/>
<rect x="400" y="337" width="60" height="1"/>
<rect x="400" y="338" width="60.5" height="1"/>
<rect x="400" y="339" width="60.75" height="1"/>
</g>
<g fill="url(#b3)">
<rect x="412.75" y="204" width="28.75" height="1"/>
<rect x="413.25" y="205" width="28.75" height="1"/>
<rect x="413.5" y="206" width="28.75" height="1"/>
<rect x="414" y="207" width="28.75" height="1"/>
<rect x="414.25" y="208" width="28.75" height="1"/>
<rect x="414.75" y="209" width="28.5" height="1"/>
<rect x="415" y="210" width="28.75" height="1"/>
<rect x="415.25" y="211" width="28.75" height="1"/>
<rect x="415.75" y="212" width="28.75" height="1"/>
<rect x="416" y="213" width="28.75" height="1"/>
<rect x="416.5" y="214" width="28.5" height="1"/>
<rect x="416.75" y="215" width="28.75" height="1"/>
<rect x="417.25" y="216" width="28.5" height="1"/>
<rect x="417.5" y="217" width="28.75" height="1"/>
<rect x="418" y="218" width="28.5" height="1"/>
<rect x="418.25" y="219" width="28.5" height="1"/>
<rect x="418.5" y="220" width="28.75" height="1"/>
<rect x="419" y="221" width="28.5" height="1"/>
<rect x="419.25" y="222" width="28.75" height="1"/>
<rect x="419.75" y="223" width="28.5" height="1"/>
<rect x="420" y="224" width="28.75" height="1"/>
<rect x="420.5" y="225" width="28.5" height="1"/>
<rect x="420.75" y="226" width="28.5" height="1"/>
<rect x="421.25" y="227" width="28.5" height="1"/>
<rect x="421.5" y="228" width="28.5" height="1"/>
<rect x="421.75" y="229" width="28.75" height="1"/>
<rect x="422.25" y="230" width="28.5" height="1"/>
<rect x="422.5" y="231" width="28.5" height="1"/>
<rect x="423" y="232" width="28.5" height="1"/>
<rect x="423.25" y="233" width="28.5" height="1"/>
<rect x="423.75" y="234" width="28.5" height="1"/>
<rect x="424" y="235" width="28.5" height="1"/>
<rect x="424.5" y="236" width="28.25" height="1"/>
<rect x="424.75" y="237" width="28.5" height="1"/>
<rect x="425" y="238" width="28.5" height="1"/>
<rect x="425.5" y="239" width="28.5" height="1"/>
<rect x="425.75" y="240" width="28.5" height="1"/>
<rect x="426.25" y="241" width="28.25" height="1"/>
<rect x="426.5" y="242" width="28.5" height="1"/>
<rect x="427" y="243" width="28.25" height="1"/>
<rect x="427.25" y="244" width="28.5" height="1"/>
<rect x="427.5" y="245" width="28.5" height="1"/>
<rect x="428" y="246" width="28.25" height="1"/>
<rect x="428.25" y="247" width="28.5" height="1"/>
<rect x="428.75" y="248" width="28.25" height="1"/>
<rect x="429" y="249" width="28.5" height="1"/>
<rect x="429.5" y="250" width="28.25" height="1"/>
<rect x="429.75" y="251" width="28.25" height="1"/>
<rect x="430" y="252" width="28.5" height="1"/>
<rect x="430.5" y="253" width="28.25" height="1"/>
<rect x="430.75" y="254" width="28.25" height="1"/>
<rect x="431.25" y="255" width="28.25" height="1"/>
<rect x="431.5" y="256" width="28.25" height="1"/>
<rect x="432" y="257" width="28.25" height="1"/>
<rect x="432.25" y="258" width="28.25" height="1"/>
<rect x="432.5" y="259" width="28.25" height="1"/>
<rect x="433" y="260" width="28.25" height="1"/>
<rect x="433.25" y="261" width="28.25" height="1"/>
<rect x="433.75" y="262" width="28.25" height="1"/>
<rect x="434" y="263" width="28.25" height="1"/>
<rect x="434.25" y="264" width="28.25" height="1"/>
<rect x="434.75" y="265" width="28.25" height="1"/>
<rect x="435" y="266" width="28.25" height="1"/>
<rect x="435.5" y="267" width="28.25" height="1"/>
<rect x="435.75" y="268" width="28.25" height="1"/>
<rect x="436.25" y="269" width="28" height="1"/>
<rect x="436.5" y="270" width="28.25" height="1"/>
<rect x="436.75" y="271" width="28.25" height="1"/>
<rect x="437.25" y="272" width="28.25" height="1"/>
<rect x="437.5" y="273" width="28.25" height="1"/>
<rect x="438" y="274" width="28" height="1"/>
<rect x="438.25" y="275" width="28.25" height="1"/>
<rect x="438.5" y="276" width="28.25" height="1"/>
<rect x="439" y="277" width="28" height="1"/>
<rect x="439.25" y="278" width="28.25" height="1"/>
<rect x="439.75" y="279" width="28" height="1"/>
<rect x="440" y="280" width="28.25" height="1"/>
<rect x="440.5" y="281" width="28" height="1"/>
<rect x="440.75" y="282" width="28" height="1"/>
<rect x="441" y="283" width="28.25" height="1"/>
<rect x="441.5" y="284" width="28" height="1"/>
<rect x="441.75" y="285" width="28.25" height="1"/>
<rect x="442.25" y="286" width="28" height="1"/>
<rect x="442.5" y="287" width="28" height="1"/>
<rect x="442.75" y="288" width="28.25" height="1"/>
<rect x="443.25" y="289" width="28" height="1"/>
<rect x="443.5" y="290" width="28" height="1"/>
<rect x="444" y="291" width="28" height="1"/>
<rect x="444.25" y="292" width="28" height="1"/>
<rect x="444.5" y="293" width="28.25" height="1"/>
<rect x="445" y="294" width="28" height="1"/>
<rect x="445.25" y="295" width="28" height="1"/>
<rect x="445.75" y="296" width="28" height="1"/>
<rect x="446" y="297" width="28" height="1"/>
<rect x="446.25" y="298" width="28.25" height="1"/>
<rect x="446.75" y="299" width="28" height="1"/>
<rect x="447" y="300" width="28" height="1"/>
<rect x="447.5" y="301" width="28" height="1"/>
<rect x="447.75" y="302" width="28" height="1"/>
<rect x="448.25" y="303" width="28" height="1"/>
<rect x="448.5" y="304" width="28" height="1"/>
<rect x="448.75" y="305" width="28" height="1"/>
<rect x="449.25" y="306" width="28" height="1"/>
<rect x="449.5" y="307" width="28" height="1"/>
<rect x="450" y="308" width="27.75" height="1"/>
<rect x="450.25" y="309" width="28" height="1"/>
<rect x="450.5" y="310" width="28" height="1"/>
<rect x="451" y="311" width="28" height="1"/>
<rect x="451.25" y="312" width="28" height="1"/>
<rect x="451.75" y="313" width="27.75" height="1"/>
<rect x="452" y="314" width="28" height="1"/>
<rect x="452.25" y="315" width="28" height="1"/>
<rect x="452.75" y="316" width="28" height="1"/>
<rect x="453" y="317" width="28" height="1"/>
<rect x="453.5" y="318" width="27.75" height="1"/>
<rect x="453.75" y="319" width="28" height="1"/>
<rect x="454" y="320" width="28" height="1"/>
<rect x="454.5" y="321" width="27.75" height="1"/>
<rect x="454.75" y="322" width="28" height="1"/>
<rect x="455.25" y="323" width="27.75" height="1"/>
<rect x="455.5" y="324" width="28" height="1"/>
<rect x="455.75" y="325" width="28" height="1"/>
<rect x="456.25" y="326" width="27.75" height="1"/>
<rect x="456.5" y="327" width="28" height="1"/>
<rect x="457" y="328" width="27.75" height="1"/>
<rect x="457.25" y="329" width="28" height="1"/>
<rect x="457.5" y="330" width="28" height="1"/>
<rect x="458" y="331" width="27.75" height="1"/>
<rect x="458.25" y="332" width="28" height="1"/>
<rect x="458.75" y="333" width="27.75" height="1"/>
<rect x="459" y="334" width="28" height="1"/>
<rect x="459.25" y="335" width="28" height="1"/>
<rect x="459.75" y="336" width="27.75" height="1"/>
<rect x="460" y="337" width="28" height="1"/>
<rect x="460.5" y="338" width="27.75" height="1"/>
<rect x="460.75" y="339" width="27.75" height="1"/>
</g>
<g fill="url(#b0)">
<rect x="441.5" y="204" width="28.75" height="1"/>
<rect x="442" y="205" width="28.75" height="1"/>
<rect x="442.25" y="206" width="28.75" height="1"/>
<rect x="442.75" y="207" width="28.5" height="1"/>
<rect x="443" y="208" width="28.75" height="1"/>
<rect x="443.25" y="209" width="28.75" height="1"/>
<rect x="443.75" y="210" width="28.75" height="1"/>
<rect x="444" y="211" width="28.75" height="1"/>
<rect x="444.5" y="212" width="28.5" height="1"/>
<rect x="444.75" y="213" width="28.75" height="1"/>
<rect x="445" y="214" width="28.75" height="1"/>
<rect x="445.5" y="215" width="28.5" height="1"/>
<rect x="445.75" y="216" width="28.75" height="1"/>
<rect x="446.25" y="217" width="28.5" height="1"/>
<rect x="446.5" y="218" width="28.75" height="1"/>
<rect x="446.75" y="219" width="28.75" height="1"/>
<rect x="447.25" y="220" width="28.5" height="1"/>
<rect x="447.5" y="221" width="28.75" height="1"/>
<rect x="448" y="222" width="28.5" height="1"/>
<rect x="448.25" y="223" width="28.5" height="1"/>
<rect x="448.75" y="224" width="28.5" height="1"/>
<rect x="449" y="225" width="28.5" height="1"/>
<rect x="449.25" y="226" width="28.75" height="1"/>
<rect x="449.75" y="227" width="28.5" height="1"/>
<rect x="450" y="228" width="28.5" height="1"/>
<rect x="450.5" y="229" width="28.5" height="1"/>
<rect x="450.75" y="230" width="28.5" height="1"/>
<rect x="451" y="231" width="28.5" height="1"/>
<rect x="451.5" y="232" width="28.5" height="1"/>
<rect x="451.75" y="233" width="28.5" height="1"/>
<rect x="452.25" y="234" width="28.25" height="1"/>
<rect x="452.5" y="235" width="28.5" height="1"/>
<rect x="452.75" y="236" width="28.5" height="1"/>
<rect x="453.25" y="237" width="28.5" height="1"/>
<rect x="453.5" y="238" width="28.5" height="1"/>
<rect x="454" y="239" width="28.25" height="1"/>
<rect x="454.25" y="240" width="28.5" height="1"/>
<rect x="454.5" y="241" width="28.5" height="1"/>
<rect x="455" y="242" width="28.25" height="1"/>
<rect x="455.25" y="243" width="28.5" height="1"/>
<rect x="455.75" y="244" width="28.25" height="1"/>
<rect x="456" y="245" width="28.25" height="1"/>
<rect x="456.25" y="246" width="28.5" height="1"/>
<rect x="456.75" y="247" width="28.25" height="1"/>
<rect x="457" y="248" width="28.5" height="1"/>
<rect x="457.5" y="249" width="28.25" height="1"/>
<rect x="457.75" y="250" width="28.25" height="1"/>
<rect x="458" y="251" width="28.5" height="1"/>
<rect x="458.5" y="252" width="28.25" height="1"/>
<rect x="458.75" y="253" width="28.25" height="1"/>
<rect x="459" y="254" width="28.5" height="1"/>
<rect x="459.5" y="255" width="28.25" height="1"/>
<rect x="459.75" y="256" width="28.25" height="1"/>
<rect x="460.25" y="257" width="28.25" height="1"/>
<rect x="460.5" y="258" width="28.25" height="1"/>
<rect x="460.75" y="259" width="28.5" height="1"/>
<rect x="461.25" y="260" width="28.25" height="1"/>
<rect x="461.5" y="261" width="28.25" height="1"/>
<rect x="462" y="262" width="28.25" height="1"/>
<rect x="462.25" y="263" width="28.25" height="1"/>
<rect x="462.5" y="264" width="28.25" height="1"/>
<rect x="463" y="265" width="28.25" height="1"/>
<rect x="463.25" y="266" width="28.25" height="1"/>
<rect x="463.75" y="267" width="28" height="1"/>
<rect x="464" y="268" width="28.25" height="1"/>
<rect x="464.25" y="269" width="28.25" height="1"/>
<rect x="464.75" y="270" width="28.25" height="1"/>
<rect x="465" y="271" width="28.25" height="1"/>
<rect x="465.5" y="272" width="28" height="1"/>
<rect x="465.75" y="273" width="28.25" height="1"/>
<rect x="466" y="274" width="28.25" height="1"/>
<rect x="466.5" y="275" width="28" height="1"/>
<rect x="466.75" y="276" width="28.25" height="1"/>
<rect x="467" y="277" width="28.25" height="1"/>
<rect x="467.5" y="278" width="28" height="1"/>
<rect x="467.75" y="279" width="28.25" height="1"/>
<rect x="468.25" y="280" width="28" height="1"/>
<rect x="468.5" y="281" width="28" height="1"/>
<rect x="468.75" y="282" width="28.25" height="1"/>
<rect x="469.25" y="283" width="28" height="1"/>
<rect x="469.5" y="284" width="28.25" height="1"/>
<rect x="470" y="285" width="28" height="1"/>
<rect x="470.25" y="286" width="28" height="1"/>
<rect x="470.5" y="287" width="28.25" height="1"/>
<rect x="471" y="288" width="28" height="1"/>
<rect x="471.25" y="289" width="28" height="1"/>
<rect x="471.5" y="290" width="28.25" height="1"/>
<rect x="472" y="291" width="28" height="1"/>
<rect x="472.25" y="292" width="28" height="1"/>
<rect x="472.75" y="293" width="28" height="1"/>
<rect x="473" y="294" width="28" height="1"/>
<rect x="473.25" y="295" width="28.25" height="1"/>
<rect x="473.75" y="296" width="28" height="1"/>
<rect x="474" y="297" width="28" height="1"/>
<rect x="474.5" y="298" width="28" height="1"/>
<rect x="474.75" y="299" width="28" height="1"/>
<rect x="475" y="300" width="28" height="1"/>
<rect x="475.5" y="301" width="28" height="1"/>
<rect x="475.75" y="302" width="28" height="1"/>
<rect x="476.25" y="303" width="27.75" height="1"/>
<rect x="476.5" y="304" width="28" height="1"/>
<rect x="476.75" y="305" width="28" height="1"/>
<rect x="477.25" y="306" width="28" height="1"/>
<rect x="477.5" y="307" width="28" height="1"/>
<rect x="477.75" y="308" width="28" height="1"/>
<rect x="478.25" y="309" width="28" height="1"/>
<rect x="478.5" y="310" width="28" height="1"/>
<rect x="479" y="311" width="27.75" height="1"/>
<rect x="479.25" y="312" width="28" height="1"/>
<rect x="479.5" y="313" width="28" height="1"/>
<rect x="480" y="314" width="28" height="1"/>
<rect x="480.25" y="315" width="28" height="1"/>
<rect x="480.75" y="316" width="27.75" height="1"/>
<rect x="481" y="317" width="28" height="1"/>
<rect x="481.25" y="318" width="28" height="1"/>
<rect x="481.75" y="319" width="27.75" height="1"/>
<rect x="482" y="320" width="28" height="1"/>
<rect x="482.25" y="321" width="28" height="1"/>
<rect x="482.75" y="322" width="27.75" height="1"/>
<rect x="483" y="323" width="28" height="1"/>
<rect x="483.5" y="324" width="27.75" height="1"/>
<rect x="483.75" y="325" width="28" height="1"/>
<rect x="484" y="326" width="28" height="1"/>
<rect x="484.5" y="327" width="27.75" height="1"/>
<rect x="484.75" y="328" width="28" height="1"/>
<rect x="485.25" y="329" width="27.75" height="1"/>
<rect x="485.5" y="330" width="27.75" height="1"/>
<rect x="485.75" y="331" width="28" height="1"/>
<rect x="486.25" y="332" width="27.75" height="1"/>
<rect x="486.5" y="333" width="28" height="1"/>
<rect x="487" y="334" width="27.75" height="1"/>
<rect x="487.25" y="335" width="27.75" height="1"/>
<rect x="487.5" y="336" width="28" height="1"/>
<rect x="488" y="337" width="27.75" height="1"/>
<rect x="488.25" y="338" width="28" height="1"/>
<rect x="488.5" y="339" width="27.75" height="1"/>
</g>
<g fill="url(#b1)">
<rect x="470.25" y="204" width="28.75" height="1"/>
<rect x="470.75" y="205" width="28.75" height="1"/>
<rect x="471" y="206" width="28.75" height="1"/>
<rect x="471.25" y="207" width="28.75" height="1"/>
<rect x="471.75" y="208" width="28.75" height="1"/>
<rect x="472" y="209" width="28.75" height="1"/>
<rect x="472.5" y="210" width="28.5" height="1"/>
<rect x="472.75" y="211" width="28.75" height="1"/>
<rect x="473" y="212" width="28.75" height="1"/>
<rect x="473.5" y="213" width="28.5" height="1"/>
<rect x="473.75" y="214" width="28.75" height="1"/>
<rect x="474" y="215" width="28.75" height="1"/>
<rect x="474.5" y="216" width="28.5" height="1"/>
<rect x="474.75" y="217" width="28.75" height="1"/>
<rect x="475.25" y="218" width="28.5" height="1"/>
<rect x="475.5" y="219" width="28.5" height="1"/>
<rect x="475.75" y="220" width="28.75" height="1"/>
<rect x="476.25" y="221" width="28.5" height="1"/>
<rect x="476.5" y="222" width="28.5" height="1"/>
<rect x="476.75" y="223" width="28.75" height="1"/>
<rect x="477.25" y="224" width="28.5" height="1"/>
<rect x="477.5" y="225" width="28.5" height="1"/>
<rect x="478" y="226" width="28.5" height="1"/>
<rect x="478.25" y="227" width="28.5" height="1"/>
<rect x="478.5" y="228" width="28.5" height="1"/>
<rect x="479" y="229" width="28.5" height="1"/>
<rect x="479.25" y="230" width="28.5" height="1"/>
<rect x="479.5" y="231" width="28.5" height="1"/>
<rect x="480" y="232" width="28.5" height="1"/>
<rect x="480.25" y="233" width="28.5" height="1"/>
<rect x="480.5" y="234" width="28.5" height="1"/>
<rect x="481" y="235" width="28.5" height="1"/>
<rect x="481.25" y="236" width="28.5" height="1"/>
<rect x="481.75" y="237" width="28.25" height="1"/>
<rect x="482" y="238" width="28.5" height="1"/>
<rect x="482.25" y="239" width="28.5" height="1"/>
<rect x="482.75" y="240" width="28.25" height="1"/>
<rect x="483" y="241" width="28.5" height="1"/>
<rect x="483.25" y="242" width="28.5" height="1"/>
<rect x="483.75" y="243" width="28.25" height="1"/>
<rect x="484" y="244" width="28.5" height="1"/>
<rect x="484.25" y="245" width="28.5" height="1"/>
<rect x="484.75" y="246" width="28.25" height="1"/>
<rect x="485" y="247" width="28.5" height="1"/>
<rect x="485.5" y="248" width="28.25" height="1"/>
<rect x="485.75" y="249" width="28.25" height="1"/>
<rect x="486" y="250" width="28.5" height="1"/>
<rect x="486.5" y="251" width="28.25" height="1"/>
<rect x="486.75" y="252" width="28.25" height="1"/>
<rect x="487" y="253" width="28.5" height="1"/>
<rect x="487.5" y="254" width="28.25" height="1"/>
<rect x="487.75" y="255" width="28.25" height="1"/>
<rect x="488" y="256" width="28.5" height="1"/>
<rect x="488.5" y="257" width="28.25" height="1"/>
<rect x="488.75" y="258" width="28.25" height="1"/>
<rect x="489.25" y="259" width="28.25" height="1"/>
<rect x="489.5" y="260" width="28.25" height="1"/>
<rect x="489.75" y="261" width="28.25" height="1"/>
<rect x="490.25" y="262" width="28.25" height="1"/>
<rect x="490.5" y="263" width="28.25" height="1"/>
<rect x="490.75" y="264" width="28.25" height="1"/>
<rect x="491.25" y="265" width="28.25" height="1"/>
<rect x="491.5" y="266" width="28.25" height="1"/>
<rect x="491.75" y="267" width="28.25" height="1"/>
<rect x="492.25" y="268" width="28.25" height="1"/>
<rect x="492.5" y="269" width="28.25" height="1"/>
<rect x="493" y="270" width="28" height="1"/>
<rect x="493.25" y="271" width="28.25" height="1"/>
<rect x="493.5" y="272" width="28.25" height="1"/>
<rect x="494" y="273" width="28" height="1"/>
<rect x="494.25" y="274" width="28.25" height="1"/>
<rect x="494.5" y="275" width="28.25" height="1"/>
<rect x="495" y="276" width="28" height="1"/>
<rect x="495.25" y="277" width="28.25" height="1"/>
<rect x="495.5" y="278" width="28.25" height="1"/>
<rect x="496" y="279" width="28" height="1"/>
<rect x="496.25" y="280" width="28.25" height="1"/>
<rect x="496.5" y="281" width="28.25" height="1"/>
<rect x="497" y="282" width="28" height="1"/>
<rect x="497.25" y="283" width="28.25" height="1"/>
<rect x="497.75" y="284" width="28" height="1"/>
<rect x="498" y="285" width="28" height="1"/>
<rect x="498.25" y="286" width="28.25" height="1"/>
<rect x="498.75" y="287" width="28" height="1"/>
<rect x="499" y="288" width="28" height="1"/>
<rect x="499.25" y="289" width="28.25" height="1"/>
<rect x="499.75" y="290" width="28" height="1"/>
<rect x="500" y="291" width="28" height="1"/>
<rect x="500.25" y="292" width="28.25" height="1"/>
<rect x="500.75" y="293" width="28" height="1"/>
<rect x="501" y="294" width="28" height="1"/>
<rect x="501.5" y="295" width="28" height="1"/>
<rect x="501.75" y="296" width="28" height="1"/>
<rect x="502" y="297" width="28" height="1"/>
<rect x="502.5" y="298" width="28" height="1"/>
<rect x="502.75" y="299" width="28" height="1"/>
<rect x="503" y="300" width="28" height="1"/>
<rect x="503.5" y="301" width="28" height="1"/>
<rect x="503.75" y="302" width="28" height="1"/>
<rect x="504" y="303" width="28" height="1"/>
<rect x="504.5" y="304" width="28" height="1"/>
<rect x="504.75" y="305" width="28" height="1"/>
<rect x="505.25" y="306" width="27.75" height="1"/>
<rect x="505.5" y="307" width="28" height="1"/>
<rect x="505.75" y="308" width="28" height="1"/>
<rect x="506.25" y="309" width="28" height="1"/>
<rect x="506.5" y="310" width="28" height="1"/>
<rect x="506.75" y="311" width="28" height="1"/>
<rect x="507.25" y="312" width="28" height="1"/>
<rect x="507.5" y="313" width="28" height="1"/>
<rect x="508" y="314" width="27.75" height="1"/>
<rect x="508.25" y="315" width="28" height="1"/>
<rect x="508.5" y="316" width="28" height="1"/>
<rect x="509" y="317" width="27.75" height="1"/>
<rect x="509.25" y="318" width="28" height="1"/>
<rect x="509.5" y="319" width="28" height="1"/>
<rect x="510" y="320" width="27.75" height="1"/>
<rect x="510.25" y="321" width="28" height="1"/>
<rect x="510.5" y="322" width="28" height="1"/>
<rect x="511" y="323" width="27.75" height="1"/>
<rect x="511.25" y="324" width="28" height="1"/>
<rect x="511.75" y="325" width="27.75" height="1"/>
<rect x="512" y="326" width="28" height="1"/>
<rect x="512.25" y="327" width="28" height="1"/>
<rect x="512.75" y="328" width="27.75" height="1"/>
<rect x="513" y="329" width="28" height="1"/>
<rect x="513.25" y="330" width="28" height="1"/>
<rect x="513.75" y="331" width="27.75" height="1"/>
<rect x="514" y="332" width="28" height="1"/>
<rect x="514.5" y="333" width="27.75" height="1"/>
<rect x="514.75" y="334" width="27.75" height="1"/>
<rect x="515" y="335" width="28" height="1"/>
<rect x="515.5" y="336" width="27.75" height="1"/>
<rect x="515.75" y="337" width="28" height="1"/>
<rect x="516.25" y="338" width="27.75" height="1"/>
<rect x="516.25" y="339" width="28" height="1"/>
</g>
<g fill="url(#b2)">
<rect x="499" y="204" width="29" height="1"/>
<rect x="499.5" y="205" width="28.75" height="1"/>
<rect x="499.75" y="206" width="28.75" height="1"/>
<rect x="500" y="207" width="28.75" height="1"/>
<rect x="500.5" y="208" width="28.75" height="1"/>
<rect x="500.75" y="209" width="28.75" height="1"/>
<rect x="501" y="210" width="28.75" height="1"/>
<rect x="501.5" y="211" width="28.75" height="1"/>
<rect x="501.75" y="212" width="28.75" height="1"/>
<rect x="502" y="213" width="28.75" height="1"/>
<rect x="502.5" y="214" width="28.5" height="1"/>
<rect x="502.75" y="215" width="28.75" height="1"/>
<rect x="503" y="216" width="28.75" height="1"/>
<rect x="503.5" y="217" width="28.5" height="1"/>
<rect x="503.75" y="218" width="28.75" height="1"/>
<rect x="504" y="219" width="28.75" height="1"/>
<rect x="504.5" y="220" width="28.5" height="1"/>
<rect x="504.75" y="221" width="28.5" height="1"/>
<rect x="505" y="222" width="28.75" height="1"/>
<rect x="505.5" y="223" width="28.5" height="1"/>
<rect x="505.75" y="224" width="28.5" height="1"/>
<rect x="506" y="225" width="28.75" height="1"/>
<rect x="506.5" y="226" width="28.5" height="1"/>
<rect x="506.75" y="227" width="28.5" height="1"/>
<rect x="507" y="228" width="28.5" height="1"/>
<rect x="507.5" y="229" width="28.5" height="1"/>
<rect x="507.75" y="230" width="28.5" height="1"/>
<rect x="508" y="231" width="28.5" height="1"/>
<rect x="508.5" y="232" width="28.5" height="1"/>
<rect x="508.75" y="233" width="28.5" height="1"/>
<rect x="509" y="234" width="28.5" height="1"/>
<rect x="509.5" y="235" width="28.5" height="1"/>
<rect x="509.75" y="236" width="28.5" height="1"/>
<rect x="510" y="237" width="28.5" height="1"/>
<rect x="510.5" y="238" width="28.25" height="1"/>
<rect x="510.75" y="239" width="28.5" height="1"/>
<rect x="511" y="240" width="28.5" height="1"/>
<rect x="511.5" y="241" width="28.25" height="1"/>
<rect x="511.75" y="242" width="28.5" height="1"/>
<rect x="512" y="243" width="28.5" height="1"/>
<rect x="512.5" y="244" width="28.25" height="1"/>
<rect x="512.75" y="245" width="28.25" height="1"/>
<rect x="513" y="246" width="28.5" height="1"/>
<rect x="513.5" y="247" width="28.25" height="1"/>
<rect x="513.75" y="248" width="28.25" height="1"/>
<rect x="514" y="249" width="28.5" height="1"/>
<rect x="514.5" y="250" width="28.25" height="1"/>
<rect x="514.75" y="251" width="28.25" height="1"/>
<rect x="515" y="252" width="28.5" height="1"/>
<rect x="515.5" y="253" width="28.25" height="1"/>
<rect x="515.75" y="254" width="28.25" height="1"/>
<rect x="516" y="255" width="28.25" height="1"/>
<rect x="516.5" y="256" width="28.25" height="1"/>
<rect x="516.75" y="257" width="28.25" height="1"/>
<rect x="517" y="258" width="28.25" height="1"/>
<rect x="517.5" y="259" width="28.25" height="1"/>
<rect x="517.75" y="260" width="28.25" height="1"/>
<rect x="518" y="261" width="28.25" height="1"/>
<rect x="518.5" y="262" width="28.25" height="1"/>
<rect x="518.75" y="263" width="28.25" height="1"/>
<rect x="519" y="264" width="28.25" height="1"/>
<rect x="519.5" y="265" width="28" height="1"/>
<rect x="519.75" y="266" width="28.25" height="1"/>
<rect x="520" y="267" width="28.25" height="1"/>
<rect x="520.5" y="268" width="28" height="1"/>
<rect x="520.75" y="269" width="28.25" height="1"/>
<rect x="521" y="270" width="28.25" height="1"/>
<rect x="521.5" y="271" width="28" height="1"/>
<rect x="521.75" y="272" width="28.25" height="1"/>
<rect x="522" y="273" width="28.25" height="1"/>
<rect x="522.5" y="274" width="28" height="1"/>
<rect x="522.75" y="275" width="28.25" height="1"/>
<rect x="523" y="276" width="28.25" height="1"/>
<rect x="523.5" y="277" width="28" height="1"/>
<rect x="523.75" y="278" width="28" height="1"/>
<rect x="524" y="279" width="28.25" height="1"/>
<rect x="524.5" y="280" width="28" height="1"/>
<rect x="524.75" y="281" width="28" height="1"/>
<rect x="525" y="282" width="28.25" height="1"/>
<rect x="525.5" y="283" width="28" height="1"/>
<rect x="525.75" y="284" width="28" height="1"/>
<rect x="526" y="285" width="28.25" height="1"/>
<rect x="526.5" y="286" width="28" height="1"/>
<rect x="526.75" y="287" width="28" height="1"/>
<rect x="527" y="288" width="28.25" height="1"/>
<rect x="527.5" y="289" width="28" height="1"/>
<rect x="527.75" y="290" width="28" height="1"/>
<rect x="528" y="291" width="28.25" height="1"/>
<rect x="528.5" y="292" width="28" height="1"/>
<rect x="528.75" y="293" width="28" height="1"/>
<rect x="529" y="294" width="28.25" height="1"/>
<rect x="529.5" y="295" width="28" height="1"/>
<rect x="529.75" y="296" width="28" height="1"/>
<rect x="530" y="297" width="28" height="1"/>
<rect x="530.5" y="298" width="28" height="1"/>
<rect x="530.75" y="299" width="28" height="1"/>
<rect x="531" y="300" width="28" height="1"/>
<rect x="531.5" y="301" width="28" height="1"/>
<rect x="531.75" y="302" width="28" height="1"/>
<rect x="532" y="303" width="28" height="1"/>
<rect x="532.5" y="304" width="28" height="1"/>
<rect x="532.75" y="305" width="28" height="1"/>
<rect x="533" y="306" width="28" height="1"/>
<rect x="533.5" y="307" width="28" height="1"/>
</g>
<g fill="#073a5e">
<rect x="528" y="204" width="7" height="1"/>
<rect x="528.25" y="205" width="6.75" height="1"/>
<rect x="528.5" y="206" width="6.5" height="1"/>
<rect x="528.75" y="207" width="6.25" height="1"/>
<rect x="529.25" y="208" width="5.75" height="1"/>
<rect x="529.5" y="209" width="5.5" height="1"/>
<rect x="529.75" y="210" width="5.25" height="1"/>
<rect x="530.25" y="211" width="4.75" height="1"/>
<rect x="530.5" y="212" width="4.5" height="1"/>
<rect x="530.75" y="213" width="4.25" height="1"/>
<rect x="531" y="214" width="4" height="1"/>
<rect x="531.5" y="215" width="3.5" height="1"/>
<rect x="531.75" y="216" width="3.25" height="1"/>
<rect x="532" y="217" width="3" height="1"/>
<rect x="532.5" y="218" width="2.5" height="1"/>
<rect x="532.75" y="219" width="2.25" height="1"/>
<rect x="533" y="220" width="2" height="1"/>
<rect x="533.25" y="221" width="1.75" height="1"/>
</g>
</g>
<path class="d" d="M401.6 287.6H533.6 M401.6 309.9H533.6"/>
<text class="w" x="404.8" y="281.1">RFS</text>
<text class="w" x="404.8" y="302.8">MFS</text>
<text class="w" x="405.8" y="324.3">FFS</text>
<text class="t" x="467.6" y="202.1">Veras sacrum res</text>
<text class="k" text-anchor="end" x="398.3" y="208.1">0.75</text>
<text class="k" text-anchor="end" x="398.3" y="275.45">0.25</text>
<text class="k" text-anchor="end" x="398.3" y="342.8">-0.25</text>
<text class="k" text-anchor="middle" x="401.6" y="351.2">2.5</text>
<text class="k" text-anchor="middle" x="467.6" y="351.2">5</text>
<text class="k" text-anchor="middle" x="533.6" y="351.2">7.5</text>
<text class="l" x="467.6" y="362.9">speed (m/s)</text>
<text class="l" transform="translate(373 271.15) rotate(-90)">foot strike angle (rad)</text>
<clipPath id="c6"><rect x="46.4" y="392.3" width="132" height="134.7"/></clipPath>
<g class="r" clip-path="url(#c6)" shape-rendering="crispEdges">
<g fill="#45107a">
<rect x="45" y="392" width="17.5" height="1"/>
<rect x="45" y="393" width="18" height="1"/>
<rect x="45" y="394" width="18.25" height="1"/>
<rect x="45" y="395" width="18.75" height="1"/>
<rect x="45" y="396" width="19.25" height="1"/>
<rect x="45" y="397" width="19.5" height="1"/>
<rect x="45" y="398" width="20" height="1"/>
<rect x="45" y="399" width="20.25" height="1"/>
<rect x="45" y="400" width="20.75" height="1"/>
<rect x="45" y="401" width="21.25" height="1"/>
<rect x="45" y="402" width="21.5" height="1"/>
<rect x="45" y="403" width="22" height="1"/>
<rect x="45" y="404" width="22.25" height="1"/>
<rect x="45" y="405" width="22.75" height="1"/>
<rect x="45" y="406" width="23" height="1"/>
<rect x="45" y="407" width="23.5" height="1"/>
<rect x="45" y="408" width="24" height="1"/>
<rect x="45" y="409" width="24.25" height="1"/>
<rect x="45" y="410" width="24.75" height="1"/>
<rect x="45" y="411" width="25" height="1"/>
<rect x="45" y="412" width="25.5" height="1"/>
<rect x="45" y="413" width="25.75" height="1"/>
<rect x="45" y="414" width="26.25" height="1"/>
<rect x="45" y="415" width="26.75" height="1"/>
<rect x="45" y="416" width="27" height="1"/>
<rect x="45" y="417" width="27.5" height="1"/>
<rect x="45" y="418" width="27.75" height="1"/>
<rect x="45" y="419" width="28.25" height="1"/>
<rect x="45" y="420" width="28.5" height="1"/>
<rect x="45" y="421" width="29" height="1"/>
<rect x="45" y="422" width="29.5" height="1"/>
<rect x="45" y="423" width="29.75" height="1"/>
<rect x="45" y="424" width="30.25" height="1"/>
<rect x="45" y="425" width="30.5" height="1"/>
<rect x="45" y="426" width="31" height="1"/>
<rect x="45" y="427" width="31.25" height="1"/>
<rect x="45" y="428" width="31.75" height="1"/>
<rect x="45" y="429" width="32" height="1"/>
<rect x="45" y="430" width="32.5" height="1"/>
<rect x="45" y="431" width="33" height="1"/>
<rect x="45" y="432" width="33.25" height="1"/>
<rect x="45" y="433" width="33.75" height="1"/>
<rect x="45" y="434" width="34" height="1"/>
<rect x="45" y="435" width="34.5" height="1"/>
<rect x="45" y="436" width="34.75" height="1"/>
<rect x="45" y="437" width="35.25" height="1"/>
<rect x="45" y="438" width="35.5" height="1"/>
<rect x="45" y="439" width="36" height="1"/>
<rect x="45" y="440" width="36.5" height="1"/>
<rect x="45" y="441" width="36.75" height="1"/>
<rect x="45" y="442" width="37.25" height="1"/>
<rect x="45" y="443" width="37.5" height="1"/>
<rect x="45" y="444" width="38" height="1"/>
<rect x="45" y="445" width="38.25" height="1"/>
<rect x="45" y="446" width="38.75" height="1"/>
<rect x="45" y="447" width="39" height="1"/>
<rect x="45" y="448" width="39.5" height="1"/>
<rect x="45" y="449" width="40" height="1"/>
<rect x="45" y="450" width="40.25" height="1"/>
<rect x="45" y="451" width="40.75" height="1"/>
<rect x="45" y="452" width="41" height="1"/>
<rect x="45" y="453" width="41.5" height="1"/>
<rect x="45" y="454" width="41.75" height="1"/>
<rect x="45" y="455" width="42.25" height="1"/>
<rect x="45" y="456" width="42.5" height="1"/>
<rect x="45" y="457" width="43" height="1"/>
<rect x="45" y="458" width="43.25" height="1"/>
<rect x="45" y="459" width="43.75" height="1"/>
<rect x="45" y="460" width="44.25" height="1"/>
<rect x="45" y="461" width="44.5" height="1"/>
<rect x="45" y="462" width="45" height="1"/>
<rect x="45" y="463" width="45.25" height="1"/>
<rect x="45" y="464" width="45.75" height="1"/>
<rect x="45" y="465" width="46" height="1"/>
<rect x="45" y="466" width="46.5" height="1"/>
<rect x="45" y="467" width="46.75" height="1"/>
<rect x="45" y="468" width="47.25" height="1"/>
<rect x="45" y="469" width="47.5" height="1"/>
<rect x="45" y="470" width="48" height="1"/>
<rect x="45" y="471" width="48.5" height="1"/>
<rect x="45" y="472" width="48.75" height="1"/>
<rect x="45" y="473" width="49.25" height="1"/>
<rect x="45" y="474" width="49.5" height="1"/>
<rect x="45" y="475" width="50" height="1"/>
<rect x="45" y="476" width="50.25" height="1"/>
<rect x="45" y="477" width="50.75" height="1"/>
<rect x="45" y="478" width="51" height="1"/>
<rect x="45" y="479" width="51.5" height="1"/>
<rect x="45" y="480" width="51.75" height="1"/>
<rect x="45" y="481" width="52.25" height="1"/>
<rect x="45" y="482" width="52.5" height="1"/>
<rect x="45" y="483" width="53" height="1"/>
<rect x="45" y="484" width="53.5" height="1"/>
<rect x="45" y="485" width="53.75" height="1"/>
<rect x="45" y="486" width="54.25" height="1"/>
<rect x="45" y="487" width="54.5" height="1"/>
<rect x="45" y="488" width="55" height="1"/>
<rect x="45" y="489" width="55.25" height="1"/>
<rect x="45" y="490" width="55.75" height="1"/>
<rect x="45" y="491" width="56" height="1"/>
<rect x="45" y="492" width="56.5" height="1"/>
<rect x="45" y="493" width="56.75" height="1"/>
<rect x="45" y="494" width="57.25" height="1"/>
<rect x="45" y="495" width="57.5" height="1"/>
<rect x="45" y="496" width="58" height="1"/>
<rect x="45" y="497" width="58.5" height="1"/>
<rect x="45" y="498" width="58.75" height="1"/>
<rect x="45" y="499" width="59.25" height="1"/>
<rect x="45" y="500" width="59.5" height="1"/>
<rect x="45" y="501" width="60" height="1"/>
<rect x="45" y="502" width="60.25" height="1"/>
<rect x="45" y="503" width="60.75" height="1"/>
<rect x="45" y="504" width="61" height="1"/>
<rect x="45" y="505" width="61.5" height="1"/>
<rect x="45" y="506" width="61.75" height="1"/>
<rect x="45" y="507" width="62.25" height="1"/>
<rect x="45" y="508" width="62.5" height="1"/>
<rect x="45" y="509" width="63" height="1"/>
<rect x="45" y="510" width="63.5" height="1"/>
<rect x="45" y="511" width="63.75" height="1"/>
<rect x="45" y="512" width="64.25" height="1"/>
<rect x="45" y="513" width="64.5" height="1"/>
<rect x="45" y="514" width="65" height="1"/>
<rect x="45" y="515" width="65.25" height="1"/>
<rect x="45" y="516" width="65.75" height="1"/>
<rect x="45" y="517" width="66" height="1"/>
<rect x="45" y="518" width="66.5" height="1"/>
<rect x="45" y="519" width="66.75" height="1"/>
<rect x="45" y="520" width="67.25" height="1"/>
<rect x="45" y="521" width="67.75" height="1"/>
<rect x="45" y="522" width="68" height="1"/>
<rect x="45" y="523" width="68.5" height="1"/>
<rect x="45" y="524" width="68.75" height="1"/>
<rect x="45" y="525" width="69.25" height="1"/>
<rect x="45" y="526" width="69.5" height="1"/>
</g>
<g fill="url(#b3)">
<rect x="62.5" y="392" width="24.5" height="1"/>
<rect x="63" y="393" width="24.25" height="1"/>
<rect x="63.25" y="394" width="24.5" height="1"/>
<rect x="63.75" y="395" width="24.25" height="1"/>
<rect x="64.25" y="396" width="24.25" height="1"/>
<rect x="64.5" y="397" width="24.25" height="1"/>
<rect x="65" y="398" width="24.25" height="1"/>
<rect x="65.25" y="399" width="24.25" height="1"/>
<rect x="65.75" y="400" width="24.25" height="1"/>
<rect x="66.25" y="401" width="24.25" height="1"/>
<rect x="66.5" y="402" width="24.25" height="1"/>
<rect x="67" y="403" width="24.25" height="1"/>
<rect x="67.25" y="404" width="24.25" height="1"/>
<rect x="67.75" y="405" width="24.25" height="1"/>
<rect x="68" y="406" width="24.25" height="1"/>
<rect x="68.5" y="407" width="24.25" height="1"/>
<rect x="69" y="408" width="24" height="1"/>
<rect x="69.25" y="409" width="24.25" height="1"/>
<rect x="69.75" y="410" width="24" height="1"/>
<rect x="70" y="411" width="24.25" height="1"/>
<rect x="70.5" y="412" width="24.25" height="1"/>
<rect x="70.75" y="413" width="24.25" height="1"/>
<rect x="71.25" y="414" width="24.25" height="1"/>
<rect x="71.75" y="415" width="24" height="1"/>
<rect x="72" y="416" width="24.25" height="1"/>
<rect x="72.5" y="417" width="24" height="1"/>
<rect x="72.75" y="418" width="24.25" height="1"/>
<rect x="73.25" y="419" width="24" height="1"/>
<rect x="73.5" y="420" width="24.25" height="1"/>
<rect x="74" y="421" width="24" height="1"/>
<rect x="74.5" y="422" width="24" height="1"/>
<rect x="74.75" y="423" width="24" height="1"/>
<rect x="75.25" y="424" width="24" height="1"/>
<rect x="75.5" y="425" width="24" height="1"/>
<rect x="76" y="426" width="24" height="1"/>
<rect x="76.25" y="427" width="24.25" height="1"/>
<rect x="76.75" y="428" width="24" height="1"/>
<rect x="77" y="429" width="24.25" height="1"/>
<rect x="77.5" y="430" width="24" height="1"/>
<rect x="78" y="431" width="24" height="1"/>
<rect x="78.25" y="432" width="24" height="1"/>
<rect x="78.75" y="433" width="24" height="1"/>
<rect x="79" y="434" width="24" height="1"/>
<rect x="79.5" y="435" width="24" height="1"/>
<rect x="79.75" y="436" width="24" height="1"/>
<rect x="80.25" y="437" width="24" height="1"/>
<rect x="80.5" y="438" width="24" height="1"/>
<rect x="81" y="439" width="24" height="1"/>
<rect x="81.5" y="440" width="23.75" height="1"/>
<rect x="81.75" y="441" width="24" height="1"/>
<rect x="82.25" y="442" width="23.75" height="1"/>
<rect x="82.5" y="443" width="24" height="1"/>
<rect x="83" y="444" width="23.75" height="1"/>
<rect x="83.25" y="445" width="24" height="1"/>
<rect x="83.75" y="446" width="24" height="1"/>
<rect x="84" y="447" width="24" height="1"/>
<rect x="84.5" y="448" width="24" height="1"/>
<rect x="85" y="449" width="23.75" height="1"/>
<rect x="85.25" y="450" width="24" height="1"/>
<rect x="85.75" y="451" width="23.75" height="1"/>
<rect x="86" y="452" width="24" height="1"/>
<rect x="86.5" y="453" width="23.75" height="1"/>
<rect x="86.75" y="454" width="24" height="1"/>
<rect x="87.25" y="455" width="23.75" height="1"/>
<rect x="87.5" y="456" width="24" height="1"/>
<rect x="88" y="457" width="23.75" height="1"/>
<rect x="88.25" y="458" width="24" height="1"/>
<rect x="88.75" y="459" width="23.75" height="1"/>
<rect x="89.25" y="460" width="23.75" height="1"/>
<rect x="89.5" y="461" width="23.75" height="1"/>
<rect x="90" y="462" width="23.75" height="1"/>
<rect x="90.25" y="463" width="23.75" height="1"/>
<rect x="90.75" y="464" width="23.75" height="1"/>
<rect x="91" y="465" width="23.75" height="1"/>
<rect x="91.5" y="466" width="23.75" height="1"/>
<rect x="91.75" y="467" width="23.75" height="1"/>
<rect x="92.25" y="468" width="23.75" height="1"/>
<rect x="92.5" y="469" width="24" height="1"/>
<rect x="93" y="470" width="23.75" height="1"/>
<rect x="93.5" y="471" width="23.75" height="1"/>
<rect x="93.75" y="472" width="23.75" height="1"/>
<rect x="94.25" y="473" width="23.75" height="1"/>
<rect x="94.5" y="474" width="23.75" height="1"/>
<rect x="95" y="475" width="23.75" height="1"/>
<rect x="95.25" y="476" width="23.75" height="1"/>
<rect x="95.75" y="477" width="23.75" height="1"/>
<rect x="96" y="478" width="23.75" height="1"/>
<rect x="96.5" y="479" width="23.75" height="1"/>
<rect x="96.75" y="480" width="23.75" height="1"/>
<rect x="97.25" y="481" width="23.75" height="1"/>
<rect x="97.5" y="482" width="23.75" height="1"/>
<rect x="98" y="483" width="23.75" height="1"/>
<rect x="98.5" y="484" width="23.5" height="1"/>
<rect x="98.75" y="485" width="23.75" height="1"/>
<rect x="99.25" y="486" width="23.5" height="1"/>
<rect x="99.5" y="487" width="23.75" height="1"/>
<rect x="100" y="488" width="23.5" height="1"/>
<rect x="100.25" y="489" width="23.75" height="1"/>
<rect x="100.75" y="490" width="23.5" height="1"/>
<rect x="101" y="491" width="23.75" height="1"/>
<rect x="101.5" y="492" width="23.75" height="1"/>
<rect x="101.75" y="493" width="23.75" height="1"/>
<rect x="102.25" y="494" width="23.75" height="1"/>
<rect x="102.5" y="495" width="23.75" height="1"/>
<rect x="103" y="496" width="23.75" height="1"/>
<rect x="103.5" y="497" width="23.5" height="1"/>
<rect x="103.75" y="498" width="23.75" height="1"/>
<rect x="104.25" y="499" width="23.5" height="1"/>
<rect x="104.5" y="500" width="23.75" height="1"/>
<rect x="105" y="501" width="23.5" height="1"/>
<rect x="105.25" y="502" width="23.75" height="1"/>
<rect x="105.75" y="503" width="23.5" height="1"/>
<rect x="106" y="504" width="23.75" height="1"/>
<rect x="106.5" y="505" width="23.5" height="1"/>
<rect x="106.75" y="506" width="23.75" height="1"/>
<rect x="107.25" y="507" width="23.5" height="1"/>
<rect x="107.5" y="508" width="23.75" height="1"/>
<rect x="108" y="509" width="23.5" height="1"/>
<rect x="108.5" y="510" width="23.5" height="1"/>
<rect x="108.75" y="511" width="23.75" height="1"/>
<rect x="109.25" y="512" width="23.5" height="1"/>
<rect x="109.5" y="513" width="23.75" height="1"/>
<rect x="110" y="514" width="23.5" height="1"/>
<rect x="110.25" y="515" width="23.75" height="1"/>
<rect x="110.75" y="516" width="23.5" height="1"/>
<rect x="111" y="517" width="23.75" height="1"/>
<rect x="111.5" y="518" width="23.5" height="1"/>
<rect x="111.75" y="519" width="23.75" height="1"/>
<rect x="112.25" y="520" width="23.5" height="1"/>
<rect x="112.75" y="521" width="23.5" height="1"/>
<rect x="113" y="522" width="23.5" height="1"/>
<rect x="113.5" y="523" width="23.5" height="1"/>
<rect x="113.75" y="524" width="23.5" height="1"/>
<rect x="114.25" y="525" width="23.5" height="1"/>
<rect x="114.5" y="526" width="23.75" height="1"/>
</g>
<g fill="url(#b0)">
<rect x="87" y="392" width="24.25" height="1"/>
<rect x="87.25" y="393" width="24.5" height="1"/>
<rect x="87.75" y="394" width="24.25" height="1"/>
<rect x="88" y="395" width="24.5" height="1"/>
<rect x="88.5" y="396" width="24.25" height="1"/>
<rect x="88.75" y="397" width="24.5" height="1"/>
<rect x="89.25" y="398" width="24.25" height="1"/>
<rect x="89.5" y="399" width="24.5" height="1"/>
<rect x="90" y="400" width="24.25" height="1"/>
<rect x="90.5" y="401" width="24.25" height="1"/>
<rect x="90.75" y="402" width="24.25" height="1"/>
<rect x="91.25" y="403" width="24.25" height="1"/>
<rect x="91.5" y="404" width="24.25" height="1"/>
<rect x="92" y="405" width="24.25" height="1"/>
<rect x="92.25" y="406" width="24.25" height="1"/>
<rect x="92.75" y="407" width="24.25" height="1"/>
<rect x="93" y="408" width="24.25" height="1"/>
<rect x="93.5" y="409" width="24.25" height="1"/>
<rect x="93.75" y="410" width="24.25" height="1"/>
<rect x="94.25" y="411" width="24.25" height="1"/>
<rect x="94.75" y="412" width="24" height="1"/>
<rect x="95" y="413" width="24.25" height="1"/>
<rect x="95.5" y="414" width="24" height="1"/>
<rect x="95.75" y="415" width="24.25" height="1"/>
<rect x="96.25" y="416" width="24" height="1"/>
<rect x="96.5" y="417" width="24.25" height="1"/>
<rect x="97" y="418" width="24" height="1"/>
<rect x="97.25" y="419" width="24.25" height="1"/>
<rect x="97.75" y="420" width="24" height="1"/>
<rect x="98" y="421" width="24.25" height="1"/>
<rect x="98.5" y="422" width="24" height="1"/>
<rect x="98.75" y="423" width="24.25" height="1"/>
<rect x="99.25" y="424" width="24" height="1"/>
<rect x="99.5" y="425" width="24.25" height="1"/>
<rect x="100" y="426" width="24" height="1"/>
<rect x="100.5" y="427" width="24" height="1"/>
<rect x="100.75" y="428" width="24" height="1"/>
<rect x="101.25" y="429" width="24" height="1"/>
<rect x="101.5" y="430" width="24" height="1"/>
<rect x="102" y="431" width="24" height="1"/>
<rect x="102.25" y="432" width="24" height="1"/>
<rect x="102.75" y="433" width="24" height="1"/>
<rect x="103" y="434" width="24" height="1"/>
<rect x="103.5" y="435" width="24" height="1"/>
<rect x="103.75" y="436" width="24" height="1"/>
<rect x="104.25" y="437" width="24" height="1"/>
<rect x="104.5" y="438" width="24" height="1"/>
<rect x="105" y="439" width="24" height="1"/>
<rect x="105.25" y="440" width="24" height="1"/>
<rect x="105.75" y="441" width="24" height="1"/>
<rect x="106" y="442" width="24" height="1"/>
<rect x="106.5" y="443" width="24" height="1"/>
<rect x="106.75" y="444" width="24" height="1"/>
<rect x="107.25" y="445" width="24" height="1"/>
<rect x="107.75" y="446" width="23.75" height="1"/>
<rect x="108" y="447" width="24" height="1"/>
<rect x="108.5" y="448" width="23.75" height="1"/>
<rect x="108.75" y="449" width="24" height="1"/>
<rect x="109.25" y="450" width="23.75" height="1"/>
<rect x="109.5" y="451" width="24" height="1"/>
<rect x="110" y="452" width="23.75" height="1"/>
<rect x="110.25" y="453" width="24" height="1"/>
<rect x="110.75" y="454" width="23.75" height="1"/>
<rect x="111" y="455" width="24" height="1"/>
<rect x="111.5" y="456" width="23.75" height="1"/>
<rect x="111.75" y="457" width="24" height="1"/>
<rect x="112.25" y="458" width="23.75" height="1"/>
<rect x="112.5" y="459" width="24" height="1"/>
<rect x="113" y="460" width="23.75" height="1"/>
<rect x="113.25" y="461" width="24" height="1"/>
<rect x="113.75" y="462" width="23.75" height="1"/>
<rect x="114" y="463" width="24" height="1"/>
<rect x="114.5" y="464" width="23.75" height="1"/>
<rect x="114.75" y="465" width="24" height="1"/>
<rect x="115.25" y="466" width="23.75" height="1"/>
<rect x="115.5" y="467" width="24" height="1"/>
<rect x="116" y="468" width="23.75" height="1"/>
<rect x="116.5" y="469" width="23.75" height="1"/>
<rect x="116.75" y="470" width="23.75" height="1"/>
<rect x="117.25" y="471" width="23.75" height="1"/>
<rect x="117.5" y="472" width="23.75" height="1"/>
<rect x="118" y="473" width="23.75" height="1"/>
<rect x="118.25" y="474" width="23.75" height="1"/>
<rect x="118.75" y="475" width="23.75" height="1"/>
<rect x="119" y="476" width="23.75" height="1"/>
<rect x="119.5" y="477" width="23.75" height="1"/>
<rect x="119.75" y="478" width="23.75" height="1"/>
<rect x="120.25" y="479" width="23.75" height="1"/>
<rect x="120.5" y="480" width="23.75" height="1"/>
<rect x="121" y="481" width="23.75" height="1"/>
<rect x="121.25" y="482" width="23.75" height="1"/>
<rect x="121.75" y="483" width="23.75" height="1"/>
<rect x="122" y="484" width="23.75" height="1"/>
<rect x="122.5" y="485" width="23.75" height="1"/>
<rect x="122.75" y="486" width="23.75" height="1"/>
<rect x="123.25" y="487" width="23.75" height="1"/>
<rect x="123.5" y="488" width="23.75" height="1"/>
<rect x="124" y="489" width="23.75" height="1"/>
<rect x="124.25" y="490" width="23.75" height="1"/>
<rect x="124.75" y="491" width="23.75" height="1"/>
<rect x="125.25" y="492" width="23.5" height="1"/>
<rect x="125.5" y="493" width="23.75" height="1"/>
<rect x="126" y="494" width="23.5" height="1"/>
<rect x="126.25" y="495" width="23.75" height="1"/>
<rect x="126.75" y="496" width="23.5" height="1"/>
<rect x="127" y="497" width="23.75" height="1"/>
<rect x="127.5" y="498" width="23.5" height="1"/>
<rect x="127.75" y="499" width="23.75" height="1"/>
<rect x="128.25" y="500" width="23.5" height="1"/>
<rect x="128.5" y="501" width="23.75" height="1"/>
<rect x="129" y="502" width="23.5" height="1"/>
<rect x="129.25" y="503" width="23.75" height="1"/>
<rect x="129.75" y="504" width="23.5" height="1"/>
<rect x="130" y="505" width="23.75" height="1"/>
<rect x="130.5" y="506" width="23.5" height="1"/>
<rect x="130.75" y="507" width="23.75" height="1"/>
<rect x="131.25" y="508" width="23.5" height="1"/>
<rect x="131.5" y="509" width="23.75" height="1"/>
<rect x="132" y="510" width="23.5" height="1"/>
<rect x="132.5" y="511" width="23.5" height="1"/>
<rect x="132.75" y="512" width="23.5" height="1"/>
<rect x="133.25" y="513" width="23.5" height="1"/>
<rect x="133.5" y="514" width="23.75" height="1"/>
<rect x="134" y="515" width="23.5" height="1"/>
<rect x="134.25" y="516" width="23.75" height="1"/>
<rect x="134.75" y="517" width="23.5" height="1"/>
<rect x="135" y="518" width="23.75" height="1"/>
<rect x="135.5" y="519" width="23.5" height="1"/>
<rect x="135.75" y="520" width="23.75" height="1"/>
<rect x="136.25" y="521" width="23.5" height="1"/>
<rect x="136.5" y="522" width="23.75" height="1"/>
<rect x="137" y="523" width="23.5" height="1"/>
<rect x="137.25" y="524" width="23.75" height="1"/>
<rect x="137.75" y="525" width="23.5" height="1"/>
<rect x="138.25" y="526" width="23.5" height="1"/>
</g>
<g fill="url(#b1)">
<rect x="111.25" y="392" width="24.25" height="1"/>
<rect x="111.75" y="393" width="24.25" height="1"/>
<rect x="112" y="394" width="24.25" height="1"/>
<rect x="112.5" y="395" width="24.25" height="1"/>
<rect x="112.75" y="396" width="24.25" height="1"/>
<rect x="113.25" y="397" width="24.25" height="1"/>
<rect x="113.5" y="398" width="24.25" height="1"/>
<rect x="114" y="399" width="24.25" height="1"/>
<rect x="114.25" y="400" width="24.25" height="1"/>
<rect x="114.75" y="401" width="24.25" height="1"/>
<rect x="115" y="402" width="24.25" height="1"/>
<rect x="115.5" y="403" width="24.25" height="1"/>
<rect x="115.75" y="404" width="24.25" height="1"/>
<rect x="116.25" y="405" width="24.25" height="1"/>
<rect x="116.5" y="406" width="24.25" height="1"/>
<rect x="117" y="407" width="24.25" height="1"/>
<rect x="117.25" y="408" width="24.25" height="1"/>
<rect x="117.75" y="409" width="24" height="1"/>
<rect x="118" y="410" width="24.25" height="1"/>
<rect x="118.5" y="411" width="24" height="1"/>
<rect x="118.75" y="412" width="24.25" height="1"/>
<rect x="119.25" y="413" width="24" height="1"/>
<rect x="119.5" y="414" width="24.25" height="1"/>
<rect x="120" y="415" width="24" height="1"/>
<rect x="120.25" y="416" width="24.25" height="1"/>
<rect x="120.75" y="417" width="24" height="1"/>
<rect x="121" y="418" width="24.25" height="1"/>
<rect x="121.5" y="419" width="24" height="1"/>
<rect x="121.75" y="420" width="24.25" height="1"/>
<rect x="122.25" y="421" width="24" height="1"/>
<rect x="122.5" y="422" width="24.25" height="1"/>
<rect x="123" y="423" width="24" height="1"/>
<rect x="123.25" y="424" width="24" height="1"/>
<rect x="123.75" y="425" width="24" height="1"/>
<rect x="124" y="426" width="24" height="1"/>
<rect x="124.5" y="427" width="24" height="1"/>
<rect x="124.75" y="428" width="24" height="1"/>
<rect x="125.25" y="429" width="24" height="1"/>
<rect x="125.5" y="430" width="24" height="1"/>
<rect x="126" y="431" width="24" height="1"/>
<rect x="126.25" y="432" width="24" height="1"/>
<rect x="126.75" y="433" width="24" height="1"/>
<rect x="127" y="434" width="24" height="1"/>
<rect x="127.5" y="435" width="24" height="1"/>
<rect x="127.75" y="436" width="24" height="1"/>
<rect x="128.25" y="437" width="24" height="1"/>
<rect x="128.5" y="438" width="24" height="1"/>
<rect x="129" y="439" width="24" height="1"/>
<rect x="129.25" y="440" width="24" height="1"/>
<rect x="129.75" y="441" width="23.75" height="1"/>
<rect x="130" y="442" width="24" height="1"/>
<rect x="130.5" y="443" width="23.75" height="1"/>
<rect x="130.75" y="444" width="24" height="1"/>
<rect x="131.25" y="445" width="23.75" height="1"/>
<rect x="131.5" y="446" width="24" height="1"/>
<rect x="132" y="447" width="23.75" height="1"/>
<rect x="132.25" y="448" width="24" height="1"/>
<rect x="132.75" y="449" width="23.75" height="1"/>
<rect x="133" y="450" width="24" height="1"/>
<rect x="133.5" y="451" width="23.75" height="1"/>
<rect x="133.75" y="452" width="24" height="1"/>
<rect x="134.25" y="453" width="23.75" height="1"/>
<rect x="134.5" y="454" width="24" height="1"/>
<rect x="135" y="455" width="23.75" height="1"/>
<rect x="135.25" y="456" width="24" height="1"/>
<rect x="135.75" y="457" width="23.75" height="1"/>
<rect x="136" y="458" width="23.75" height="1"/>
<rect x="136.5" y="459" width="23.75" height="1"/>
<rect x="136.75" y="460" width="23.75" height="1"/>
<rect x="137.25" y="461" width="23.75" height="1"/>
<rect x="137.5" y="462" width="23.75" height="1"/>
<rect x="138" y="463" width="23.75" height="1"/>
<rect x="138.25" y="464" width="23.75" height="1"/>
<rect x="138.75" y="465" width="23.75" height="1"/>
<rect x="139" y="466" width="23.75" height="1"/>
<rect x="139.5" y="467" width="23.75" height="1"/>
<rect x="139.75" y="468" width="23.75" height="1"/>
<rect x="140.25" y="469" width="23.75" height="1"/>
<rect x="140.5" y="470" width="23.75" height="1"/>
<rect x="141" y="471" width="23.75" height="1"/>
<rect x="141.25" y="472" width="23.75" height="1"/>
<rect x="141.75" y="473" width="23.75" height="1"/>
<rect x="142" y="474" width="23.75" height="1"/>
<rect x="142.5" y="475" width="23.75" height="1"/>
<rect x="142.75" y="476" width="23.75" height="1"/>
<rect x="143.25" y="477" width="23.75" height="1"/>
<rect x="143.5" y="478" width="23.75" height="1"/>
<rect x="144" y="479" width="23.75" height="1"/>
<rect x="144.25" y="480" width="23.75" height="1"/>
<rect x="144.75" y="481" width="23.75" height="1"/>
<rect x="145" y="482" width="23.75" height="1"/>
<rect x="145.5" y="483" width="23.5" height="1"/>
<rect x="145.75" y="484" width="23.75" height="1"/>
<rect x="146.25" y="485" width="23.5" height="1"/>
<rect x="146.5" y="486" width="23.75" height="1"/>
<rect x="147" y="487" width="23.5" height="1"/>
<rect x="147.25" y="488" width="23.75" height="1"/>
<rect x="147.75" y="489" width="23.5" height="1"/>
<rect x="148" y="490" width="23.75" height="1"/>
<rect x="148.5" y="491" width="23.5" height="1"/>
<rect x="148.75" y="492" width="23.75" height="1"/>
<rect x="149.25" y="493" width="23.5" height="1"/>
<rect x="149.5" y="494" width="23.75" height="1"/>
<rect x="150" y="495" width="23.5" height="1"/>
<rect x="150.25" y="496" width="23.75" height="1"/>
<rect x="150.75" y="497" width="23.5" height="1"/>
<rect x="151" y="498" width="23.75" height="1"/>
<rect x="151.5" y="499" width="23.5" height="1"/>
<rect x="151.75" y="500" width="23.75" height="1"/>
<rect x="152.25" y="501" width="23.5" height="1"/>
<rect x="152.5" y="502" width="23.75" height="1"/>
<rect x="153" y="503" width="23.5" height="1"/>
<rect x="153.25" y="504" width="23.75" height="1"/>
<rect x="153.75" y="505" width="23.5" height="1"/>
<rect x="154" y="506" width="23.75" height="1"/>
<rect x="154.5" y="507" width="23.5" height="1"/>
<rect x="154.75" y="508" width="23.75" height="1"/>
<rect x="155.25" y="509" width="23.5" height="1"/>
<rect x="155.5" y="510" width="23.75" height="1"/>
<rect x="156" y="511" width="23.5" height="1"/>
<rect x="156.25" y="512" width="23.75" height="1"/>
<rect x="156.75" y="513" width="23.5" height="1"/>
<rect x="157.25" y="514" width="23.5" height="1"/>
<rect x="157.5" y="515" width="23.5" height="1"/>
<rect x="158" y="516" width="23.5" height="1"/>
<rect x="158.25" y="517" width="23.5" height="1"/>
<rect x="158.75" y="518" width="23.5" height="1"/>
<rect x="159" y="519" width="23.5" height="1"/>
<rect x="159.5" y="520" width="23.5" height="1"/>
<rect x="159.75" y="521" width="23.75" height="1"/>
<rect x="160.25" y="522" width="23.5" height="1"/>
<rect x="160.5" y="523" width="23.75" height="1"/>
<rect x="161" y="524" width="23.5" height="1"/>
<rect x="161.25" y="525" width="23.75" height="1"/>
<rect x="161.75" y="526" width="23.5" height="1"/>
</g>
<g fill="url(#b2)">
<rect x="135.5" y="392" width="24.5" height="1"/>
<rect x="136" y="393" width="24.25" height="1"/>
<rect x="136.25" y="394" width="24.5" height="1"/>
<rect x="136.75" y="395" width="24.25" height="1"/>
<rect x="137" y="396" width="24.5" height="1"/>
<rect x="137.5" y="397" width="24.25" height="1"/>
<rect x="137.75" y="398" width="24.25" height="1"/>
<rect x="138.25" y="399" width="24.25" height="1"/>
<rect x="138.5" y="400" width="24.25" height="1"/>
<rect x="139" y="401" width="24.25" height="1"/>
<rect x="139.25" y="402" width="24.25" height="1"/>
<rect x="139.75" y="403" width="24.25" height="1"/>
<rect x="140" y="404" width="24.25" height="1"/>
<rect x="140.5" y="405" width="24" height="1"/>
<rect x="140.75" y="406" width="24.25" height="1"/>
<rect x="141.25" y="407" width="24" height="1"/>
<rect x="141.5" y="408" width="24.25" height="1"/>
<rect x="141.75" y="409" width="24.25" height="1"/>
<rect x="142.25" y="410" width="24.25" height="1"/>
<rect x="142.5" y="411" width="24.25" height="1"/>
<rect x="143" y="412" width="24.25" height="1"/>
<rect x="143.25" y="413" width="24.25" height="1"/>
<rect x="143.75" y="414" width="24" height="1"/>
<rect x="144" y="415" width="24.25" height="1"/>
<rect x="144.5" y="416" width="24" height="1"/>
<rect x="144.75" y="417" width="24.25" height="1"/>
<rect x="145.25" y="418" width="24" height="1"/>
<rect x="145.5" y="419" width="24.25" height="1"/>
<rect x="146" y="420" width="24" height="1"/>
<rect x="146.25" y="421" width="24" height="1"/>
<rect x="146.75" y="422" width="24" height="1"/>
<rect x="147" y="423" width="24" height="1"/>
<rect x="147.25" y="424" width="24.25" height="1"/>
<rect x="147.75" y="425" width="24" height="1"/>
<rect x="148" y="426" width="24.25" height="1"/>
<rect x="148.5" y="427" width="24" height="1"/>
<rect x="148.75" y="428" width="24" height="1"/>
<rect x="149.25" y="429" width="24" height="1"/>
<rect x="149.5" y="430" width="24" height="1"/>
<rect x="150" y="431" width="24" height="1"/>
<rect x="150.25" y="432" width="24" height="1"/>
<rect x="150.75" y="433" width="24" height="1"/>
<rect x="151" y="434" width="24" height="1"/>
<rect x="151.5" y="435" width="24" height="1"/>
<rect x="151.75" y="436" width="24" height="1"/>
<rect x="152.25" y="437" width="23.75" height="1"/>
<rect x="152.5" y="438" width="24" height="1"/>
<rect x="153" y="439" width="23.75" height="1"/>
<rect x="153.25" y="440" width="24" height="1"/>
<rect x="153.5" y="441" width="24" height="1"/>
<rect x="154" y="442" width="24" height="1"/>
<rect x="154.25" y="443" width="24" height="1"/>
<rect x="154.75" y="444" width="24" height="1"/>
<rect x="155" y="445" width="24" height="1"/>
<rect x="155.5" y="446" width="23.75" height="1"/>
<rect x="155.75" y="447" width="24" height="1"/>
<rect x="156.25" y="448" width="23.75" height="1"/>
<rect x="156.5" y="449" width="24" height="1"/>
<rect x="157" y="450" width="23.75" height="1"/>
<rect x="157.25" y="451" width="24" height="1"/>
<rect x="157.75" y="452" width="23.75" height="1"/>
<rect x="158" y="453" width="24" height="1"/>
<rect x="158.5" y="454" width="23.75" height="1"/>
<rect x="158.75" y="455" width="23.75" height="1"/>
<rect x="159.25" y="456" width="23.75" height="1"/>
<rect x="159.5" y="457" width="23.75" height="1"/>
<rect x="159.75" y="458" width="24" height="1"/>
<rect x="160.25" y="459" width="23.75" height="1"/>
<rect x="160.5" y="460" width="24" height="1"/>
<rect x="161" y="461" width="23.75" height="1"/>
<rect x="161.25" y="462" width="24" height="1"/>
<rect x="161.75" y="463" width="23.75" height="1"/>
<rect x="162" y="464" width="24" height="1"/>
<rect x="162.5" y="465" width="23.75" height="1"/>
<rect x="162.75" y="466" width="23.75" height="1"/>
<rect x="163.25" y="467" width="23.75" height="1"/>
<rect x="163.5" y="468" width="23.75" height="1"/>
<rect x="164" y="469" width="23.75" height="1"/>
<rect x="164.25" y="470" width="23.75" height="1"/>
<rect x="164.75" y="471" width="23.75" height="1"/>
<rect x="165" y="472" width="23.75" height="1"/>
<rect x="165.5" y="473" width="23.75" height="1"/>
<rect x="165.75" y="474" width="23.75" height="1"/>
<rect x="166.25" y="475" width="23.75" height="1"/>
<rect x="166.5" y="476" width="23.75" height="1"/>
<rect x="167" y="477" width="23.5" height="1"/>
<rect x="167.25" y="478" width="23.75" height="1"/>
<rect x="167.75" y="479" width="23.5" height="1"/>
<rect x="168" y="480" width="23.75" height="1"/>
<rect x="168.5" y="481" width="23.5" height="1"/>
<rect x="168.75" y="482" width="23.75" height="1"/>
<rect x="169" y="483" width="23.75" height="1"/>
<rect x="169.5" y="484" width="23.75" height="1"/>
<rect x="169.75" y="485" width="23.75" height="1"/>
<rect x="170.25" y="486" width="23.75" height="1"/>
<rect x="170.5" y="487" width="23.75" height="1"/>
<rect x="171" y="488" width="23.75" height="1"/>
<rect x="171.25" y="489" width="23.75" height="1"/>
<rect x="171.75" y="490" width="23.75" height="1"/>
<rect x="172" y="491" width="23.75" height="1"/>
<rect x="172.5" y="492" width="23.75" height="1"/>
<rect x="172.75" y="493" width="23.75" height="1"/>
<rect x="173.25" y="494" width="23.75" height="1"/>
<rect x="173.5" y="495" width="23.75" height="1"/>
<rect x="174" y="496" width="23.5" height="1"/>
<rect x="174.25" y="497" width="23.75" height="1"/>
<rect x="174.75" y="498" width="23.5" height="1"/>
<rect x="175" y="499" width="23.75" height="1"/>
<rect x="175.5" y="500" width="23.5" height="1"/>
<rect x="175.75" y="501" width="23.75" height="1"/>
<rect x="176.25" y="502" width="23.5" height="1"/>
<rect x="176.5" y="503" width="23.75" height="1"/>
<rect x="177" y="504" width="23.5" height="1"/>
<rect x="177.25" y="505" width="23.75" height="1"/>
<rect x="177.75" y="506" width="23.5" height="1"/>
<rect x="178" y="507" width="23.75" height="1"/>
</g>
<g fill="#073a5e">
<rect x="160" y="392" width="20" height="1"/>
<rect x="160.25" y="393" width="19.75" height="1"/>
<rect x="160.75" y="394" width="19.25" height="1"/>
<rect x="161" y="395" width="19" height="1"/>
<rect x="161.5" y="396" width="18.5" height="1"/>
<rect x="161.75" y="397" width="18.25" height="1"/>
<rect x="162" y="398" width="18" height="1"/>
<rect x="162.5" y="399" width="17.5" height="1"/>
<rect x="162.75" y="400" width="17.25" height="1"/>
<rect x="163.25" y="401" width="16.75" height="1"/>
<rect x="163.5" y="402" width="16.5" height="1"/>
<rect x="164" y="403" width="16" height="1"/>
<rect x="164.25" y="404" width="15.75" height="1"/>
<rect x="164.5" y="405" width="15.5" height="1"/>
<rect x="165" y="406" width="15" height="1"/>
<rect x="165.25" y="407" width="14.75" height="1"/>
<rect x="165.75" y="408" width="14.25" height="1"/>
<rect x="166" y="409" width="14" height="1"/>
<rect x="166.5" y="410" width="13.5" height="1"/>
<rect x="166.75" y="411" width="13.25" height="1"/>
<rect x="167.25" y="412" width="12.75" height="1"/>
<rect x="167.5" y="413" width="12.5" height="1"/>
<rect x="167.75" y="414" width="12.25" height="1"/>
<rect x="168.25" y="415" width="11.75" height="1"/>
<rect x="168.5" y="416" width="11.5" height="1"/>
<rect x="169" y="417" width="11" height="1"/>
<rect x="169.25" y="418" width="10.75" height="1"/>
<rect x="169.75" y="419" width="10.25" height="1"/>
<rect x="170" y="420" width="10" height="1"/>
<rect x="170.25" y="421" width="9.75" height="1"/>
<rect x="170.75" y="422" width="9.25" height="1"/>
<rect x="171" y="423" width="9" height="1"/>
<rect x="171.5" y="424" width="8.5" height="1"/>
<rect x="171.75" y="425" width="8.25" height="1"/>
<rect x="172.25" y="426" width="7.75" height="1"/>
<rect x="172.5" y="427" width="7.5" height="1"/>
<rect x="172.75" y="428" width="7.25" height="1"/>
<rect x="173.25" y="429" width="6.75" height="1"/>
<rect x="173.5" y="430" width="6.5" height="1"/>
<rect x="174" y="431" width="6" height="1"/>
<rect x="174.25" y="432" width="5.75" height="1"/>
<rect x="174.75" y="433" width="5.25" height="1"/>
<rect x="175" y="434" width="5" height="1"/>
<rect x="175.5" y="435" width="4.5" height="1"/>
<rect x="175.75" y="436" width="4.25" height="1"/>
<rect x="176" y="437" width="4" height="1"/>
<rect x="176.5" y="438" width="3.5" height="1"/>
<rect x="176.75" y="439" width="3.25" height="1"/>
<rect x="177.25" y="440" width="2.75" height="1"/>
<rect x="177.5" y="441" width="2.5" height="1"/>
<rect x="178" y="442" width="2" height="1"/>
<rect x="178.25" y="443" width="1.75" height="1"/>
</g>
</g>
<path class="d" d="M46.4 475.5H178.4 M46.4 497.8H178.4"/>
<text class="w" x="49.6" y="469">RFS</text>
<text class="w" x="49.6" y="490.7">MFS</text>
<text class="w" x="50.6" y="512.2">FFS</text>
<text class="t" x="112.4" y="390">Veras sacrum y</text>
<text class="k" text-anchor="end" x="43.1" y="396">0.75</text>
<text class="k" text-anchor="end" x="43.1" y="463.35">0.25</text>
<text class="k" text-anchor="end" x="43.1" y="530.7">-0.25</text>
<text class="k" text-anchor="middle" x="46.4" y="539.1">2.5</text>
<text class="k" text-anchor="middle" x="112.4" y="539.1">5</text>
<text class="k" text-anchor="middle" x="178.4" y="539.1">7.5</text>
<text class="l" x="112.4" y="550.8">speed (m/s)</text>
<text class="l" transform="translate(17.8 459.05) rotate(-90)">foot strike angle (rad)</text>
<clipPath id="c7"><rect x="224" y="392.3" width="132" height="134.7"/></clipPath>
<g class="r" clip-path="url(#c7)" shape-rendering="crispEdges">
<g fill="url(#b5)">
<rect x="164" y="392" width="62.75" height="1"/>
<rect x="165.25" y="393" width="62.75" height="1"/>
<rect x="166.5" y="394" width="62.5" height="1"/>
<rect x="168" y="395" width="62.25" height="1"/>
<rect x="169.25" y="396" width="62" height="1"/>
<rect x="170.5" y="397" width="62" height="1"/>
<rect x="171.75" y="398" width="61.75" height="1"/>
<rect x="173" y="399" width="61.5" height="1"/>
<rect x="174.25" y="400" width="61.5" height="1"/>
<rect x="175.5" y="401" width="61.25" height="1"/>
<rect x="176.75" y="402" width="61.25" height="1"/>
<rect x="178.25" y="403" width="60.75" height="1"/>
<rect x="179.5" y="404" width="60.75" height="1"/>
<rect x="180.75" y="405" width="60.5" height="1"/>
<rect x="182" y="406" width="60.25" height="1"/>
<rect x="183.25" y="407" width="60.25" height="1"/>
<rect x="184.5" y="408" width="60" height="1"/>
<rect x="185.75" y="409" width="60" height="1"/>
<rect x="187" y="410" width="59.75" height="1"/>
<rect x="188.5" y="411" width="59.5" height="1"/>
<rect x="189.75" y="412" width="59.25" height="1"/>
<rect x="191" y="413" width="59" height="1"/>
<rect x="192.25" y="414" width="59" height="1"/>
<rect x="193.5" y="415" width="58.75" height="1"/>
<rect x="194.75" y="416" width="58.75" height="1"/>
<rect x="196" y="417" width="58.5" height="1"/>
<rect x="197.25" y="418" width="58.5" height="1"/>
<rect x="198.5" y="419" width="58.25" height="1"/>
<rect x="200" y="420" width="57.75" height="1"/>
<rect x="201.25" y="421" width="57.75" height="1"/>
<rect x="202.5" y="422" width="57.5" height="1"/>
<rect x="203.75" y="423" width="57.5" height="1"/>
<rect x="205" y="424" width="57.25" height="1"/>
<rect x="206.25" y="425" width="57.25" height="1"/>
<rect x="207.5" y="426" width="57" height="1"/>
<rect x="208.75" y="427" width="56.75" height="1"/>
<rect x="210.25" y="428" width="56.5" height="1"/>
<rect x="211.5" y="429" width="56.25" height="1"/>
<rect x="212.75" y="430" width="56.25" height="1"/>
<rect x="214" y="431" width="56" height="1"/>
<rect x="215.25" y="432" width="56" height="1"/>
<rect x="216.5" y="433" width="55.75" height="1"/>
<rect x="217.75" y="434" width="55.5" height="1"/>
<rect x="219" y="435" width="55.5" height="1"/>
<rect x="220.5" y="436" width="55" height="1"/>
<rect x="221.75" y="437" width="55" height="1"/>
<rect x="223" y="438" width="54.75" height="1"/>
<rect x="224.25" y="439" width="54.75" height="1"/>
<rect x="225.5" y="440" width="54.5" height="1"/>
<rect x="226.75" y="441" width="54.25" height="1"/>
<rect x="228" y="442" width="54.25" height="1"/>
<rect x="229.25" y="443" width="54" height="1"/>
<rect x="230.5" y="444" width="54" height="1"/>
<rect x="232" y="445" width="53.5" height="1"/>
<rect x="233.25" y="446" width="53.5" height="1"/>
<rect x="234.5" y="447" width="53.25" height="1"/>
<rect x="235.75" y="448" width="53" height="1"/>
<rect x="237" y="449" width="53" height="1"/>
<rect x="238.25" y="450" width="52.75" height="1"/>
<rect x="239.5" y="451" width="52.75" height="1"/>
<rect x="240.75" y="452" width="52.5" height="1"/>
<rect x="242.25" y="453" width="52.25" height="1"/>
<rect x="243.5" y="454" width="52" height="1"/>
<rect x="244.75" y="455" width="51.75" height="1"/>
<rect x="246" y="456" width="51.75" height="1"/>
<rect x="247.25" y="457" width="51.5" height="1"/>
<rect x="248.5" y="458" width="51.5" height="1"/>
<rect x="249.75" y="459" width="51.25" height="1"/>
<rect x="251" y="460" width="51.25" height="1"/>
<rect x="252.25" y="461" width="51" height="1"/>
<rect x="253.75" y="462" width="50.75" height="1"/>
<rect x="255" y="463" width="50.5" height="1"/>
<rect x="256.25" y="464" width="50.25" height="1"/>
<rect x="257.5" y="465" width="50.25" height="1"/>
<rect x="258.75" y="466" width="50" height="1"/>
<rect x="260" y="467" width="50" height="1"/>
<rect x="261.25" y="468" width="49.75" height="1"/>
<rect x="262.5" y="469" width="49.75" height="1"/>
<rect x="264" y="470" width="49.25" height="1"/>
<rect x="265.25" y="471" width="49" height="1"/>
<rect x="266.5" y="472" width="49" height="1"/>
<rect x="267.75" y="473" width="48.75" height="1"/>
<rect x="269" y="474" width="48.75" height="1"/>
<rect x="270.25" y="475" width="48.5" height="1"/>
<rect x="271.5" y="476" width="48.5" height="1"/>
<rect x="272.75" y="477" width="48.25" height="1"/>
<rect x="274.25" y="478" width="47.75" height="1"/>
<rect x="275.5" y="479" width="47.75" height="1"/>
<rect x="276.75" y="480" width="47.5" height="1"/>
<rect x="278" y="481" width="47.5" height="1"/>
<rect x="279.25" y="482" width="47.25" height="1"/>
<rect x="280.5" y="483" width="47.25" height="1"/>
<rect x="281.75" y="484" width="47" height="1"/>
<rect x="283" y="485" width="46.75" height="1"/>
<rect x="284.25" y="486" width="46.75" height="1"/>
<rect x="285.75" y="487" width="46.25" height="1"/>
<rect x="287" y="488" width="46.25" height="1"/>
<rect x="288.25" y="489" width="46" height="1"/>
<rect x="289.5" y="490" width="46" height="1"/>
<rect x="290.75" y="491" width="45.75" height="1"/>
<rect x="292" y="492" width="45.5" height="1"/>
<rect x="293.25" y="493" width="45.5" height="1"/>
<rect x="294.5" y="494" width="45.25" height="1"/>
<rect x="296" y="495" width="45" height="1"/>
<rect x="297.25" y="496" width="44.75" height="1"/>
<rect x="298.5" y="497" width="44.75" height="1"/>
<rect x="299.75" y="498" width="44.5" height="1"/>
<rect x="301" y="499" width="44.25" height="1"/>
<rect x="302.25" y="500" width="44.25" height="1"/>
<rect x="303.5" y="501" width="44" height="1"/>
<rect x="304.75" y="502" width="44" height="1"/>
<rect x="306" y="503" width="43.75" height="1"/>
<rect x="307.5" y="504" width="43.5" height="1"/>
<rect x="308.75" y="505" width="43.25" height="1"/>
<rect x="310" y="506" width="43" height="1"/>
<rect x="311.25" y="507" width="43" height="1"/>
<rect x="312.5" y="508" width="42.75" height="1"/>
<rect x="313.75" y="509" width="42.75" height="1"/>
<rect x="315" y="510" width="42.5" height="1"/>
<rect x="316.25" y="511" width="42.5" height="1"/>
<rect x="317.75" y="512" width="42" height="1"/>
<rect x="319" y="513" width="41.75" height="1"/>
<rect x="320.25" y="514" width="41.75" height="1"/>
<rect x="321.5" y="515" width="41.5" height="1"/>
<rect x="322.75" y="516" width="41.5" height="1"/>
<rect x="324" y="517" width="41.25" height="1"/>
<rect x="325.25" y="518" width="41.25" height="1"/>
<rect x="326.5" y="519" width="41" height="1"/>
<rect x="328" y="520" width="40.5" height="1"/>
<rect x="329.25" y="521" width="40.5" height="1"/>
<rect x="330.5" y="522" width="40.25" height="1"/>
<rect x="331.75" y="523" width="40.25" height="1"/>
<rect x="333" y="524" width="40" height="1"/>
<rect x="334.25" y="525" width="40" height="1"/>
<rect x="335.5" y="526" width="39.75" height="1"/>
</g>
<g fill="url(#b6)">
<rect x="226.75" y="392" width="18.5" height="1"/>
<rect x="228" y="393" width="18.5" height="1"/>
<rect x="229" y="394" width="18.5" height="1"/>
<rect x="230.25" y="395" width="18.5" height="1"/>
<rect x="231.25" y="396" width="18.5" height="1"/>
<rect x="232.5" y="397" width="18.25" height="1"/>
<rect x="233.5" y="398" width="18.5" height="1"/>
<rect x="234.5" y="399" width="18.5" height="1"/>
<rect x="235.75" y="400" width="18.25" height="1"/>
<rect x="236.75" y="401" width="18.5" height="1"/>
<rect x="238" y="402" width="18.25" height="1"/>
<rect x="239" y="403" width="18.5" height="1"/>
<rect x="240.25" y="404" width="18.25" height="1"/>
<rect x="241.25" y="405" width="18.25" height="1"/>
<rect x="242.25" y="406" width="18.5" height="1"/>
<rect x="243.5" y="407" width="18.25" height="1"/>
<rect x="244.5" y="408" width="18.5" height="1"/>
<rect x="245.75" y="409" width="18.25" height="1"/>
<rect x="246.75" y="410" width="18.25" height="1"/>
<rect x="248" y="411" width="18.25" height="1"/>
<rect x="249" y="412" width="18.25" height="1"/>
<rect x="250" y="413" width="18.5" height="1"/>
<rect x="251.25" y="414" width="18.25" height="1"/>
<rect x="252.25" y="415" width="18.25" height="1"/>
<rect x="253.5" y="416" width="18.25" height="1"/>
<rect x="254.5" y="417" width="18.25" height="1"/>
<rect x="255.75" y="418" width="18.25" height="1"/>
<rect x="256.75" y="419" width="18.25" height="1"/>
<rect x="257.75" y="420" width="18.25" height="1"/>
<rect x="259" y="421" width="18.25" height="1"/>
<rect x="260" y="422" width="18.25" height="1"/>
<rect x="261.25" y="423" width="18" height="1"/>
<rect x="262.25" y="424" width="18.25" height="1"/>
<rect x="263.5" y="425" width="18" height="1"/>
<rect x="264.5" y="426" width="18.25" height="1"/>
<rect x="265.5" y="427" width="18.25" height="1"/>
<rect x="266.75" y="428" width="18" height="1"/>
<rect x="267.75" y="429" width="18.25" height="1"/>
<rect x="269" y="430" width="18" height="1"/>
<rect x="270" y="431" width="18.25" height="1"/>
<rect x="271.25" y="432" width="18" height="1"/>
<rect x="272.25" y="433" width="18" height="1"/>
<rect x="273.25" y="434" width="18.25" height="1"/>
<rect x="274.5" y="435" width="18" height="1"/>
<rect x="275.5" y="436" width="18.25" height="1"/>
<rect x="276.75" y="437" width="18" height="1"/>
<rect x="277.75" y="438" width="18" height="1"/>
<rect x="279" y="439" width="18" height="1"/>
<rect x="280" y="440" width="18" height="1"/>
<rect x="281" y="441" width="18" height="1"/>
<rect x="282.25" y="442" width="18" height="1"/>
<rect x="283.25" y="443" width="18" height="1"/>
<rect x="284.5" y="444" width="18" height="1"/>
<rect x="285.5" y="445" width="18" height="1"/>
<rect x="286.75" y="446" width="17.75" height="1"/>
<rect x="287.75" y="447" width="18" height="1"/>
<rect x="288.75" y="448" width="18" height="1"/>
<rect x="290" y="449" width="18" height="1"/>
<rect x="291" y="450" width="18" height="1"/>
<rect x="292.25" y="451" width="17.75" height="1"/>
<rect x="293.25" y="452" width="18" height="1"/>
<rect x="294.5" y="453" width="17.75" height="1"/>
<rect x="295.5" y="454" width="18" height="1"/>
<rect x="296.5" y="455" width="18" height="1"/>
<rect x="297.75" y="456" width="17.75" height="1"/>
<rect x="298.75" y="457" width="18" height="1"/>
<rect x="300" y="458" width="17.75" height="1"/>
<rect x="301" y="459" width="18" height="1"/>
<rect x="302.25" y="460" width="17.75" height="1"/>
<rect x="303.25" y="461" width="17.75" height="1"/>
<rect x="304.5" y="462" width="17.75" height="1"/>
<rect x="305.5" y="463" width="17.75" height="1"/>
<rect x="306.5" y="464" width="17.75" height="1"/>
<rect x="307.75" y="465" width="17.75" height="1"/>
<rect x="308.75" y="466" width="17.75" height="1"/>
<rect x="310" y="467" width="17.75" height="1"/>
<rect x="311" y="468" width="17.75" height="1"/>
<rect x="312.25" y="469" width="17.5" height="1"/>
<rect x="313.25" y="470" width="17.75" height="1"/>
<rect x="314.25" y="471" width="17.75" height="1"/>
<rect x="315.5" y="472" width="17.75" height="1"/>
<rect x="316.5" y="473" width="17.75" height="1"/>
<rect x="317.75" y="474" width="17.5" height="1"/>
<rect x="318.75" y="475" width="17.75" height="1"/>
<rect x="320" y="476" width="17.5" height="1"/>
<rect x="321" y="477" width="17.75" height="1"/>
<rect x="322" y="478" width="17.75" height="1"/>
<rect x="323.25" y="479" width="17.5" height="1"/>
<rect x="324.25" y="480" width="17.75" height="1"/>
<rect x="325.5" y="481" width="17.5" height="1"/>
<rect x="326.5" y="482" width="17.5" height="1"/>
<rect x="327.75" y="483" width="17.5" height="1"/>
<rect x="328.75" y="484" width="17.5" height="1"/>
<rect x="329.75" y="485" width="17.75" height="1"/>
<rect x="331" y="486" width="17.5" height="1"/>
<rect x="332" y="487" width="17.5" height="1"/>
<rect x="333.25" y="488" width="17.5" height="1"/>
<rect x="334.25" y="489" width="17.5" height="1"/>
<rect x="335.5" y="490" width="17.5" height="1"/>
<rect x="336.5" y="491" width="17.5" height="1"/>
<rect x="337.5" y="492" width="17.5" height="1"/>
<rect x="338.75" y="493" width="17.5" height="1"/>
<rect x="339.75" y="494" width="17.5" height="1"/>
<rect x="341" y="495" width="17.5" height="1"/>
<rect x="342" y="496" width="17.5" height="1"/>
<rect x="343.25" y="497" width="17.25" height="1"/>
<rect x="344.25" y="498" width="17.5" height="1"/>
<rect x="345.25" y="499" width="17.5" height="1"/>
<rect x="346.5" y="500" width="17.25" height="1"/>
<rect x="347.5" y="501" width="17.5" height="1"/>
<rect x="348.75" y="502" width="17.25" height="1"/>
<rect x="349.75" y="503" width="17.5" height="1"/>
<rect x="351" y="504" width="17.25" height="1"/>
<rect x="352" y="505" width="17.25" height="1"/>
<rect x="353" y="506" width="17.5" height="1"/>
<rect x="354.25" y="507" width="17.25" height="1"/>
<rect x="355.25" y="508" width="17.5" height="1"/>
</g>
<g fill="url(#b7)">
<rect x="245.25" y="392" width="13.25" height="1"/>
<rect x="246.5" y="393" width="13.25" height="1"/>
<rect x="247.5" y="394" width="13.25" height="1"/>
<rect x="248.75" y="395" width="13.25" height="1"/>
<rect x="249.75" y="396" width="13.25" height="1"/>
<rect x="250.75" y="397" width="13.5" height="1"/>
<rect x="252" y="398" width="13.25" height="1"/>
<rect x="253" y="399" width="13.5" height="1"/>
<rect x="254" y="400" width="13.5" height="1"/>
<rect x="255.25" y="401" width="13.5" height="1"/>
<rect x="256.25" y="402" width="13.5" height="1"/>
<rect x="257.5" y="403" width="13.5" height="1"/>
<rect x="258.5" y="404" width="13.5" height="1"/>
<rect x="259.5" y="405" width="13.75" height="1"/>
<rect x="260.75" y="406" width="13.5" height="1"/>
<rect x="261.75" y="407" width="13.75" height="1"/>
<rect x="263" y="408" width="13.5" height="1"/>
<rect x="264" y="409" width="13.75" height="1"/>
<rect x="265" y="410" width="13.75" height="1"/>
<rect x="266.25" y="411" width="13.75" height="1"/>
<rect x="267.25" y="412" width="13.75" height="1"/>
<rect x="268.5" y="413" width="13.75" height="1"/>
<rect x="269.5" y="414" width="13.75" height="1"/>
<rect x="270.5" y="415" width="14" height="1"/>
<rect x="271.75" y="416" width="13.75" height="1"/>
<rect x="272.75" y="417" width="14" height="1"/>
<rect x="274" y="418" width="13.75" height="1"/>
<rect x="275" y="419" width="14" height="1"/>
<rect x="276" y="420" width="14" height="1"/>
<rect x="277.25" y="421" width="14" height="1"/>
<rect x="278.25" y="422" width="14" height="1"/>
<rect x="279.25" y="423" width="14.25" height="1"/>
<rect x="280.5" y="424" width="14" height="1"/>
<rect x="281.5" y="425" width="14.25" height="1"/>
<rect x="282.75" y="426" width="14" height="1"/>
<rect x="283.75" y="427" width="14.25" height="1"/>
<rect x="284.75" y="428" width="14.25" height="1"/>
<rect x="286" y="429" width="14.25" height="1"/>
<rect x="287" y="430" width="14.25" height="1"/>
<rect x="288.25" y="431" width="14.25" height="1"/>
<rect x="289.25" y="432" width="14.25" height="1"/>
<rect x="290.25" y="433" width="14.5" height="1"/>
<rect x="291.5" y="434" width="14.5" height="1"/>
<rect x="292.5" y="435" width="14.5" height="1"/>
<rect x="293.75" y="436" width="14.5" height="1"/>
<rect x="294.75" y="437" width="14.5" height="1"/>
<rect x="295.75" y="438" width="14.75" height="1"/>
<rect x="297" y="439" width="14.5" height="1"/>
<rect x="298" y="440" width="14.75" height="1"/>
<rect x="299" y="441" width="14.75" height="1"/>
<rect x="300.25" y="442" width="14.75" height="1"/>
<rect x="301.25" y="443" width="14.75" height="1"/>
<rect x="302.5" y="444" width="14.75" height="1"/>
<rect x="303.5" y="445" width="14.75" height="1"/>
<rect x="304.5" y="446" width="15" height="1"/>
<rect x="305.75" y="447" width="14.75" height="1"/>
<rect x="306.75" y="448" width="15" height="1"/>
<rect x="308" y="449" width="14.75" height="1"/>
<rect x="309" y="450" width="15" height="1"/>
<rect x="310" y="451" width="15" height="1"/>
<rect x="311.25" y="452" width="15" height="1"/>
<rect x="312.25" y="453" width="15" height="1"/>
<rect x="313.5" y="454" width="15" height="1"/>
<rect x="314.5" y="455" width="15" height="1"/>
<rect x="315.5" y="456" width="15.25" height="1"/>
<rect x="316.75" y="457" width="15" height="1"/>
<rect x="317.75" y="458" width="15.25" height="1"/>
<rect x="319" y="459" width="15" height="1"/>
<rect x="320" y="460" width="15.25" height="1"/>
<rect x="321" y="461" width="15.25" height="1"/>
<rect x="322.25" y="462" width="15.25" height="1"/>
<rect x="323.25" y="463" width="15.25" height="1"/>
<rect x="324.25" y="464" width="15.5" height="1"/>
<rect x="325.5" y="465" width="15.25" height="1"/>
<rect x="326.5" y="466" width="15.5" height="1"/>
<rect x="327.75" y="467" width="15.25" height="1"/>
<rect x="328.75" y="468" width="15.5" height="1"/>
<rect x="329.75" y="469" width="15.5" height="1"/>
<rect x="331" y="470" width="15.5" height="1"/>
<rect x="332" y="471" width="15.5" height="1"/>
<rect x="333.25" y="472" width="15.5" height="1"/>
<rect x="334.25" y="473" width="15.5" height="1"/>
<rect x="335.25" y="474" width="15.75" height="1"/>
<rect x="336.5" y="475" width="15.5" height="1"/>
<rect x="337.5" y="476" width="15.75" height="1"/>
<rect x="338.75" y="477" width="15.5" height="1"/>
<rect x="339.75" y="478" width="15.75" height="1"/>
<rect x="340.75" y="479" width="15.75" height="1"/>
<rect x="342" y="480" width="15.75" height="1"/>
<rect x="343" y="481" width="15.75" height="1"/>
<rect x="344" y="482" width="16" height="1"/>
<rect x="345.25" y="483" width="15.75" height="1"/>
<rect x="346.25" y="484" width="16" height="1"/>
<rect x="347.5" y="485" width="15.75" height="1"/>
<rect x="348.5" y="486" width="16" height="1"/>
<rect x="349.5" y="487" width="16" height="1"/>
<rect x="350.75" y="488" width="16" height="1"/>
<rect x="351.75" y="489" width="16" height="1"/>
<rect x="353" y="490" width="16" height="1"/>
<rect x="354" y="491" width="16" height="1"/>
<rect x="355" y="492" width="16.25" height="1"/>
<rect x="356.25" y="493" width="16" height="1"/>
</g>
<g fill="url(#b8)">
<rect x="258.5" y="392" width="21.25" height="1"/>
<rect x="259.75" y="393" width="21.25" height="1"/>
<rect x="260.75" y="394" width="21.5" height="1"/>
<rect x="262" y="395" width="21.5" height="1"/>
<rect x="263" y="396" width="21.75" height="1"/>
<rect x="264.25" y="397" width="21.75" height="1"/>
<rect x="265.25" y="398" width="22" height="1"/>
<rect x="266.5" y="399" width="22" height="1"/>
<rect x="267.5" y="400" width="22.25" height="1"/>
<rect x="268.75" y="401" width="22.25" height="1"/>
<rect x="269.75" y="402" width="22.5" height="1"/>
<rect x="271" y="403" width="22.5" height="1"/>
<rect x="272" y="404" width="22.75" height="1"/>
<rect x="273.25" y="405" width="22.75" height="1"/>
<rect x="274.25" y="406" width="23" height="1"/>
<rect x="275.5" y="407" width="23" height="1"/>
<rect x="276.5" y="408" width="23.25" height="1"/>
<rect x="277.75" y="409" width="23.25" height="1"/>
<rect x="278.75" y="410" width="23.5" height="1"/>
<rect x="280" y="411" width="23.5" height="1"/>
<rect x="281" y="412" width="23.75" height="1"/>
<rect x="282.25" y="413" width="23.75" height="1"/>
<rect x="283.25" y="414" width="24" height="1"/>
<rect x="284.5" y="415" width="24" height="1"/>
<rect x="285.5" y="416" width="24.25" height="1"/>
<rect x="286.75" y="417" width="24.25" height="1"/>
<rect x="287.75" y="418" width="24.5" height="1"/>
<rect x="289" y="419" width="24.5" height="1"/>
<rect x="290" y="420" width="24.75" height="1"/>
<rect x="291.25" y="421" width="24.75" height="1"/>
<rect x="292.25" y="422" width="25" height="1"/>
<rect x="293.5" y="423" width="25" height="1"/>
<rect x="294.5" y="424" width="25.25" height="1"/>
<rect x="295.75" y="425" width="25.25" height="1"/>
<rect x="296.75" y="426" width="25.5" height="1"/>
<rect x="298" y="427" width="25.5" height="1"/>
<rect x="299" y="428" width="25.75" height="1"/>
<rect x="300.25" y="429" width="25.75" height="1"/>
<rect x="301.25" y="430" width="26" height="1"/>
<rect x="302.5" y="431" width="26" height="1"/>
<rect x="303.5" y="432" width="26.25" height="1"/>
<rect x="304.75" y="433" width="26.25" height="1"/>
<rect x="306" y="434" width="26.25" height="1"/>
<rect x="307" y="435" width="26.75" height="1"/>
<rect x="308.25" y="436" width="26.75" height="1"/>
<rect x="309.25" y="437" width="27" height="1"/>
<rect x="310.5" y="438" width="27" height="1"/>
<rect x="311.5" y="439" width="27.25" height="1"/>
<rect x="312.75" y="440" width="27.25" height="1"/>
<rect x="313.75" y="441" width="27.5" height="1"/>
<rect x="315" y="442" width="27.5" height="1"/>
<rect x="316" y="443" width="27.75" height="1"/>
<rect x="317.25" y="444" width="27.75" height="1"/>
<rect x="318.25" y="445" width="28" height="1"/>
<rect x="319.5" y="446" width="28" height="1"/>
<rect x="320.5" y="447" width="28.25" height="1"/>
<rect x="321.75" y="448" width="28.25" height="1"/>
<rect x="322.75" y="449" width="28.5" height="1"/>
<rect x="324" y="450" width="28.5" height="1"/>
<rect x="325" y="451" width="28.75" height="1"/>
<rect x="326.25" y="452" width="28.75" height="1"/>
<rect x="327.25" y="453" width="29" height="1"/>
<rect x="328.5" y="454" width="29" height="1"/>
<rect x="329.5" y="455" width="29.25" height="1"/>
<rect x="330.75" y="456" width="29.25" height="1"/>
<rect x="331.75" y="457" width="29.5" height="1"/>
<rect x="333" y="458" width="29.5" height="1"/>
<rect x="334" y="459" width="29.75" height="1"/>
<rect x="335.25" y="460" width="29.75" height="1"/>
<rect x="336.25" y="461" width="30" height="1"/>
<rect x="337.5" y="462" width="30" height="1"/>
<rect x="338.5" y="463" width="30.25" height="1"/>
<rect x="339.75" y="464" width="30.25" height="1"/>
<rect x="340.75" y="465" width="30.5" height="1"/>
<rect x="342" y="466" width="30.5" height="1"/>
<rect x="343" y="467" width="30.75" height="1"/>
<rect x="344.25" y="468" width="30.75" height="1"/>
<rect x="345.25" y="469" width="31" height="1"/>
<rect x="346.5" y="470" width="31" height="1"/>
<rect x="347.5" y="471" width="31.25" height="1"/>
<rect x="348.75" y="472" width="31.25" height="1"/>
<rect x="349.75" y="473" width="31.5" height="1"/>
<rect x="351" y="474" width="31.5" height="1"/>
<rect x="352" y="475" width="31.75" height="1"/>
<rect x="353.25" y="476" width="31.75" height="1"/>
<rect x="354.25" y="477" width="32" height="1"/>
<rect x="355.5" y="478" width="32" height="1"/>
</g>
<g fill="#073a5e">
<rect x="279.75" y="392" width="77.25" height="1"/>
<rect x="281" y="393" width="76" height="1"/>
<rect x="282.25" y="394" width="74.75" height="1"/>
<rect x="283.5" y="395" width="73.5" height="1"/>
<rect x="284.75" y="396" width="72.25" height="1"/>
<rect x="286" y="397" width="71" height="1"/>
<rect x="287.25" y="398" width="69.75" height="1"/>
<rect x="288.5" y="399" width="68.5" height="1"/>
<rect x="289.75" y="400" width="67.25" height="1"/>
<rect x="291" y="401" width="66" height="1"/>
<rect x="292.25" y="402" width="64.75" height="1"/>
<rect x="293.5" y="403" width="63.5" height="1"/>
<rect x="294.75" y="404" width="62.25" height="1"/>
<rect x="296" y="405" width="61" height="1"/>
<rect x="297.25" y="406" width="59.75" height="1"/>
<rect x="298.5" y="407" width="58.5" height="1"/>
<rect x="299.75" y="408" width="57.25" height="1"/>
<rect x="301" y="409" width="56" height="1"/>
<rect x="302.25" y="410" width="54.75" height="1"/>
<rect x="303.5" y="411" width="53.5" height="1"/>
<rect x="304.75" y="412" width="52.25" height="1"/>
<rect x="306" y="413" width="51" height="1"/>
<rect x="307.25" y="414" width="49.75" height="1"/>
<rect x="308.5" y="415" width="48.5" height="1"/>
<rect x="309.75" y="416" width="47.25" height="1"/>
<rect x="311" y="417" width="46" height="1"/>
<rect x="312.25" y="418" width="44.75" height="1"/>
<rect x="313.5" y="419" width="43.5" height="1"/>
<rect x="314.75" y="420" width="42.25" height="1"/>
<rect x="316" y="421" width="41" height="1"/>
<rect x="317.25" y="422" width="39.75" height="1"/>
<rect x="318.5" y="423" width="38.5" height="1"/>
<rect x="319.75" y="424" width="37.25" height="1"/>
<rect x="321" y="425" width="36" height="1"/>
<rect x="322.25" y="426" width="34.75" height="1"/>
<rect x="323.5" y="427" width="33.5" height="1"/>
<rect x="324.75" y="428" width="32.25" height="1"/>
<rect x="326" y="429" width="31" height="1"/>
<rect x="327.25" y="430" width="29.75" height="1"/>
<rect x="328.5" y="431" width="28.5" height="1"/>
<rect x="329.75" y="432" width="27.25" height="1"/>
<rect x="331" y="433" width="26" height="1"/>
<rect x="332.25" y="434" width="24.75" height="1"/>
<rect x="333.75" y="435" width="23.25" height="1"/>
<rect x="335" y="436" width="22" height="1"/>
<rect x="336.25" y="437" width="20.75" height="1"/>
<rect x="337.5" y="438" width="19.5" height="1"/>
<rect x="338.75" y="439" width="18.25" height="1"/>
<rect x="340" y="440" width="17" height="1"/>
<rect x="341.25" y="441" width="15.75" height="1"/>
<rect x="342.5" y="442" width="14.5" height="1"/>
<rect x="343.75" y="443" width="13.25" height="1"/>
<rect x="345" y="444" width="12" height="1"/>
<rect x="346.25" y="445" width="10.75" height="1"/>
<rect x="347.5" y="446" width="9.5" height="1"/>
<rect x="348.75" y="447" width="8.25" height="1"/>
<rect x="350" y="448" width="7" height="1"/>
<rect x="351.25" y="449" width="5.75" height="1"/>
<rect x="352.5" y="450" width="4.5" height="1"/>
<rect x="353.75" y="451" width="3.25" height="1"/>
<rect x="355" y="452" width="2" height="1"/>
</g>
<g fill="url(#b9)">
<rect x="204.5" y="439" width="19.75" height="1"/>
<rect x="205.5" y="440" width="20" height="1"/>
<rect x="206.5" y="441" width="20.25" height="1"/>
<rect x="207.5" y="442" width="20.5" height="1"/>
<rect x="208.5" y="443" width="20.75" height="1"/>
<rect x="209.5" y="444" width="21" height="1"/>
<rect x="210.5" y="445" width="21.5" height="1"/>
<rect x="211.5" y="446" width="21.75" height="1"/>
<rect x="212.5" y="447" width="22" height="1"/>
<rect x="213.5" y="448" width="22.25" height="1"/>
<rect x="214.5" y="449" width="22.5" height="1"/>
<rect x="215.5" y="450" width="22.75" height="1"/>
<rect x="216.5" y="451" width="23" height="1"/>
<rect x="217.5" y="452" width="23.25" height="1"/>
<rect x="218.5" y="453" width="23.75" height="1"/>
<rect x="219.5" y="454" width="24" height="1"/>
<rect x="220.5" y="455" width="24.25" height="1"/>
<rect x="221.5" y="456" width="24.5" height="1"/>
<rect x="222.5" y="457" width="24.75" height="1"/>
<rect x="223.5" y="458" width="25" height="1"/>
<rect x="224.5" y="459" width="25.25" height="1"/>
<rect x="225.5" y="460" width="25.5" height="1"/>
<rect x="226.5" y="461" width="25.75" height="1"/>
<rect x="227.5" y="462" width="26.25" height="1"/>
<rect x="228.5" y="463" width="26.5" height="1"/>
<rect x="229.5" y="464" width="26.75" height="1"/>
<rect x="230.5" y="465" width="27" height="1"/>
<rect x="231.5" y="466" width="27.25" height="1"/>
<rect x="232.5" y="467" width="27.5" height="1"/>
<rect x="233.5" y="468" width="27.75" height="1"/>
<rect x="234.5" y="469" width="28" height="1"/>
<rect x="235.5" y="470" width="28.5" height="1"/>
<rect x="236.5" y="471" width="28.75" height="1"/>
<rect x="237.5" y="472" width="29" height="1"/>
<rect x="238.5" y="473" width="29.25" height="1"/>
<rect x="239.5" y="474" width="29.5" height="1"/>
<rect x="240.5" y="475" width="29.75" height="1"/>
<rect x="241.5" y="476" width="30" height="1"/>
<rect x="242.5" y="477" width="30.25" height="1"/>
<rect x="243.5" y="478" width="30.75" height="1"/>
<rect x="244.5" y="479" width="31" height="1"/>
<rect x="245.5" y="480" width="31.25" height="1"/>
<rect x="246.5" y="481" width="31.5" height="1"/>
<rect x="247.5" y="482" width="31.75" height="1"/>
<rect x="248.5" y="483" width="32" height="1"/>
<rect x="249.5" y="484" width="32.25" height="1"/>
<rect x="250.5" y="485" width="32.5" height="1"/>
<rect x="251.5" y="486" width="32.75" height="1"/>
<rect x="252.5" y="487" width="33.25" height="1"/>
<rect x="253.5" y="488" width="33.5" height="1"/>
<rect x="254.5" y="489" width="33.75" height="1"/>
<rect x="255.5" y="490" width="34" height="1"/>
<rect x="256.5" y="491" width="34.25" height="1"/>
<rect x="257.5" y="492" width="34.5" height="1"/>
<rect x="258.5" y="493" width="34.75" height="1"/>
<rect x="259.5" y="494" width="35" height="1"/>
<rect x="260.5" y="495" width="35.5" height="1"/>
<rect x="261.5" y="496" width="35.75" height="1"/>
<rect x="262.5" y="497" width="36" height="1"/>
<rect x="263.5" y="498" width="36.25" height="1"/>
<rect x="264.5" y="499" width="36.5" height="1"/>
<rect x="265.5" y="500" width="36.75" height="1"/>
<rect x="266.5" y="501" width="37" height="1"/>
<rect x="267.5" y="502" width="37.25" height="1"/>
<rect x="268.5" y="503" width="37.5" height="1"/>
<rect x="269.5" y="504" width="38" height="1"/>
<rect x="270.5" y="505" width="38.25" height="1"/>
<rect x="271.5" y="506" width="38.5" height="1"/>
<rect x="272.5" y="507" width="38.75" height="1"/>
<rect x="273.5" y="508" width="39" height="1"/>
<rect x="274.5" y="509" width="39.25" height="1"/>
<rect x="275.5" y="510" width="39.5" height="1"/>
<rect x="276.5" y="511" width="39.75" height="1"/>
<rect x="277.5" y="512" width="40.25" height="1"/>
<rect x="278.5" y="513" width="40.5" height="1"/>
<rect x="279.5" y="514" width="40.75" height="1"/>
<rect x="280.5" y="515" width="41" height="1"/>
<rect x="281.5" y="516" width="41.25" height="1"/>
<rect x="282.5" y="517" width="41.5" height="1"/>
<rect x="283.5" y="518" width="41.75" height="1"/>
<rect x="284.5" y="519" width="42" height="1"/>
<rect x="285.5" y="520" width="42.5" height="1"/>
<rect x="286.5" y="521" width="42.75" height="1"/>
<rect x="287.5" y="522" width="43" height="1"/>
<rect x="288.5" y="523" width="43.25" height="1"/>
<rect x="289.5" y="524" width="43.5" height="1"/>
<rect x="290.5" y="525" width="43.75" height="1"/>
<rect x="291.5" y="526" width="44" height="1"/>
</g>
<g fill="url(#b15)">
<rect x="213" y="459" width="11.5" height="1"/>
<rect x="214" y="460" width="11.5" height="1"/>
<rect x="215" y="461" width="11.5" height="1"/>
<rect x="216" y="462" width="11.5" height="1"/>
<rect x="217" y="463" width="11.5" height="1"/>
<rect x="218" y="464" width="11.5" height="1"/>
<rect x="219" y="465" width="11.5" height="1"/>
<rect x="220" y="466" width="11.5" height="1"/>
<rect x="221" y="467" width="11.5" height="1"/>
<rect x="222" y="468" width="11.5" height="1"/>
<rect x="223" y="469" width="11.5" height="1"/>
<rect x="224" y="470" width="11.5" height="1"/>
<rect x="225" y="471" width="11.5" height="1"/>
<rect x="226" y="472" width="11.5" height="1"/>
<rect x="227" y="473" width="11.5" height="1"/>
<rect x="228" y="474" width="11.5" height="1"/>
<rect x="229" y="475" width="11.5" height="1"/>
<rect x="230" y="476" width="11.5" height="1"/>
<rect x="231" y="477" width="11.5" height="1"/>
<rect x="232" y="478" width="11.5" height="1"/>
<rect x="233" y="479" width="11.5" height="1"/>
<rect x="234" y="480" width="11.5" height="1"/>
<rect x="235" y="481" width="11.5" height="1"/>
<rect x="236" y="482" width="11.5" height="1"/>
<rect x="237" y="483" width="11.5" height="1"/>
<rect x="238" y="484" width="11.5" height="1"/>
<rect x="239" y="485" width="11.5" height="1"/>
<rect x="240" y="486" width="11.5" height="1"/>
<rect x="241" y="487" width="11.5" height="1"/>
<rect x="242" y="488" width="11.5" height="1"/>
<rect x="243" y="489" width="11.5" height="1"/>
<rect x="244" y="490" width="11.5" height="1"/>
<rect x="245" y="491" width="11.5" height="1"/>
<rect x="246" y="492" width="11.5" height="1"/>
<rect x="247" y="493" width="11.5" height="1"/>
<rect x="248" y="494" width="11.5" height="1"/>
<rect x="249" y="495" width="11.5" height="1"/>
<rect x="250" y="496" width="11.5" height="1"/>
<rect x="251" y="497" width="11.5" height="1"/>
<rect x="252" y="498" width="11.5" height="1"/>
<rect x="253" y="499" width="11.5" height="1"/>
<rect x="254" y="500" width="11.5" height="1"/>
<rect x="255" y="501" width="11.5" height="1"/>
<rect x="256.25" y="502" width="11.25" height="1"/>
<rect x="257.25" y="503" width="11.25" height="1"/>
<rect x="258.25" y="504" width="11.25" height="1"/>
<rect x="259.25" y="505" width="11.25" height="1"/>
<rect x="260.25" y="506" width="11.25" height="1"/>
<rect x="261.25" y="507" width="11.25" height="1"/>
<rect x="262.25" y="508" width="11.25" height="1"/>
<rect x="263.25" y="509" width="11.25" height="1"/>
<rect x="264.25" y="510" width="11.25" height="1"/>
<rect x="265.25" y="511" width="11.25" height="1"/>
<rect x="266.25" y="512" width="11.25" height="1"/>
<rect x="267.25" y="513" width="11.25" height="1"/>
<rect x="268.25" y="514" width="11.25" height="1"/>
<rect x="269.25" y="515" width="11.25" height="1"/>
<rect x="270.25" y="516" width="11.25" height="1"/>
<rect x="271.25" y="517" width="11.25" height="1"/>
<rect x="272.25" y="518" width="11.25" height="1"/>
<rect x="273.25" y="519" width="11.25" height="1"/>
<rect x="274.25" y="520" width="11.25" height="1"/>
<rect x="275.25" y="521" width="11.25" height="1"/>
<rect x="276.25" y="522" width="11.25" height="1"/>
<rect x="277.25" y="523" width="11.25" height="1"/>
<rect x="278.25" y="524" width="11.25" height="1"/>
<rect x="279.25" y="525" width="11.25" height="1"/>
<rect x="280.25" y="526" width="11.25" height="1"/>
</g>
<g fill="url(#b16)">
<rect x="213.75" y="470" width="10.25" height="1"/>
<rect x="214.75" y="471" width="10.25" height="1"/>
<rect x="215.5" y="472" width="10.5" height="1"/>
<rect x="216.5" y="473" width="10.5" height="1"/>
<rect x="217.5" y="474" width="10.5" height="1"/>
<rect x="218.5" y="475" width="10.5" height="1"/>
<rect x="219.5" y="476" width="10.5" height="1"/>
<rect x="220.25" y="477" width="10.75" height="1"/>
<rect x="221.25" y="478" width="10.75" height="1"/>
<rect x="222.25" y="479" width="10.75" height="1"/>
<rect x="223.25" y="480" width="10.75" height="1"/>
<rect x="224.25" y="481" width="10.75" height="1"/>
<rect x="225.25" y="482" width="10.75" height="1"/>
<rect x="226" y="483" width="11" height="1"/>
<rect x="227" y="484" width="11" height="1"/>
<rect x="228" y="485" width="11" height="1"/>
<rect x="229" y="486" width="11" height="1"/>
<rect x="230" y="487" width="11" height="1"/>
<rect x="230.75" y="488" width="11.25" height="1"/>
<rect x="231.75" y="489" width="11.25" height="1"/>
<rect x="232.75" y="490" width="11.25" height="1"/>
<rect x="233.75" y="491" width="11.25" height="1"/>
<rect x="234.75" y="492" width="11.25" height="1"/>
<rect x="235.5" y="493" width="11.5" height="1"/>
<rect x="236.5" y="494" width="11.5" height="1"/>
<rect x="237.5" y="495" width="11.5" height="1"/>
<rect x="238.5" y="496" width="11.5" height="1"/>
<rect x="239.5" y="497" width="11.5" height="1"/>
<rect x="240.5" y="498" width="11.5" height="1"/>
<rect x="241.25" y="499" width="11.75" height="1"/>
<rect x="242.25" y="500" width="11.75" height="1"/>
<rect x="243.25" y="501" width="11.75" height="1"/>
<rect x="244.25" y="502" width="12" height="1"/>
<rect x="245.25" y="503" width="12" height="1"/>
<rect x="246" y="504" width="12.25" height="1"/>
<rect x="247" y="505" width="12.25" height="1"/>
<rect x="248" y="506" width="12.25" height="1"/>
<rect x="249" y="507" width="12.25" height="1"/>
<rect x="250" y="508" width="12.25" height="1"/>
<rect x="250.75" y="509" width="12.5" height="1"/>
<rect x="251.75" y="510" width="12.5" height="1"/>
<rect x="252.75" y="511" width="12.5" height="1"/>
<rect x="253.75" y="512" width="12.5" height="1"/>
<rect x="254.75" y="513" width="12.5" height="1"/>
<rect x="255.75" y="514" width="12.5" height="1"/>
<rect x="256.5" y="515" width="12.75" height="1"/>
<rect x="257.5" y="516" width="12.75" height="1"/>
<rect x="258.5" y="517" width="12.75" height="1"/>
<rect x="259.5" y="518" width="12.75" height="1"/>
<rect x="260.5" y="519" width="12.75" height="1"/>
<rect x="261.25" y="520" width="13" height="1"/>
<rect x="262.25" y="521" width="13" height="1"/>
<rect x="263.25" y="522" width="13" height="1"/>
<rect x="264.25" y="523" width="13" height="1"/>
<rect x="265.25" y="524" width="13" height="1"/>
<rect x="266.25" y="525" width="13" height="1"/>
<rect x="267" y="526" width="13.25" height="1"/>
</g>
<g fill="url(#b11)">
<rect x="214.75" y="481" width="9.5" height="1"/>
<rect x="215.75" y="482" width="9.5" height="1"/>
<rect x="216.75" y="483" width="9.25" height="1"/>
<rect x="217.5" y="484" width="9.5" height="1"/>
<rect x="218.5" y="485" width="9.5" height="1"/>
<rect x="219.5" y="486" width="9.5" height="1"/>
<rect x="220.25" y="487" width="9.75" height="1"/>
<rect x="221.25" y="488" width="9.5" height="1"/>
<rect x="222.25" y="489" width="9.5" height="1"/>
<rect x="223.25" y="490" width="9.5" height="1"/>
<rect x="224" y="491" width="9.75" height="1"/>
<rect x="225" y="492" width="9.75" height="1"/>
<rect x="226" y="493" width="9.5" height="1"/>
<rect x="226.75" y="494" width="9.75" height="1"/>
<rect x="227.75" y="495" width="9.75" height="1"/>
<rect x="228.75" y="496" width="9.75" height="1"/>
<rect x="229.5" y="497" width="10" height="1"/>
<rect x="230.5" y="498" width="10" height="1"/>
<rect x="231.5" y="499" width="9.75" height="1"/>
<rect x="232.5" y="500" width="9.75" height="1"/>
<rect x="233.25" y="501" width="10" height="1"/>
<rect x="234.25" y="502" width="10" height="1"/>
<rect x="235.25" y="503" width="10" height="1"/>
<rect x="236" y="504" width="10" height="1"/>
<rect x="237" y="505" width="10" height="1"/>
<rect x="238" y="506" width="10" height="1"/>
<rect x="239" y="507" width="10" height="1"/>
<rect x="239.75" y="508" width="10.25" height="1"/>
<rect x="240.75" y="509" width="10" height="1"/>
<rect x="241.75" y="510" width="10" height="1"/>
<rect x="242.5" y="511" width="10.25" height="1"/>
<rect x="243.5" y="512" width="10.25" height="1"/>
<rect x="244.5" y="513" width="10.25" height="1"/>
<rect x="245.5" y="514" width="10.25" height="1"/>
<rect x="246.25" y="515" width="10.25" height="1"/>
<rect x="247.25" y="516" width="10.25" height="1"/>
<rect x="248.25" y="517" width="10.25" height="1"/>
<rect x="249" y="518" width="10.5" height="1"/>
<rect x="250" y="519" width="10.5" height="1"/>
<rect x="251" y="520" width="10.25" height="1"/>
<rect x="252" y="521" width="10.25" height="1"/>
<rect x="252.75" y="522" width="10.5" height="1"/>
<rect x="253.75" y="523" width="10.5" height="1"/>
<rect x="254.75" y="524" width="10.5" height="1"/>
<rect x="255.5" y="525" width="10.75" height="1"/>
<rect x="256.5" y="526" width="10.5" height="1"/>
</g>
<g fill="url(#b17)">
<rect x="206" y="491" width="18" height="1"/>
<rect x="207" y="492" width="18" height="1"/>
<rect x="208" y="493" width="18" height="1"/>
<rect x="209" y="494" width="17.75" height="1"/>
<rect x="210" y="495" width="17.75" height="1"/>
<rect x="211" y="496" width="17.75" height="1"/>
<rect x="212" y="497" width="17.5" height="1"/>
<rect x="212.75" y="498" width="17.75" height="1"/>
<rect x="213.75" y="499" width="17.75" height="1"/>
<rect x="214.75" y="500" width="17.75" height="1"/>
<rect x="215.75" y="501" width="17.5" height="1"/>
<rect x="216.75" y="502" width="17.5" height="1"/>
<rect x="217.75" y="503" width="17.5" height="1"/>
<rect x="218.75" y="504" width="17.25" height="1"/>
<rect x="219.75" y="505" width="17.25" height="1"/>
<rect x="220.5" y="506" width="17.5" height="1"/>
<rect x="221.5" y="507" width="17.5" height="1"/>
<rect x="222.5" y="508" width="17.25" height="1"/>
<rect x="223.5" y="509" width="17.25" height="1"/>
<rect x="224.5" y="510" width="17.25" height="1"/>
<rect x="225.5" y="511" width="17" height="1"/>
<rect x="226.5" y="512" width="17" height="1"/>
<rect x="227.5" y="513" width="17" height="1"/>
<rect x="228.25" y="514" width="17.25" height="1"/>
<rect x="229.25" y="515" width="17" height="1"/>
<rect x="230.25" y="516" width="17" height="1"/>
<rect x="231.25" y="517" width="17" height="1"/>
<rect x="232.25" y="518" width="16.75" height="1"/>
<rect x="233.25" y="519" width="16.75" height="1"/>
<rect x="234.25" y="520" width="16.75" height="1"/>
<rect x="235.25" y="521" width="16.75" height="1"/>
<rect x="236.25" y="522" width="16.5" height="1"/>
<rect x="237" y="523" width="16.75" height="1"/>
<rect x="238" y="524" width="16.75" height="1"/>
<rect x="239" y="525" width="16.5" height="1"/>
<rect x="240" y="526" width="16.5" height="1"/>
</g>
<g fill="url(#b14)">
<rect x="213.25" y="510" width="11.25" height="1"/>
<rect x="214.25" y="511" width="11.25" height="1"/>
<rect x="215.5" y="512" width="11" height="1"/>
<rect x="216.5" y="513" width="11" height="1"/>
<rect x="217.75" y="514" width="10.5" height="1"/>
<rect x="218.75" y="515" width="10.5" height="1"/>
<rect x="220" y="516" width="10.25" height="1"/>
<rect x="221" y="517" width="10.25" height="1"/>
<rect x="222.25" y="518" width="10" height="1"/>
<rect x="223.5" y="519" width="9.75" height="1"/>
<rect x="224.5" y="520" width="9.75" height="1"/>
<rect x="225.75" y="521" width="9.5" height="1"/>
<rect x="226.75" y="522" width="9.5" height="1"/>
<rect x="228" y="523" width="9" height="1"/>
<rect x="229" y="524" width="9" height="1"/>
<rect x="230.25" y="525" width="8.75" height="1"/>
<rect x="231.25" y="526" width="8.75" height="1"/>
</g>
<g fill="#45107a">
<rect x="223" y="520" width="1.5" height="1"/>
<rect x="223" y="521" width="2.75" height="1"/>
<rect x="223" y="522" width="3.75" height="1"/>
<rect x="223" y="523" width="5" height="1"/>
<rect x="223" y="524" width="6" height="1"/>
<rect x="223" y="525" width="7.25" height="1"/>
<rect x="223" y="526" width="8.25" height="1"/>
</g>
</g>
<path class="d" d="M224 475.5H356 M224 497.8H356"/>
<text class="w" x="227.2" y="469">RFS</text>
<text class="w" x="227.2" y="490.7">MFS</text>
<text class="w" x="228.2" y="512.2">FFS</text>
<text class="t" x="290" y="390">Pogson</text>
<text class="k" text-anchor="end" x="220.7" y="396">0.75</text>
<text class="k" text-anchor="end" x="220.7" y="463.35">0.25</text>
<text class="k" text-anchor="end" x="220.7" y="530.7">-0.25</text>
<text class="k" text-anchor="middle" x="224" y="539.1">2.5</text>
<text class="k" text-anchor="middle" x="290" y="539.1">5</text>
<text class="k" text-anchor="middle" x="356" y="539.1">7.5</text>
<text class="l" x="290" y="550.8">speed (m/s)</text>
<text class="l" transform="translate(195.4 459.05) rotate(-90)">foot strike angle (rad)</text>
<clipPath id="c8"><rect x="401.6" y="392.3" width="132" height="134.7"/></clipPath>
<g class="r" clip-path="url(#c8)" shape-rendering="crispEdges">
<g fill="url(#b6)">
<rect x="366.25" y="392" width="37" height="1"/>
<rect x="367.75" y="393" width="36.75" height="1"/>
<rect x="369.25" y="394" width="36.75" height="1"/>
<rect x="370.75" y="395" width="36.75" height="1"/>
<rect x="372.25" y="396" width="36.5" height="1"/>
<rect x="373.75" y="397" width="36.5" height="1"/>
<rect x="375.5" y="398" width="36.25" height="1"/>
<rect x="377" y="399" width="36" height="1"/>
<rect x="378.5" y="400" width="36" height="1"/>
<rect x="380" y="401" width="36" height="1"/>
<rect x="381.5" y="402" width="35.75" height="1"/>
<rect x="383" y="403" width="35.75" height="1"/>
<rect x="384.5" y="404" width="35.75" height="1"/>
<rect x="386" y="405" width="35.5" height="1"/>
<rect x="387.5" y="406" width="35.5" height="1"/>
<rect x="389" y="407" width="35.25" height="1"/>
<rect x="390.5" y="408" width="35.25" height="1"/>
<rect x="392" y="409" width="35.25" height="1"/>
<rect x="393.5" y="410" width="35" height="1"/>
<rect x="395" y="411" width="35" height="1"/>
<rect x="396.75" y="412" width="34.75" height="1"/>
<rect x="398.25" y="413" width="34.5" height="1"/>
<rect x="399.75" y="414" width="34.5" height="1"/>
<rect x="401.25" y="415" width="34.5" height="1"/>
<rect x="402.75" y="416" width="34.25" height="1"/>
<rect x="404.25" y="417" width="34.25" height="1"/>
<rect x="405.75" y="418" width="34.25" height="1"/>
<rect x="407.25" y="419" width="34" height="1"/>
<rect x="408.75" y="420" width="34" height="1"/>
<rect x="410.25" y="421" width="34" height="1"/>
<rect x="411.75" y="422" width="33.75" height="1"/>
<rect x="413.25" y="423" width="33.75" height="1"/>
<rect x="414.75" y="424" width="33.5" height="1"/>
<rect x="416.5" y="425" width="33.25" height="1"/>
<rect x="418" y="426" width="33.25" height="1"/>
<rect x="419.5" y="427" width="33" height="1"/>
<rect x="421" y="428" width="33" height="1"/>
<rect x="422.5" y="429" width="33" height="1"/>
<rect x="424" y="430" width="32.75" height="1"/>
<rect x="425.5" y="431" width="32.75" height="1"/>
<rect x="427" y="432" width="32.75" height="1"/>
<rect x="428.5" y="433" width="32.5" height="1"/>
<rect x="430" y="434" width="32.5" height="1"/>
<rect x="431.5" y="435" width="32.5" height="1"/>
<rect x="433" y="436" width="32.25" height="1"/>
<rect x="434.5" y="437" width="32.25" height="1"/>
<rect x="436.25" y="438" width="31.75" height="1"/>
<rect x="437.75" y="439" width="31.75" height="1"/>
<rect x="439.25" y="440" width="31.75" height="1"/>
<rect x="440.75" y="441" width="31.5" height="1"/>
<rect x="442.25" y="442" width="31.5" height="1"/>
<rect x="443.75" y="443" width="31.5" height="1"/>
<rect x="445.25" y="444" width="31.25" height="1"/>
<rect x="446.75" y="445" width="31.25" height="1"/>
<rect x="448.25" y="446" width="31.25" height="1"/>
<rect x="449.75" y="447" width="31" height="1"/>
<rect x="451.25" y="448" width="31" height="1"/>
<rect x="452.75" y="449" width="31" height="1"/>
<rect x="454.25" y="450" width="30.75" height="1"/>
<rect x="456" y="451" width="30.5" height="1"/>
<rect x="457.5" y="452" width="30.25" height="1"/>
<rect x="459" y="453" width="30.25" height="1"/>
<rect x="460.5" y="454" width="30.25" height="1"/>
<rect x="462" y="455" width="30" height="1"/>
<rect x="463.5" y="456" width="30" height="1"/>
<rect x="465" y="457" width="30" height="1"/>
<rect x="466.5" y="458" width="29.75" height="1"/>
<rect x="468" y="459" width="29.75" height="1"/>
<rect x="469.5" y="460" width="29.75" height="1"/>
<rect x="471" y="461" width="29.5" height="1"/>
<rect x="472.5" y="462" width="29.5" height="1"/>
<rect x="474" y="463" width="29.5" height="1"/>
<rect x="475.75" y="464" width="29" height="1"/>
<rect x="477.25" y="465" width="29" height="1"/>
<rect x="478.75" y="466" width="29" height="1"/>
<rect x="480.25" y="467" width="28.75" height="1"/>
<rect x="481.75" y="468" width="28.75" height="1"/>
<rect x="483.25" y="469" width="28.5" height="1"/>
<rect x="484.75" y="470" width="28.5" height="1"/>
<rect x="486.25" y="471" width="28.5" height="1"/>
<rect x="487.75" y="472" width="28.25" height="1"/>
<rect x="489.25" y="473" width="28.25" height="1"/>
<rect x="490.75" y="474" width="28.25" height="1"/>
<rect x="492.25" y="475" width="28" height="1"/>
<rect x="493.75" y="476" width="28" height="1"/>
<rect x="495.25" y="477" width="28" height="1"/>
<rect x="497" y="478" width="27.5" height="1"/>
<rect x="498.5" y="479" width="27.5" height="1"/>
<rect x="500" y="480" width="27.5" height="1"/>
<rect x="501.5" y="481" width="27.25" height="1"/>
<rect x="503" y="482" width="27.25" height="1"/>
<rect x="504.5" y="483" width="27" height="1"/>
<rect x="506" y="484" width="27" height="1"/>
<rect x="507.5" y="485" width="27" height="1"/>
<rect x="509" y="486" width="26.75" height="1"/>
<rect x="510.5" y="487" width="26.75" height="1"/>
<rect x="512" y="488" width="26.75" height="1"/>
<rect x="513.5" y="489" width="26.5" height="1"/>
<rect x="515" y="490" width="26.5" height="1"/>
<rect x="516.75" y="491" width="26.25" height="1"/>
<rect x="518.25" y="492" width="26" height="1"/>
<rect x="519.75" y="493" width="26" height="1"/>
<rect x="521.25" y="494" width="26" height="1"/>
<rect x="522.75" y="495" width="25.75" height="1"/>
<rect x="524.25" y="496" width="25.75" height="1"/>
<rect x="525.75" y="497" width="25.5" height="1"/>
<rect x="527.25" y="498" width="25.5" height="1"/>
<rect x="528.75" y="499" width="25.5" height="1"/>
<rect x="530.25" y="500" width="25.25" height="1"/>
<rect x="531.75" y="501" width="25.25" height="1"/>
<rect x="533.25" y="502" width="25.25" height="1"/>
</g>
<g fill="url(#b7)">
<rect x="403.25" y="392" width="18.5" height="1"/>
<rect x="404.5" y="393" width="18.5" height="1"/>
<rect x="406" y="394" width="18.5" height="1"/>
<rect x="407.5" y="395" width="18.5" height="1"/>
<rect x="408.75" y="396" width="18.5" height="1"/>
<rect x="410.25" y="397" width="18.5" height="1"/>
<rect x="411.75" y="398" width="18.5" height="1"/>
<rect x="413" y="399" width="18.5" height="1"/>
<rect x="414.5" y="400" width="18.5" height="1"/>
<rect x="416" y="401" width="18.5" height="1"/>
<rect x="417.25" y="402" width="18.5" height="1"/>
<rect x="418.75" y="403" width="18.5" height="1"/>
<rect x="420.25" y="404" width="18.25" height="1"/>
<rect x="421.5" y="405" width="18.5" height="1"/>
<rect x="423" y="406" width="18.5" height="1"/>
<rect x="424.25" y="407" width="18.5" height="1"/>
<rect x="425.75" y="408" width="18.5" height="1"/>
<rect x="427.25" y="409" width="18.5" height="1"/>
<rect x="428.5" y="410" width="18.5" height="1"/>
<rect x="430" y="411" width="18.5" height="1"/>
<rect x="431.5" y="412" width="18.5" height="1"/>
<rect x="432.75" y="413" width="18.5" height="1"/>
<rect x="434.25" y="414" width="18.5" height="1"/>
<rect x="435.75" y="415" width="18.5" height="1"/>
<rect x="437" y="416" width="18.5" height="1"/>
<rect x="438.5" y="417" width="18.5" height="1"/>
<rect x="440" y="418" width="18.25" height="1"/>
<rect x="441.25" y="419" width="18.5" height="1"/>
<rect x="442.75" y="420" width="18.5" height="1"/>
<rect x="444.25" y="421" width="18.25" height="1"/>
<rect x="445.5" y="422" width="18.5" height="1"/>
<rect x="447" y="423" width="18.5" height="1"/>
<rect x="448.25" y="424" width="18.5" height="1"/>
<rect x="449.75" y="425" width="18.5" height="1"/>
<rect x="451.25" y="426" width="18.5" height="1"/>
<rect x="452.5" y="427" width="18.5" height="1"/>
<rect x="454" y="428" width="18.5" height="1"/>
<rect x="455.5" y="429" width="18.5" height="1"/>
<rect x="456.75" y="430" width="18.5" height="1"/>
<rect x="458.25" y="431" width="18.5" height="1"/>
<rect x="459.75" y="432" width="18.5" height="1"/>
<rect x="461" y="433" width="18.5" height="1"/>
<rect x="462.5" y="434" width="18.5" height="1"/>
<rect x="464" y="435" width="18.25" height="1"/>
<rect x="465.25" y="436" width="18.5" height="1"/>
<rect x="466.75" y="437" width="18.5" height="1"/>
<rect x="468" y="438" width="18.5" height="1"/>
<rect x="469.5" y="439" width="18.5" height="1"/>
<rect x="471" y="440" width="18.5" height="1"/>
<rect x="472.25" y="441" width="18.5" height="1"/>
<rect x="473.75" y="442" width="18.5" height="1"/>
<rect x="475.25" y="443" width="18.5" height="1"/>
<rect x="476.5" y="444" width="18.5" height="1"/>
<rect x="478" y="445" width="18.5" height="1"/>
<rect x="479.5" y="446" width="18.5" height="1"/>
<rect x="480.75" y="447" width="18.5" height="1"/>
<rect x="482.25" y="448" width="18.5" height="1"/>
<rect x="483.75" y="449" width="18.25" height="1"/>
<rect x="485" y="450" width="18.5" height="1"/>
<rect x="486.5" y="451" width="18.5" height="1"/>
<rect x="487.75" y="452" width="18.5" height="1"/>
<rect x="489.25" y="453" width="18.5" height="1"/>
<rect x="490.75" y="454" width="18.5" height="1"/>
<rect x="492" y="455" width="18.5" height="1"/>
<rect x="493.5" y="456" width="18.5" height="1"/>
<rect x="495" y="457" width="18.5" height="1"/>
<rect x="496.25" y="458" width="18.5" height="1"/>
<rect x="497.75" y="459" width="18.5" height="1"/>
<rect x="499.25" y="460" width="18.5" height="1"/>
<rect x="500.5" y="461" width="18.5" height="1"/>
<rect x="502" y="462" width="18.5" height="1"/>
<rect x="503.5" y="463" width="18.25" height="1"/>
<rect x="504.75" y="464" width="18.5" height="1"/>
<rect x="506.25" y="465" width="18.5" height="1"/>
<rect x="507.75" y="466" width="18.25" height="1"/>
<rect x="509" y="467" width="18.5" height="1"/>
<rect x="510.5" y="468" width="18.5" height="1"/>
<rect x="511.75" y="469" width="18.5" height="1"/>
<rect x="513.25" y="470" width="18.5" height="1"/>
<rect x="514.75" y="471" width="18.5" height="1"/>
<rect x="516" y="472" width="18.5" height="1"/>
<rect x="517.5" y="473" width="18.5" height="1"/>
<rect x="519" y="474" width="18.5" height="1"/>
<rect x="520.25" y="475" width="18.5" height="1"/>
<rect x="521.75" y="476" width="18.5" height="1"/>
<rect x="523.25" y="477" width="18.5" height="1"/>
<rect x="524.5" y="478" width="18.5" height="1"/>
<rect x="526" y="479" width="18.5" height="1"/>
<rect x="527.5" y="480" width="18.25" height="1"/>
<rect x="528.75" y="481" width="18.5" height="1"/>
<rect x="530.25" y="482" width="18.5" height="1"/>
<rect x="531.5" y="483" width="18.5" height="1"/>
<rect x="533" y="484" width="18.5" height="1"/>
</g>
<g fill="url(#b8)">
<rect x="421.75" y="392" width="19.75" height="1"/>
<rect x="423" y="393" width="19.75" height="1"/>
<rect x="424.5" y="394" width="19.5" height="1"/>
<rect x="426" y="395" width="19.25" height="1"/>
<rect x="427.25" y="396" width="19.25" height="1"/>
<rect x="428.75" y="397" width="19" height="1"/>
<rect x="430.25" y="398" width="18.75" height="1"/>
<rect x="431.5" y="399" width="18.75" height="1"/>
<rect x="433" y="400" width="18.75" height="1"/>
<rect x="434.5" y="401" width="18.5" height="1"/>
<rect x="435.75" y="402" width="18.5" height="1"/>
<rect x="437.25" y="403" width="18.25" height="1"/>
<rect x="438.5" y="404" width="18.25" height="1"/>
<rect x="440" y="405" width="18" height="1"/>
<rect x="441.5" y="406" width="17.75" height="1"/>
<rect x="442.75" y="407" width="17.75" height="1"/>
<rect x="444.25" y="408" width="17.5" height="1"/>
<rect x="445.75" y="409" width="17.25" height="1"/>
<rect x="447" y="410" width="17.5" height="1"/>
<rect x="448.5" y="411" width="17.25" height="1"/>
<rect x="450" y="412" width="17" height="1"/>
<rect x="451.25" y="413" width="17" height="1"/>
<rect x="452.75" y="414" width="16.75" height="1"/>
<rect x="454.25" y="415" width="16.5" height="1"/>
<rect x="455.5" y="416" width="16.5" height="1"/>
<rect x="457" y="417" width="16.25" height="1"/>
<rect x="458.25" y="418" width="16.25" height="1"/>
<rect x="459.75" y="419" width="16" height="1"/>
<rect x="461.25" y="420" width="16" height="1"/>
<rect x="462.5" y="421" width="16" height="1"/>
<rect x="464" y="422" width="15.75" height="1"/>
<rect x="465.5" y="423" width="15.5" height="1"/>
<rect x="466.75" y="424" width="15.5" height="1"/>
<rect x="468.25" y="425" width="15.25" height="1"/>
<rect x="469.75" y="426" width="15" height="1"/>
<rect x="471" y="427" width="15" height="1"/>
<rect x="472.5" y="428" width="14.75" height="1"/>
<rect x="474" y="429" width="14.5" height="1"/>
<rect x="475.25" y="430" width="14.5" height="1"/>
<rect x="476.75" y="431" width="14.5" height="1"/>
<rect x="478.25" y="432" width="14.25" height="1"/>
<rect x="479.5" y="433" width="14.25" height="1"/>
<rect x="481" y="434" width="14" height="1"/>
<rect x="482.25" y="435" width="14" height="1"/>
<rect x="483.75" y="436" width="13.75" height="1"/>
<rect x="485.25" y="437" width="13.5" height="1"/>
<rect x="486.5" y="438" width="13.5" height="1"/>
<rect x="488" y="439" width="13.25" height="1"/>
<rect x="489.5" y="440" width="13" height="1"/>
<rect x="490.75" y="441" width="13.25" height="1"/>
<rect x="492.25" y="442" width="13" height="1"/>
<rect x="493.75" y="443" width="12.75" height="1"/>
<rect x="495" y="444" width="12.75" height="1"/>
<rect x="496.5" y="445" width="12.5" height="1"/>
<rect x="498" y="446" width="12.25" height="1"/>
<rect x="499.25" y="447" width="12.25" height="1"/>
<rect x="500.75" y="448" width="12" height="1"/>
<rect x="502" y="449" width="12" height="1"/>
<rect x="503.5" y="450" width="11.75" height="1"/>
<rect x="505" y="451" width="11.5" height="1"/>
<rect x="506.25" y="452" width="11.75" height="1"/>
<rect x="507.75" y="453" width="11.5" height="1"/>
<rect x="509.25" y="454" width="11.25" height="1"/>
<rect x="510.5" y="455" width="11.25" height="1"/>
<rect x="512" y="456" width="11" height="1"/>
<rect x="513.5" y="457" width="10.75" height="1"/>
<rect x="514.75" y="458" width="10.75" height="1"/>
<rect x="516.25" y="459" width="10.5" height="1"/>
<rect x="517.75" y="460" width="10.25" height="1"/>
<rect x="519" y="461" width="10.25" height="1"/>
<rect x="520.5" y="462" width="10.25" height="1"/>
<rect x="521.75" y="463" width="10.25" height="1"/>
<rect x="523.25" y="464" width="10" height="1"/>
<rect x="524.75" y="465" width="9.75" height="1"/>
<rect x="526" y="466" width="9.75" height="1"/>
<rect x="527.5" y="467" width="9.5" height="1"/>
<rect x="529" y="468" width="9.25" height="1"/>
<rect x="530.25" y="469" width="9.25" height="1"/>
<rect x="531.75" y="470" width="9" height="1"/>
<rect x="533.25" y="471" width="8.75" height="1"/>
</g>
<g fill="#073a5e">
<rect x="441.5" y="392" width="93.5" height="1"/>
<rect x="442.75" y="393" width="92.25" height="1"/>
<rect x="444" y="394" width="91" height="1"/>
<rect x="445.25" y="395" width="89.75" height="1"/>
<rect x="446.5" y="396" width="88.5" height="1"/>
<rect x="447.75" y="397" width="87.25" height="1"/>
<rect x="449" y="398" width="86" height="1"/>
<rect x="450.25" y="399" width="84.75" height="1"/>
<rect x="451.75" y="400" width="83.25" height="1"/>
<rect x="453" y="401" width="82" height="1"/>
<rect x="454.25" y="402" width="80.75" height="1"/>
<rect x="455.5" y="403" width="79.5" height="1"/>
<rect x="456.75" y="404" width="78.25" height="1"/>
<rect x="458" y="405" width="77" height="1"/>
<rect x="459.25" y="406" width="75.75" height="1"/>
<rect x="460.5" y="407" width="74.5" height="1"/>
<rect x="461.75" y="408" width="73.25" height="1"/>
<rect x="463" y="409" width="72" height="1"/>
<rect x="464.5" y="410" width="70.5" height="1"/>
<rect x="465.75" y="411" width="69.25" height="1"/>
<rect x="467" y="412" width="68" height="1"/>
<rect x="468.25" y="413" width="66.75" height="1"/>
<rect x="469.5" y="414" width="65.5" height="1"/>
<rect x="470.75" y="415" width="64.25" height="1"/>
<rect x="472" y="416" width="63" height="1"/>
<rect x="473.25" y="417" width="61.75" height="1"/>
<rect x="474.5" y="418" width="60.5" height="1"/>
<rect x="475.75" y="419" width="59.25" height="1"/>
<rect x="477.25" y="420" width="57.75" height="1"/>
<rect x="478.5" y="421" width="56.5" height="1"/>
<rect x="479.75" y="422" width="55.25" height="1"/>
<rect x="481" y="423" width="54" height="1"/>
<rect x="482.25" y="424" width="52.75" height="1"/>
<rect x="483.5" y="425" width="51.5" height="1"/>
<rect x="484.75" y="426" width="50.25" height="1"/>
<rect x="486" y="427" width="49" height="1"/>
<rect x="487.25" y="428" width="47.75" height="1"/>
<rect x="488.5" y="429" width="46.5" height="1"/>
<rect x="489.75" y="430" width="45.25" height="1"/>
<rect x="491.25" y="431" width="43.75" height="1"/>
<rect x="492.5" y="432" width="42.5" height="1"/>
<rect x="493.75" y="433" width="41.25" height="1"/>
<rect x="495" y="434" width="40" height="1"/>
<rect x="496.25" y="435" width="38.75" height="1"/>
<rect x="497.5" y="436" width="37.5" height="1"/>
<rect x="498.75" y="437" width="36.25" height="1"/>
<rect x="500" y="438" width="35" height="1"/>
<rect x="501.25" y="439" width="33.75" height="1"/>
<rect x="502.5" y="440" width="32.5" height="1"/>
<rect x="504" y="441" width="31" height="1"/>
<rect x="505.25" y="442" width="29.75" height="1"/>
<rect x="506.5" y="443" width="28.5" height="1"/>
<rect x="507.75" y="444" width="27.25" height="1"/>
<rect x="509" y="445" width="26" height="1"/>
<rect x="510.25" y="446" width="24.75" height="1"/>
<rect x="511.5" y="447" width="23.5" height="1"/>
<rect x="512.75" y="448" width="22.25" height="1"/>
<rect x="514" y="449" width="21" height="1"/>
<rect x="515.25" y="450" width="19.75" height="1"/>
<rect x="516.5" y="451" width="18.5" height="1"/>
<rect x="518" y="452" width="17" height="1"/>
<rect x="519.25" y="453" width="15.75" height="1"/>
<rect x="520.5" y="454" width="14.5" height="1"/>
<rect x="521.75" y="455" width="13.25" height="1"/>
<rect x="523" y="456" width="12" height="1"/>
<rect x="524.25" y="457" width="10.75" height="1"/>
<rect x="525.5" y="458" width="9.5" height="1"/>
<rect x="526.75" y="459" width="8.25" height="1"/>
<rect x="528" y="460" width="7" height="1"/>
<rect x="529.25" y="461" width="5.75" height="1"/>
<rect x="530.75" y="462" width="4.25" height="1"/>
<rect x="532" y="463" width="3" height="1"/>
<rect x="533.25" y="464" width="1.75" height="1"/>
</g>
<g fill="url(#b5)">
<rect x="354" y="415" width="47.25" height="1"/>
<rect x="355.25" y="416" width="47.5" height="1"/>
<rect x="356.75" y="417" width="47.5" height="1"/>
<rect x="358" y="418" width="47.75" height="1"/>
<rect x="359.5" y="419" width="47.75" height="1"/>
<rect x="360.75" y="420" width="48" height="1"/>
<rect x="362.25" y="421" width="48" height="1"/>
<rect x="363.5" y="422" width="48.25" height="1"/>
<rect x="365" y="423" width="48.25" height="1"/>
<rect x="366.25" y="424" width="48.5" height="1"/>
<rect x="367.5" y="425" width="49" height="1"/>
<rect x="369" y="426" width="49" height="1"/>
<rect x="370.25" y="427" width="49.25" height="1"/>
<rect x="371.75" y="428" width="49.25" height="1"/>
<rect x="373" y="429" width="49.5" height="1"/>
<rect x="374.5" y="430" width="49.5" height="1"/>
<rect x="375.75" y="431" width="49.75" height="1"/>
<rect x="377.25" y="432" width="49.75" height="1"/>
<rect x="378.5" y="433" width="50" height="1"/>
<rect x="380" y="434" width="50" height="1"/>
<rect x="381.25" y="435" width="50.25" height="1"/>
<rect x="382.5" y="436" width="50.5" height="1"/>
<rect x="384" y="437" width="50.5" height="1"/>
<rect x="385.25" y="438" width="51" height="1"/>
<rect x="386.75" y="439" width="51" height="1"/>
<rect x="388" y="440" width="51.25" height="1"/>
<rect x="389.5" y="441" width="51.25" height="1"/>
<rect x="390.75" y="442" width="51.5" height="1"/>
<rect x="392.25" y="443" width="51.5" height="1"/>
<rect x="393.5" y="444" width="51.75" height="1"/>
<rect x="394.75" y="445" width="52" height="1"/>
<rect x="396.25" y="446" width="52" height="1"/>
<rect x="397.5" y="447" width="52.25" height="1"/>
<rect x="399" y="448" width="52.25" height="1"/>
<rect x="400.25" y="449" width="52.5" height="1"/>
<rect x="401.75" y="450" width="52.5" height="1"/>
<rect x="403" y="451" width="53" height="1"/>
<rect x="404.5" y="452" width="53" height="1"/>
<rect x="405.75" y="453" width="53.25" height="1"/>
<rect x="407" y="454" width="53.5" height="1"/>
<rect x="408.5" y="455" width="53.5" height="1"/>
<rect x="409.75" y="456" width="53.75" height="1"/>
<rect x="411.25" y="457" width="53.75" height="1"/>
<rect x="412.5" y="458" width="54" height="1"/>
<rect x="414" y="459" width="54" height="1"/>
<rect x="415.25" y="460" width="54.25" height="1"/>
<rect x="416.75" y="461" width="54.25" height="1"/>
<rect x="418" y="462" width="54.5" height="1"/>
<rect x="419.5" y="463" width="54.5" height="1"/>
<rect x="420.75" y="464" width="55" height="1"/>
<rect x="422" y="465" width="55.25" height="1"/>
<rect x="423.5" y="466" width="55.25" height="1"/>
<rect x="424.75" y="467" width="55.5" height="1"/>
<rect x="426.25" y="468" width="55.5" height="1"/>
<rect x="427.5" y="469" width="55.75" height="1"/>
<rect x="429" y="470" width="55.75" height="1"/>
<rect x="430.25" y="471" width="56" height="1"/>
<rect x="431.75" y="472" width="56" height="1"/>
<rect x="433" y="473" width="56.25" height="1"/>
<rect x="434.25" y="474" width="56.5" height="1"/>
<rect x="435.75" y="475" width="56.5" height="1"/>
<rect x="437" y="476" width="56.75" height="1"/>
<rect x="438.5" y="477" width="56.75" height="1"/>
<rect x="439.75" y="478" width="57.25" height="1"/>
<rect x="441.25" y="479" width="57.25" height="1"/>
<rect x="442.5" y="480" width="57.5" height="1"/>
<rect x="444" y="481" width="57.5" height="1"/>
<rect x="445.25" y="482" width="57.75" height="1"/>
<rect x="446.75" y="483" width="57.75" height="1"/>
<rect x="448" y="484" width="58" height="1"/>
<rect x="449.25" y="485" width="58.25" height="1"/>
<rect x="450.75" y="486" width="58.25" height="1"/>
<rect x="452" y="487" width="58.5" height="1"/>
<rect x="453.5" y="488" width="58.5" height="1"/>
<rect x="454.75" y="489" width="58.75" height="1"/>
<rect x="456.25" y="490" width="58.75" height="1"/>
<rect x="457.5" y="491" width="59.25" height="1"/>
<rect x="459" y="492" width="59.25" height="1"/>
<rect x="460.25" y="493" width="59.5" height="1"/>
<rect x="461.5" y="494" width="59.75" height="1"/>
<rect x="463" y="495" width="59.75" height="1"/>
<rect x="464.25" y="496" width="60" height="1"/>
<rect x="465.75" y="497" width="60" height="1"/>
<rect x="467" y="498" width="60.25" height="1"/>
<rect x="468.5" y="499" width="60.25" height="1"/>
<rect x="469.75" y="500" width="60.5" height="1"/>
<rect x="471.25" y="501" width="60.5" height="1"/>
<rect x="472.5" y="502" width="60.75" height="1"/>
<rect x="473.75" y="503" width="61" height="1"/>
<rect x="475.25" y="504" width="61.25" height="1"/>
<rect x="476.5" y="505" width="61.5" height="1"/>
<rect x="478" y="506" width="61.5" height="1"/>
<rect x="479.25" y="507" width="61.75" height="1"/>
<rect x="480.75" y="508" width="61.75" height="1"/>
<rect x="482" y="509" width="62" height="1"/>
<rect x="483.5" y="510" width="62" height="1"/>
<rect x="484.75" y="511" width="62.25" height="1"/>
<rect x="486.25" y="512" width="62.25" height="1"/>
<rect x="487.5" y="513" width="62.5" height="1"/>
<rect x="488.75" y="514" width="62.75" height="1"/>
<rect x="490.25" y="515" width="62.75" height="1"/>
<rect x="491.5" y="516" width="63" height="1"/>
<rect x="493" y="517" width="63.25" height="1"/>
<rect x="494.25" y="518" width="63.5" height="1"/>
<rect x="495.75" y="519" width="63.5" height="1"/>
<rect x="497" y="520" width="63.75" height="1"/>
<rect x="498.5" y="521" width="63.75" height="1"/>
<rect x="499.75" y="522" width="64" height="1"/>
<rect x="501" y="523" width="64.25" height="1"/>
<rect x="502.5" y="524" width="64.25" height="1"/>
<rect x="503.75" y="525" width="64.5" height="1"/>
<rect x="505.25" y="526" width="64.5" height="1"/>
</g>
<g fill="url(#b9)">
<rect x="378" y="450" width="23.75" height="1"/>
<rect x="379" y="451" width="24" height="1"/>
<rect x="380.25" y="452" width="24.25" height="1"/>
<rect x="381.5" y="453" width="24.25" height="1"/>
<rect x="382.75" y="454" width="24.25" height="1"/>
<rect x="383.75" y="455" width="24.75" height="1"/>
<rect x="385" y="456" width="24.75" height="1"/>
<rect x="386.25" y="457" width="25" height="1"/>
<rect x="387.25" y="458" width="25.25" height="1"/>
<rect x="388.5" y="459" width="25.5" height="1"/>
<rect x="389.75" y="460" width="25.5" height="1"/>
<rect x="391" y="461" width="25.75" height="1"/>
<rect x="392" y="462" width="26" height="1"/>
<rect x="393.25" y="463" width="26.25" height="1"/>
<rect x="394.5" y="464" width="26.25" height="1"/>
<rect x="395.75" y="465" width="26.25" height="1"/>
<rect x="396.75" y="466" width="26.75" height="1"/>
<rect x="398" y="467" width="26.75" height="1"/>
<rect x="399.25" y="468" width="27" height="1"/>
<rect x="400.25" y="469" width="27.25" height="1"/>
<rect x="401.5" y="470" width="27.5" height="1"/>
<rect x="402.75" y="471" width="27.5" height="1"/>
<rect x="404" y="472" width="27.75" height="1"/>
<rect x="405" y="473" width="28" height="1"/>
<rect x="406.25" y="474" width="28" height="1"/>
<rect x="407.5" y="475" width="28.25" height="1"/>
<rect x="408.75" y="476" width="28.25" height="1"/>
<rect x="409.75" y="477" width="28.75" height="1"/>
<rect x="411" y="478" width="28.75" height="1"/>
<rect x="412.25" y="479" width="29" height="1"/>
<rect x="413.25" y="480" width="29.25" height="1"/>
<rect x="414.5" y="481" width="29.5" height="1"/>
<rect x="415.75" y="482" width="29.5" height="1"/>
<rect x="417" y="483" width="29.75" height="1"/>
<rect x="418" y="484" width="30" height="1"/>
<rect x="419.25" y="485" width="30" height="1"/>
<rect x="420.5" y="486" width="30.25" height="1"/>
<rect x="421.5" y="487" width="30.5" height="1"/>
<rect x="422.75" y="488" width="30.75" height="1"/>
<rect x="424" y="489" width="30.75" height="1"/>
<rect x="425.25" y="490" width="31" height="1"/>
<rect x="426.25" y="491" width="31.25" height="1"/>
<rect x="427.5" y="492" width="31.5" height="1"/>
<rect x="428.75" y="493" width="31.5" height="1"/>
<rect x="430" y="494" width="31.5" height="1"/>
<rect x="431" y="495" width="32" height="1"/>
<rect x="432.25" y="496" width="32" height="1"/>
<rect x="433.5" y="497" width="32.25" height="1"/>
<rect x="434.5" y="498" width="32.5" height="1"/>
<rect x="435.75" y="499" width="32.75" height="1"/>
<rect x="437" y="500" width="32.75" height="1"/>
<rect x="438.25" y="501" width="33" height="1"/>
<rect x="439.25" y="502" width="33.25" height="1"/>
<rect x="440.5" y="503" width="33.25" height="1"/>
<rect x="441.75" y="504" width="33.5" height="1"/>
<rect x="442.75" y="505" width="33.75" height="1"/>
<rect x="444" y="506" width="34" height="1"/>
<rect x="445.25" y="507" width="34" height="1"/>
<rect x="446.5" y="508" width="34.25" height="1"/>
<rect x="447.5" y="509" width="34.5" height="1"/>
<rect x="448.75" y="510" width="34.75" height="1"/>
<rect x="450" y="511" width="34.75" height="1"/>
<rect x="451.25" y="512" width="35" height="1"/>
<rect x="452.25" y="513" width="35.25" height="1"/>
<rect x="453.5" y="514" width="35.25" height="1"/>
<rect x="454.75" y="515" width="35.5" height="1"/>
<rect x="455.75" y="516" width="35.75" height="1"/>
<rect x="457" y="517" width="36" height="1"/>
<rect x="458.25" y="518" width="36" height="1"/>
<rect x="459.5" y="519" width="36.25" height="1"/>
<rect x="460.5" y="520" width="36.5" height="1"/>
<rect x="461.75" y="521" width="36.75" height="1"/>
<rect x="463" y="522" width="36.75" height="1"/>
<rect x="464.25" y="523" width="36.75" height="1"/>
<rect x="465.25" y="524" width="37.25" height="1"/>
<rect x="466.5" y="525" width="37.25" height="1"/>
<rect x="467.75" y="526" width="37.5" height="1"/>
</g>
<g fill="url(#b15)">
<rect x="391.5" y="470" width="10" height="1"/>
<rect x="392.75" y="471" width="10" height="1"/>
<rect x="393.75" y="472" width="10.25" height="1"/>
<rect x="395" y="473" width="10" height="1"/>
<rect x="396" y="474" width="10.25" height="1"/>
<rect x="397.25" y="475" width="10.25" height="1"/>
<rect x="398.5" y="476" width="10.25" height="1"/>
<rect x="399.5" y="477" width="10.25" height="1"/>
<rect x="400.75" y="478" width="10.25" height="1"/>
<rect x="401.75" y="479" width="10.5" height="1"/>
<rect x="403" y="480" width="10.25" height="1"/>
<rect x="404.25" y="481" width="10.25" height="1"/>
<rect x="405.25" y="482" width="10.5" height="1"/>
<rect x="406.5" y="483" width="10.5" height="1"/>
<rect x="407.5" y="484" width="10.5" height="1"/>
<rect x="408.75" y="485" width="10.5" height="1"/>
<rect x="410" y="486" width="10.5" height="1"/>
<rect x="411" y="487" width="10.5" height="1"/>
<rect x="412.25" y="488" width="10.5" height="1"/>
<rect x="413.5" y="489" width="10.5" height="1"/>
<rect x="414.5" y="490" width="10.75" height="1"/>
<rect x="415.75" y="491" width="10.5" height="1"/>
<rect x="416.75" y="492" width="10.75" height="1"/>
<rect x="418" y="493" width="10.75" height="1"/>
<rect x="419.25" y="494" width="10.75" height="1"/>
<rect x="420.25" y="495" width="10.75" height="1"/>
<rect x="421.5" y="496" width="10.75" height="1"/>
<rect x="422.5" y="497" width="11" height="1"/>
<rect x="423.75" y="498" width="10.75" height="1"/>
<rect x="425" y="499" width="10.75" height="1"/>
<rect x="426" y="500" width="11" height="1"/>
<rect x="427.25" y="501" width="11" height="1"/>
<rect x="428.5" y="502" width="10.75" height="1"/>
<rect x="429.5" y="503" width="11" height="1"/>
<rect x="430.75" y="504" width="11" height="1"/>
<rect x="431.75" y="505" width="11" height="1"/>
<rect x="433" y="506" width="11" height="1"/>
<rect x="434.25" y="507" width="11" height="1"/>
<rect x="435.25" y="508" width="11.25" height="1"/>
<rect x="436.5" y="509" width="11" height="1"/>
<rect x="437.5" y="510" width="11.25" height="1"/>
<rect x="438.75" y="511" width="11.25" height="1"/>
<rect x="440" y="512" width="11.25" height="1"/>
<rect x="441" y="513" width="11.25" height="1"/>
<rect x="442.25" y="514" width="11.25" height="1"/>
<rect x="443.5" y="515" width="11.25" height="1"/>
<rect x="444.5" y="516" width="11.25" height="1"/>
<rect x="445.75" y="517" width="11.25" height="1"/>
<rect x="446.75" y="518" width="11.5" height="1"/>
<rect x="448" y="519" width="11.5" height="1"/>
<rect x="449.25" y="520" width="11.25" height="1"/>
<rect x="450.25" y="521" width="11.5" height="1"/>
<rect x="451.5" y="522" width="11.5" height="1"/>
<rect x="452.5" y="523" width="11.75" height="1"/>
<rect x="453.75" y="524" width="11.5" height="1"/>
<rect x="455" y="525" width="11.5" height="1"/>
<rect x="456" y="526" width="11.75" height="1"/>
</g>
<g fill="url(#b16)">
<rect x="389" y="479" width="12.75" height="1"/>
<rect x="390" y="480" width="13" height="1"/>
<rect x="391.25" y="481" width="13" height="1"/>
<rect x="392.5" y="482" width="12.75" height="1"/>
<rect x="393.5" y="483" width="13" height="1"/>
<rect x="394.75" y="484" width="12.75" height="1"/>
<rect x="395.75" y="485" width="13" height="1"/>
<rect x="397" y="486" width="13" height="1"/>
<rect x="398.25" y="487" width="12.75" height="1"/>
<rect x="399.25" y="488" width="13" height="1"/>
<rect x="400.5" y="489" width="13" height="1"/>
<rect x="401.5" y="490" width="13" height="1"/>
<rect x="402.75" y="491" width="13" height="1"/>
<rect x="404" y="492" width="12.75" height="1"/>
<rect x="405" y="493" width="13" height="1"/>
<rect x="406.25" y="494" width="13" height="1"/>
<rect x="407.25" y="495" width="13" height="1"/>
<rect x="408.5" y="496" width="13" height="1"/>
<rect x="409.75" y="497" width="12.75" height="1"/>
<rect x="410.75" y="498" width="13" height="1"/>
<rect x="412" y="499" width="13" height="1"/>
<rect x="413" y="500" width="13" height="1"/>
<rect x="414.25" y="501" width="13" height="1"/>
<rect x="415.5" y="502" width="13" height="1"/>
<rect x="416.5" y="503" width="13" height="1"/>
<rect x="417.75" y="504" width="13" height="1"/>
<rect x="418.75" y="505" width="13" height="1"/>
<rect x="420" y="506" width="13" height="1"/>
<rect x="421.25" y="507" width="13" height="1"/>
<rect x="422.25" y="508" width="13" height="1"/>
<rect x="423.5" y="509" width="13" height="1"/>
<rect x="424.5" y="510" width="13" height="1"/>
<rect x="425.75" y="511" width="13" height="1"/>
<rect x="427" y="512" width="13" height="1"/>
<rect x="428" y="513" width="13" height="1"/>
<rect x="429.25" y="514" width="13" height="1"/>
<rect x="430.25" y="515" width="13.25" height="1"/>
<rect x="431.5" y="516" width="13" height="1"/>
<rect x="432.75" y="517" width="13" height="1"/>
<rect x="433.75" y="518" width="13" height="1"/>
<rect x="435" y="519" width="13" height="1"/>
<rect x="436" y="520" width="13.25" height="1"/>
<rect x="437.25" y="521" width="13" height="1"/>
<rect x="438.5" y="522" width="13" height="1"/>
<rect x="439.5" y="523" width="13" height="1"/>
<rect x="440.75" y="524" width="13" height="1"/>
<rect x="441.75" y="525" width="13.25" height="1"/>
<rect x="443" y="526" width="13" height="1"/>
</g>
<g fill="url(#b11)">
<rect x="391.5" y="490" width="10" height="1"/>
<rect x="392.75" y="491" width="10" height="1"/>
<rect x="393.75" y="492" width="10.25" height="1"/>
<rect x="395" y="493" width="10" height="1"/>
<rect x="396.25" y="494" width="10" height="1"/>
<rect x="397.25" y="495" width="10" height="1"/>
<rect x="398.5" y="496" width="10" height="1"/>
<rect x="399.75" y="497" width="10" height="1"/>
<rect x="401" y="498" width="9.75" height="1"/>
<rect x="402" y="499" width="10" height="1"/>
<rect x="403.25" y="500" width="9.75" height="1"/>
<rect x="404.5" y="501" width="9.75" height="1"/>
<rect x="405.5" y="502" width="10" height="1"/>
<rect x="406.75" y="503" width="9.75" height="1"/>
<rect x="408" y="504" width="9.75" height="1"/>
<rect x="409" y="505" width="9.75" height="1"/>
<rect x="410.25" y="506" width="9.75" height="1"/>
<rect x="411.5" y="507" width="9.75" height="1"/>
<rect x="412.5" y="508" width="9.75" height="1"/>
<rect x="413.75" y="509" width="9.75" height="1"/>
<rect x="415" y="510" width="9.5" height="1"/>
<rect x="416.25" y="511" width="9.5" height="1"/>
<rect x="417.25" y="512" width="9.75" height="1"/>
<rect x="418.5" y="513" width="9.5" height="1"/>
<rect x="419.75" y="514" width="9.5" height="1"/>
<rect x="420.75" y="515" width="9.5" height="1"/>
<rect x="422" y="516" width="9.5" height="1"/>
<rect x="423.25" y="517" width="9.5" height="1"/>
<rect x="424.25" y="518" width="9.5" height="1"/>
<rect x="425.5" y="519" width="9.5" height="1"/>
<rect x="426.75" y="520" width="9.25" height="1"/>
<rect x="428" y="521" width="9.25" height="1"/>
<rect x="429" y="522" width="9.5" height="1"/>
<rect x="430.25" y="523" width="9.25" height="1"/>
<rect x="431.5" y="524" width="9.25" height="1"/>
<rect x="432.5" y="525" width="9.25" height="1"/>
<rect x="433.75" y="526" width="9.25" height="1"/>
</g>
<g fill="url(#b17)">
<rect x="383.75" y="499" width="18.25" height="1"/>
<rect x="385" y="500" width="18.25" height="1"/>
<rect x="386.5" y="501" width="18" height="1"/>
<rect x="387.75" y="502" width="17.75" height="1"/>
<rect x="389" y="503" width="17.75" height="1"/>
<rect x="390.25" y="504" width="17.75" height="1"/>
<rect x="391.75" y="505" width="17.25" height="1"/>
<rect x="393" y="506" width="17.25" height="1"/>
<rect x="394.25" y="507" width="17.25" height="1"/>
<rect x="395.5" y="508" width="17" height="1"/>
<rect x="396.75" y="509" width="17" height="1"/>
<rect x="398.25" y="510" width="16.75" height="1"/>
<rect x="399.5" y="511" width="16.75" height="1"/>
<rect x="400.75" y="512" width="16.5" height="1"/>
<rect x="402" y="513" width="16.5" height="1"/>
<rect x="403.5" y="514" width="16.25" height="1"/>
<rect x="404.75" y="515" width="16" height="1"/>
<rect x="406" y="516" width="16" height="1"/>
<rect x="407.25" y="517" width="16" height="1"/>
<rect x="408.75" y="518" width="15.5" height="1"/>
<rect x="410" y="519" width="15.5" height="1"/>
<rect x="411.25" y="520" width="15.5" height="1"/>
<rect x="412.5" y="521" width="15.5" height="1"/>
<rect x="414" y="522" width="15" height="1"/>
<rect x="415.25" y="523" width="15" height="1"/>
<rect x="416.5" y="524" width="15" height="1"/>
<rect x="417.75" y="525" width="14.75" height="1"/>
<rect x="419.25" y="526" width="14.5" height="1"/>
</g>
<g fill="url(#b14)">
<rect x="392.25" y="513" width="9.75" height="1"/>
<rect x="394" y="514" width="9.5" height="1"/>
<rect x="395.5" y="515" width="9.25" height="1"/>
<rect x="397" y="516" width="9" height="1"/>
<rect x="398.5" y="517" width="8.75" height="1"/>
<rect x="400" y="518" width="8.75" height="1"/>
<rect x="401.5" y="519" width="8.5" height="1"/>
<rect x="403.25" y="520" width="8" height="1"/>
<rect x="404.75" y="521" width="7.75" height="1"/>
<rect x="406.25" y="522" width="7.75" height="1"/>
<rect x="407.75" y="523" width="7.5" height="1"/>
<rect x="409.25" y="524" width="7.25" height="1"/>
<rect x="411" y="525" width="6.75" height="1"/>
<rect x="412.5" y="526" width="6.75" height="1"/>
</g>
<g fill="#45107a">
<rect x="400" y="520" width="3.25" height="1"/>
<rect x="400" y="521" width="4.75" height="1"/>
<rect x="400" y="522" width="6.25" height="1"/>
<rect x="400" y="523" width="7.75" height="1"/>
<rect x="400" y="524" width="9.25" height="1"/>
<rect x="400" y="525" width="11" height="1"/>
<rect x="400" y="526" width="12.5" height="1"/>
</g>
</g>
<path class="d" d="M401.6 475.5H533.6 M401.6 497.8H533.6"/>
<text class="w" x="404.8" y="469">RFS</text>
<text class="w" x="404.8" y="490.7">MFS</text>
<text class="w" x="405.8" y="512.2">FFS</text>
<text class="t" x="467.6" y="390">Pogson xynorm</text>
<text class="k" text-anchor="end" x="398.3" y="396">0.75</text>
<text class="k" text-anchor="end" x="398.3" y="463.35">0.25</text>
<text class="k" text-anchor="end" x="398.3" y="530.7">-0.25</text>
<text class="k" text-anchor="middle" x="401.6" y="539.1">2.5</text>
<text class="k" text-anchor="middle" x="467.6" y="539.1">5</text>
<text class="k" text-anchor="middle" x="533.6" y="539.1">7.5</text>
<text class="l" x="467.6" y="550.8">speed (m/s)</text>
<text class="l" transform="translate(373 459.05) rotate(-90)">foot strike angle (rad)</text>
<rect x="205.2" y="592.0" width="168.5" height="17.799999999999955" fill="url(#cb)"/>
<path d="M205.2 592.0H373.7 M205.2 609.8H373.7" stroke="#333" stroke-width=".5" fill="none"/>
<text text-anchor="middle" x="205.2" y="625.6">-50</text>
<text text-anchor="middle" x="247.32" y="625.6">-25</text>
<path d="M247.32 609.8v-1.6" stroke="#222" stroke-width=".6"/>
<text text-anchor="middle" x="290.25" y="625.6">0</text>
<path d="M289.45 609.8v-1.6" stroke="#222" stroke-width=".6"/>
<text text-anchor="middle" x="332.38" y="625.6">+25</text>
<path d="M331.57 609.8v-1.6" stroke="#222" stroke-width=".6"/>
<text text-anchor="middle" x="374.5" y="625.6">+50</text>
<text class="l" x="205.6" y="583.9">under estimation</text>
<text class="l" x="372" y="583.9">over estimation</text>
<text class="l" x="289.5" y="643.0">mean error (kN/s)</text>
</svg></body></html>
